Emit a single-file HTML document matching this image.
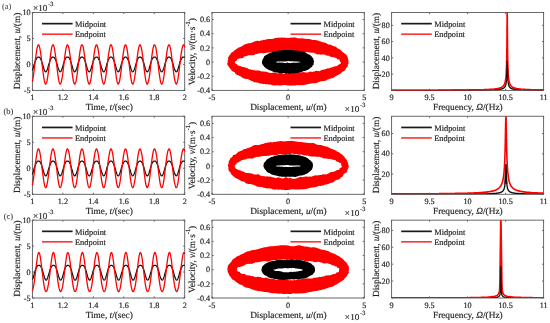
<!DOCTYPE html>
<html><head><meta charset="utf-8"><title>Figure</title>
<style>
html,body{margin:0;padding:0;background:#fff;}
body{width:550px;height:323px;overflow:hidden;}
svg{display:block;filter:blur(0.3px);}
text{font-family:"Liberation Serif", "Times New Roman", serif;fill:#262626;stroke:#262626;stroke-width:0.18px;text-rendering:geometricPrecision;}
</style></head><body>
<svg width="550" height="323" viewBox="0 0 550 323">
<rect width="550" height="323" fill="#fff"/>
<rect x="32.40" y="12.45" width="152.30" height="77.95" fill="none" stroke="#5a5a5a" stroke-width="0.9"/>
<path d="M32.4 70.4L32.7 69.7L33.0 68.8L33.3 67.9L33.6 66.8L33.9 65.8L34.2 64.7L34.5 63.6L34.8 62.6L35.1 61.7L35.4 60.8L35.8 60.0L36.1 59.3L36.4 58.7L36.7 58.2L37.0 57.8L37.3 57.5L37.6 57.3L37.9 57.1L38.2 57.0L38.5 57.0L38.8 57.0L39.1 57.1L39.4 57.3L39.7 57.6L40.0 57.9L40.3 58.3L40.6 58.9L40.9 59.5L41.2 60.2L41.5 61.0L41.8 61.9L42.1 62.8L42.5 63.8L42.8 64.9L43.1 66.0L43.4 67.0L43.7 68.1L44.0 69.0L44.3 69.9L44.6 70.6L44.9 71.2L45.2 71.6L45.5 71.8L45.8 71.8L46.1 71.7L46.4 71.4L46.7 70.8L47.0 70.2L47.3 69.4L47.6 68.5L47.9 67.5L48.2 66.4L48.5 65.3L48.8 64.3L49.2 63.2L49.5 62.3L49.8 61.3L50.1 60.5L50.4 59.8L50.7 59.1L51.0 58.5L51.3 58.1L51.6 57.7L51.9 57.4L52.2 57.2L52.5 57.1L52.8 57.0L53.1 57.0L53.4 57.1L53.7 57.2L54.0 57.4L54.3 57.7L54.6 58.1L54.9 58.5L55.2 59.1L55.5 59.7L55.9 60.5L56.2 61.3L56.5 62.2L56.8 63.2L57.1 64.2L57.4 65.3L57.7 66.4L58.0 67.4L58.3 68.4L58.6 69.3L58.9 70.1L59.2 70.8L59.5 71.3L59.8 71.7L60.1 71.8L60.4 71.8L60.7 71.6L61.0 71.2L61.3 70.6L61.6 69.9L61.9 69.0L62.3 68.1L62.6 67.1L62.9 66.0L63.2 64.9L63.5 63.9L63.8 62.9L64.1 61.9L64.4 61.0L64.7 60.2L65.0 59.5L65.3 58.9L65.6 58.4L65.9 57.9L66.2 57.6L66.5 57.3L66.8 57.1L67.1 57.0L67.4 57.0L67.7 57.0L68.0 57.1L68.3 57.3L68.6 57.5L69.0 57.8L69.3 58.2L69.6 58.7L69.9 59.3L70.2 60.0L70.5 60.8L70.8 61.6L71.1 62.6L71.4 63.6L71.7 64.6L72.0 65.7L72.3 66.8L72.6 67.8L72.9 68.8L73.2 69.7L73.5 70.4L73.8 71.0L74.1 71.5L74.4 71.8L74.7 71.8L75.0 71.7L75.3 71.4L75.7 71.0L76.0 70.3L76.3 69.6L76.6 68.7L76.9 67.7L77.2 66.7L77.5 65.6L77.8 64.5L78.1 63.5L78.4 62.5L78.7 61.6L79.0 60.7L79.3 59.9L79.6 59.2L79.9 58.7L80.2 58.2L80.5 57.8L80.8 57.5L81.1 57.2L81.4 57.1L81.7 57.0L82.0 57.0L82.4 57.0L82.7 57.2L83.0 57.3L83.3 57.6L83.6 58.0L83.9 58.4L84.2 58.9L84.5 59.6L84.8 60.3L85.1 61.1L85.4 62.0L85.7 63.0L86.0 64.0L86.3 65.1L86.6 66.1L86.9 67.2L87.2 68.2L87.5 69.1L87.8 70.0L88.1 70.7L88.4 71.2L88.8 71.6L89.1 71.8L89.4 71.8L89.7 71.7L90.0 71.3L90.3 70.8L90.6 70.1L90.9 69.2L91.2 68.3L91.5 67.3L91.8 66.3L92.1 65.2L92.4 64.1L92.7 63.1L93.0 62.1L93.3 61.2L93.6 60.4L93.9 59.7L94.2 59.0L94.5 58.5L94.8 58.0L95.1 57.7L95.5 57.4L95.8 57.2L96.1 57.0L96.4 57.0L96.7 57.0L97.0 57.1L97.3 57.2L97.6 57.4L97.9 57.7L98.2 58.1L98.5 58.6L98.8 59.2L99.1 59.8L99.4 60.6L99.7 61.4L100.0 62.4L100.3 63.4L100.6 64.4L100.9 65.5L101.2 66.5L101.5 67.6L101.8 68.6L102.2 69.5L102.5 70.3L102.8 70.9L103.1 71.4L103.4 71.7L103.7 71.8L104.0 71.8L104.3 71.5L104.6 71.1L104.9 70.5L105.2 69.8L105.5 68.9L105.8 67.9L106.1 66.9L106.4 65.9L106.7 64.8L107.0 63.7L107.3 62.7L107.6 61.8L107.9 60.9L108.2 60.1L108.5 59.4L108.9 58.8L109.2 58.3L109.5 57.9L109.8 57.5L110.1 57.3L110.4 57.1L110.7 57.0L111.0 57.0L111.3 57.0L111.6 57.1L111.9 57.3L112.2 57.5L112.5 57.9L112.8 58.3L113.1 58.8L113.4 59.4L113.7 60.1L114.0 60.9L114.3 61.8L114.6 62.7L114.9 63.7L115.3 64.8L115.6 65.9L115.9 66.9L116.2 68.0L116.5 68.9L116.8 69.8L117.1 70.5L117.4 71.1L117.7 71.5L118.0 71.8L118.3 71.8L118.6 71.7L118.9 71.4L119.2 70.9L119.5 70.2L119.8 69.5L120.1 68.6L120.4 67.6L120.7 66.5L121.0 65.5L121.3 64.4L121.6 63.3L122.0 62.4L122.3 61.4L122.6 60.6L122.9 59.8L123.2 59.2L123.5 58.6L123.8 58.1L124.1 57.7L124.4 57.4L124.7 57.2L125.0 57.1L125.3 57.0L125.6 57.0L125.9 57.1L126.2 57.2L126.5 57.4L126.8 57.7L127.1 58.0L127.4 58.5L127.7 59.0L128.0 59.7L128.3 60.4L128.7 61.2L129.0 62.1L129.3 63.1L129.6 64.1L129.9 65.2L130.2 66.3L130.5 67.3L130.8 68.3L131.1 69.3L131.4 70.1L131.7 70.8L132.0 71.3L132.3 71.7L132.6 71.8L132.9 71.8L133.2 71.6L133.5 71.2L133.8 70.7L134.1 70.0L134.4 69.1L134.7 68.2L135.1 67.2L135.4 66.1L135.7 65.0L136.0 64.0L136.3 63.0L136.6 62.0L136.9 61.1L137.2 60.3L137.5 59.6L137.8 58.9L138.1 58.4L138.4 58.0L138.7 57.6L139.0 57.3L139.3 57.2L139.6 57.0L139.9 57.0L140.2 57.0L140.5 57.1L140.8 57.2L141.1 57.5L141.4 57.8L141.8 58.2L142.1 58.7L142.4 59.3L142.7 59.9L143.0 60.7L143.3 61.6L143.6 62.5L143.9 63.5L144.2 64.5L144.5 65.6L144.8 66.7L145.1 67.7L145.4 68.7L145.7 69.6L146.0 70.4L146.3 71.0L146.6 71.5L146.9 71.7L147.2 71.8L147.5 71.8L147.8 71.5L148.1 71.0L148.5 70.4L148.8 69.7L149.1 68.8L149.4 67.8L149.7 66.8L150.0 65.7L150.3 64.6L150.6 63.6L150.9 62.6L151.2 61.6L151.5 60.8L151.8 60.0L152.1 59.3L152.4 58.7L152.7 58.2L153.0 57.8L153.3 57.5L153.6 57.3L153.9 57.1L154.2 57.0L154.5 57.0L154.8 57.0L155.2 57.1L155.5 57.3L155.8 57.6L156.1 57.9L156.4 58.4L156.7 58.9L157.0 59.5L157.3 60.2L157.6 61.0L157.9 61.9L158.2 62.9L158.5 63.9L158.8 65.0L159.1 66.0L159.4 67.1L159.7 68.1L160.0 69.0L160.3 69.9L160.6 70.6L160.9 71.2L161.2 71.6L161.6 71.8L161.9 71.8L162.2 71.7L162.5 71.3L162.8 70.8L163.1 70.1L163.4 69.3L163.7 68.4L164.0 67.4L164.3 66.4L164.6 65.3L164.9 64.2L165.2 63.2L165.5 62.2L165.8 61.3L166.1 60.5L166.4 59.7L166.7 59.1L167.0 58.5L167.3 58.1L167.6 57.7L167.9 57.4L168.3 57.2L168.6 57.1L168.9 57.0L169.2 57.0L169.5 57.1L169.8 57.2L170.1 57.4L170.4 57.7L170.7 58.1L171.0 58.5L171.3 59.1L171.6 59.8L171.9 60.5L172.2 61.3L172.5 62.3L172.8 63.3L173.1 64.3L173.4 65.4L173.7 66.4L174.0 67.5L174.3 68.5L174.6 69.4L175.0 70.2L175.3 70.8L175.6 71.4L175.9 71.7L176.2 71.8L176.5 71.8L176.8 71.6L177.1 71.2L177.4 70.6L177.7 69.8L178.0 69.0L178.3 68.0L178.6 67.0L178.9 66.0L179.2 64.9L179.5 63.8L179.8 62.8L180.1 61.9L180.4 61.0L180.7 60.2L181.0 59.5L181.3 58.9L181.7 58.3L182.0 57.9L182.3 57.6L182.6 57.3L182.9 57.1L183.2 57.0L183.5 57.0L183.8 57.0L184.1 57.1L184.4 57.3L184.7 57.5" fill="none" stroke="#111" stroke-width="1.25" stroke-linejoin="round"/>
<path d="M32.4 81.5L32.7 80.1L33.0 78.4L33.3 76.4L33.6 74.3L33.9 72.0L34.2 69.5L34.5 67.0L34.8 64.4L35.1 61.8L35.4 59.3L35.8 56.8L36.1 54.5L36.4 52.4L36.7 50.4L37.0 48.7L37.3 47.3L37.6 46.2L37.9 45.4L38.2 44.9L38.5 44.8L38.8 45.0L39.1 45.5L39.4 46.4L39.7 47.6L40.0 49.1L40.3 50.8L40.6 52.8L40.9 55.0L41.2 57.3L41.5 59.8L41.8 62.3L42.1 64.9L42.5 67.5L42.8 70.0L43.1 72.5L43.4 74.7L43.7 76.9L44.0 78.7L44.3 80.4L44.6 81.8L44.9 82.8L45.2 83.6L45.5 84.0L45.8 84.0L46.1 83.8L46.4 83.2L46.7 82.2L47.0 81.0L47.3 79.5L47.6 77.7L47.9 75.7L48.2 73.4L48.5 71.1L48.8 68.6L49.2 66.0L49.5 63.4L49.8 60.8L50.1 58.3L50.4 55.9L50.7 53.7L51.0 51.6L51.3 49.8L51.6 48.2L51.9 46.9L52.2 45.8L52.5 45.2L52.8 44.8L53.1 44.8L53.4 45.1L53.7 45.8L54.0 46.8L54.3 48.1L54.6 49.7L54.9 51.5L55.2 53.6L55.5 55.8L55.9 58.2L56.2 60.7L56.5 63.3L56.8 65.9L57.1 68.5L57.4 71.0L57.7 73.3L58.0 75.6L58.3 77.6L58.6 79.4L58.9 80.9L59.2 82.2L59.5 83.1L59.8 83.8L60.1 84.0L60.4 84.0L60.7 83.6L61.0 82.9L61.3 81.8L61.6 80.4L61.9 78.8L62.3 76.9L62.6 74.8L62.9 72.5L63.2 70.1L63.5 67.6L63.8 65.0L64.1 62.4L64.4 59.9L64.7 57.4L65.0 55.1L65.3 52.9L65.6 50.9L65.9 49.1L66.2 47.6L66.5 46.4L66.8 45.5L67.1 45.0L67.4 44.8L67.7 44.9L68.0 45.4L68.3 46.2L68.6 47.3L69.0 48.7L69.3 50.4L69.6 52.3L69.9 54.4L70.2 56.7L70.5 59.2L70.8 61.7L71.1 64.3L71.4 66.9L71.7 69.4L72.0 71.9L72.3 74.2L72.6 76.4L72.9 78.3L73.2 80.0L73.5 81.5L73.8 82.6L74.1 83.4L74.4 83.9L74.7 84.1L75.0 83.9L75.3 83.3L75.7 82.5L76.0 81.3L76.3 79.9L76.6 78.1L76.9 76.2L77.2 74.0L77.5 71.6L77.8 69.2L78.1 66.6L78.4 64.0L78.7 61.5L79.0 58.9L79.3 56.5L79.6 54.2L79.9 52.1L80.2 50.2L80.5 48.5L80.8 47.1L81.1 46.1L81.4 45.3L81.7 44.9L82.0 44.8L82.4 45.0L82.7 45.6L83.0 46.5L83.3 47.8L83.6 49.3L83.9 51.1L84.2 53.1L84.5 55.3L84.8 57.7L85.1 60.1L85.4 62.7L85.7 65.3L86.0 67.9L86.3 70.4L86.6 72.8L86.9 75.1L87.2 77.1L87.5 79.0L87.8 80.6L88.1 81.9L88.4 82.9L88.8 83.6L89.1 84.0L89.4 84.0L89.7 83.7L90.0 83.1L90.3 82.1L90.6 80.8L90.9 79.2L91.2 77.4L91.5 75.3L91.8 73.1L92.1 70.7L92.4 68.2L92.7 65.6L93.0 63.0L93.3 60.5L93.6 58.0L93.9 55.6L94.2 53.4L94.5 51.3L94.8 49.5L95.1 48.0L95.5 46.7L95.8 45.7L96.1 45.1L96.4 44.8L96.7 44.8L97.0 45.2L97.3 45.9L97.6 47.0L97.9 48.3L98.2 49.9L98.5 51.8L98.8 53.9L99.1 56.2L99.4 58.6L99.7 61.1L100.0 63.7L100.3 66.3L100.6 68.8L100.9 71.3L101.2 73.7L101.5 75.9L101.8 77.9L102.2 79.6L102.5 81.1L102.8 82.4L103.1 83.2L103.4 83.8L103.7 84.1L104.0 83.9L104.3 83.5L104.6 82.7L104.9 81.6L105.2 80.2L105.5 78.6L105.8 76.6L106.1 74.5L106.4 72.2L106.7 69.8L107.0 67.2L107.3 64.7L107.6 62.1L107.9 59.5L108.2 57.1L108.5 54.7L108.9 52.6L109.2 50.6L109.5 48.9L109.8 47.4L110.1 46.3L110.4 45.5L110.7 44.9L111.0 44.8L111.3 44.9L111.6 45.5L111.9 46.3L112.2 47.5L112.5 48.9L112.8 50.6L113.1 52.6L113.4 54.7L113.7 57.1L114.0 59.5L114.3 62.1L114.6 64.7L114.9 67.3L115.3 69.8L115.6 72.2L115.9 74.5L116.2 76.7L116.5 78.6L116.8 80.2L117.1 81.6L117.4 82.7L117.7 83.5L118.0 83.9L118.3 84.1L118.6 83.8L118.9 83.2L119.2 82.3L119.5 81.1L119.8 79.6L120.1 77.9L120.4 75.9L120.7 73.7L121.0 71.3L121.3 68.8L121.6 66.3L122.0 63.7L122.3 61.1L122.6 58.6L122.9 56.2L123.2 53.9L123.5 51.8L123.8 49.9L124.1 48.3L124.4 47.0L124.7 45.9L125.0 45.2L125.3 44.8L125.6 44.8L125.9 45.1L126.2 45.7L126.5 46.7L126.8 48.0L127.1 49.5L127.4 51.3L127.7 53.4L128.0 55.6L128.3 58.0L128.7 60.5L129.0 63.1L129.3 65.7L129.6 68.2L129.9 70.7L130.2 73.1L130.5 75.4L130.8 77.4L131.1 79.2L131.4 80.8L131.7 82.1L132.0 83.1L132.3 83.7L132.6 84.0L132.9 84.0L133.2 83.6L133.5 82.9L133.8 81.9L134.1 80.6L134.4 79.0L134.7 77.1L135.1 75.0L135.4 72.8L135.7 70.4L136.0 67.8L136.3 65.3L136.6 62.7L136.9 60.1L137.2 57.6L137.5 55.3L137.8 53.1L138.1 51.1L138.4 49.3L138.7 47.8L139.0 46.5L139.3 45.6L139.6 45.0L139.9 44.8L140.2 44.9L140.5 45.3L140.8 46.1L141.1 47.1L141.4 48.5L141.8 50.2L142.1 52.1L142.4 54.2L142.7 56.5L143.0 58.9L143.3 61.5L143.6 64.1L143.9 66.6L144.2 69.2L144.5 71.7L144.8 74.0L145.1 76.2L145.4 78.1L145.7 79.9L146.0 81.3L146.3 82.5L146.6 83.4L146.9 83.9L147.2 84.1L147.5 83.9L147.8 83.4L148.1 82.6L148.5 81.4L148.8 80.0L149.1 78.3L149.4 76.3L149.7 74.2L150.0 71.9L150.3 69.4L150.6 66.9L150.9 64.3L151.2 61.7L151.5 59.2L151.8 56.7L152.1 54.4L152.4 52.3L152.7 50.3L153.0 48.7L153.3 47.3L153.6 46.1L153.9 45.4L154.2 44.9L154.5 44.8L154.8 45.0L155.2 45.6L155.5 46.4L155.8 47.6L156.1 49.1L156.4 50.9L156.7 52.9L157.0 55.1L157.3 57.4L157.6 59.9L157.9 62.5L158.2 65.0L158.5 67.6L158.8 70.1L159.1 72.6L159.4 74.8L159.7 76.9L160.0 78.8L160.3 80.5L160.6 81.8L160.9 82.9L161.2 83.6L161.6 84.0L161.9 84.0L162.2 83.8L162.5 83.1L162.8 82.2L163.1 80.9L163.4 79.4L163.7 77.6L164.0 75.5L164.3 73.3L164.6 70.9L164.9 68.4L165.2 65.9L165.5 63.3L165.8 60.7L166.1 58.2L166.4 55.8L166.7 53.6L167.0 51.5L167.3 49.7L167.6 48.1L167.9 46.8L168.3 45.8L168.6 45.1L168.9 44.8L169.2 44.8L169.5 45.2L169.8 45.9L170.1 46.9L170.4 48.2L170.7 49.8L171.0 51.6L171.3 53.7L171.6 56.0L171.9 58.4L172.2 60.9L172.5 63.4L172.8 66.0L173.1 68.6L173.4 71.1L173.7 73.5L174.0 75.7L174.3 77.7L174.6 79.5L175.0 81.0L175.3 82.2L175.6 83.2L175.9 83.8L176.2 84.0L176.5 84.0L176.8 83.6L177.1 82.8L177.4 81.7L177.7 80.4L178.0 78.7L178.3 76.8L178.6 74.7L178.9 72.4L179.2 70.0L179.5 67.5L179.8 64.9L180.1 62.3L180.4 59.8L180.7 57.3L181.0 54.9L181.3 52.8L181.7 50.8L182.0 49.0L182.3 47.6L182.6 46.4L182.9 45.5L183.2 45.0L183.5 44.8L183.8 44.9L184.1 45.4L184.4 46.2L184.7 47.3" fill="none" stroke="#ff0000" stroke-width="1.3" stroke-linejoin="round"/>
<path d="M32.40 90.40v-1.6M32.40 12.45v1.6" stroke="#5a5a5a" stroke-width="0.9"/>
<text x="32.40" y="100.00" text-anchor="middle" font-size="8.2">1</text>
<path d="M62.86 90.40v-1.6M62.86 12.45v1.6" stroke="#5a5a5a" stroke-width="0.9"/>
<text x="62.86" y="100.00" text-anchor="middle" font-size="8.2">1.2</text>
<path d="M93.32 90.40v-1.6M93.32 12.45v1.6" stroke="#5a5a5a" stroke-width="0.9"/>
<text x="93.32" y="100.00" text-anchor="middle" font-size="8.2">1.4</text>
<path d="M123.78 90.40v-1.6M123.78 12.45v1.6" stroke="#5a5a5a" stroke-width="0.9"/>
<text x="123.78" y="100.00" text-anchor="middle" font-size="8.2">1.6</text>
<path d="M154.24 90.40v-1.6M154.24 12.45v1.6" stroke="#5a5a5a" stroke-width="0.9"/>
<text x="154.24" y="100.00" text-anchor="middle" font-size="8.2">1.8</text>
<path d="M184.70 90.40v-1.6M184.70 12.45v1.6" stroke="#5a5a5a" stroke-width="0.9"/>
<text x="184.70" y="100.00" text-anchor="middle" font-size="8.2">2</text>
<path d="M32.40 90.40h1.6M184.70 90.40h-1.6" stroke="#5a5a5a" stroke-width="0.9"/>
<text x="30.60" y="93.05" text-anchor="end" font-size="8.2">-5</text>
<path d="M32.40 64.42h1.6M184.70 64.42h-1.6" stroke="#5a5a5a" stroke-width="0.9"/>
<text x="30.60" y="67.07" text-anchor="end" font-size="8.2">0</text>
<path d="M32.40 38.43h1.6M184.70 38.43h-1.6" stroke="#5a5a5a" stroke-width="0.9"/>
<text x="30.60" y="41.08" text-anchor="end" font-size="8.2">5</text>
<path d="M32.40 12.45h1.6M184.70 12.45h-1.6" stroke="#5a5a5a" stroke-width="0.9"/>
<text x="30.60" y="15.10" text-anchor="end" font-size="8.2">10</text>
<text x="33.00" y="11.15" font-size="9.1">×10<tspan font-size="6.3" dx="0.9" dy="-4.8">-3</tspan></text>
<path d="M42.00 23.65h30.6" stroke="#1a1a1a" stroke-width="1.7"/>
<path d="M42.00 34.15h30.6" stroke="#ff0000" stroke-width="1.3"/>
<text x="75.00" y="26.85" font-size="8.4">Midpoint</text>
<text x="75.00" y="37.35" font-size="8.4">Endpoint</text>
<text x="109.25" y="110.00" text-anchor="middle" font-size="9.3">Time, <tspan font-style="italic">t</tspan>/(sec)</text>
<text transform="translate(20.2 50.93) rotate(-90)" text-anchor="middle" font-size="9.3">Displacement, <tspan font-style="italic">u</tspan>/(m)</text>
<rect x="212.00" y="12.45" width="152.30" height="77.95" fill="none" stroke="#5a5a5a" stroke-width="0.9"/>
<path d="M348.4 61.7L348.2 62.0L348.5 62.4L348.6 62.8L348.6 63.2L348.4 63.5L348.4 63.9L348.1 64.3L347.8 64.6L347.8 65.0L348.0 65.4L347.6 65.8L347.7 66.2L347.6 66.6L347.2 66.9L346.7 67.2L346.7 67.6L346.3 68.0L346.1 68.3L345.9 68.7L345.6 69.1L345.3 69.5L345.2 69.9L345.0 70.3L344.6 70.6L344.2 71.0L343.6 71.2L342.9 71.4L342.5 71.7L341.9 72.0L341.6 72.4L341.5 72.9L341.1 73.3L340.5 73.5L340.1 73.9L339.5 74.1L338.9 74.4L338.6 74.8L337.9 75.0L337.3 75.3L336.9 75.7L336.1 75.9L335.4 76.1L335.1 76.5L334.6 76.9L334.0 77.2L333.6 77.8L332.9 77.9L332.2 78.2L331.4 78.3L330.8 78.6L329.9 78.7L329.4 79.1L328.6 79.2L327.8 79.4L327.1 79.7L326.6 80.2L325.8 80.4L325.1 80.7L324.4 81.0L323.5 81.0L322.7 81.1L321.8 81.2L321.0 81.3L320.2 81.6L319.4 81.8L318.6 82.0L317.9 82.4L317.2 82.8L316.4 83.0L315.6 83.2L314.7 83.3L313.7 83.2L312.8 83.3L311.9 83.4L311.0 83.6L310.1 83.6L309.3 83.9L308.4 83.9L307.5 84.1L306.7 84.4L305.8 84.8L304.9 84.8L304.0 84.9L303.1 85.2L302.2 85.1L301.2 85.2L300.3 85.2L299.3 85.3L298.4 85.1L297.4 85.2L296.5 85.1L295.6 85.4L294.6 85.5L293.7 85.5L292.7 85.5L291.8 85.5L290.9 85.7L289.9 85.6L288.9 85.5L288.0 85.4L287.1 85.4L286.1 85.0L285.2 84.9L284.2 84.9L283.3 85.1L282.3 85.2L281.4 85.4L280.4 85.5L279.5 85.5L278.5 85.5L277.6 85.2L276.7 85.3L275.7 85.4L274.7 85.4L273.8 85.3L272.9 85.3L271.9 85.2L271.1 84.8L270.2 84.5L269.3 84.5L268.4 84.4L267.5 84.2L266.6 84.2L265.6 84.3L264.7 84.1L263.8 84.0L262.9 84.0L262.1 83.7L261.2 83.6L260.3 83.5L259.4 83.4L258.8 82.8L257.8 82.8L257.0 82.6L256.2 82.5L255.3 82.3L254.5 82.2L253.7 81.9L253.1 81.5L252.4 81.1L251.6 80.9L250.9 80.6L250.3 80.3L249.5 80.0L248.9 79.7L248.4 79.2L247.7 78.9L246.8 78.9L245.9 78.9L245.2 78.7L244.4 78.5L243.5 78.4L243.0 78.0L242.5 77.6L241.8 77.4L241.3 77.0L240.8 76.6L240.3 76.3L239.6 76.1L239.1 75.7L238.6 75.4L238.0 75.1L237.3 74.9L236.7 74.7L236.2 74.3L235.7 74.0L235.3 73.6L235.1 73.1L235.0 72.6L234.7 72.2L234.1 72.0L233.6 71.7L233.0 71.5L232.5 71.2L232.0 70.9L231.6 70.5L231.4 70.2L231.2 69.7L230.8 69.4L230.6 69.0L230.3 68.7L230.0 68.3L229.7 68.0L229.4 67.6L229.1 67.3L228.9 66.9L228.6 66.5L228.3 66.2L228.2 65.8L227.9 65.5L227.6 65.1L227.4 64.7L227.3 64.3L227.3 63.9L227.2 63.6L227.2 63.2L227.6 62.8L227.7 62.4L227.6 62.0L227.6 61.7L227.7 61.3L227.6 60.9L227.7 60.5L227.8 60.2L228.2 59.8L228.2 59.4L228.0 59.0L228.1 58.7L228.0 58.3L227.8 57.8L228.2 57.5L228.5 57.1L228.6 56.7L228.7 56.4L229.0 56.0L229.3 55.6L229.6 55.3L229.7 54.9L230.2 54.6L230.6 54.3L230.6 53.8L230.7 53.4L231.0 53.0L231.4 52.7L232.0 52.4L232.4 52.1L233.0 51.8L233.6 51.6L233.8 51.1L234.1 50.7L234.5 50.4L234.9 50.1L235.6 49.8L236.1 49.6L236.4 49.1L236.8 48.7L237.4 48.4L237.6 47.9L238.2 47.7L239.0 47.5L239.7 47.3L240.1 46.9L240.9 46.7L241.6 46.5L242.0 46.1L242.6 45.7L243.2 45.4L243.7 45.1L244.1 44.6L245.0 44.5L245.7 44.2L246.3 43.8L247.1 43.7L247.9 43.6L248.6 43.2L249.5 43.2L250.3 43.1L251.1 42.9L251.8 42.6L252.6 42.4L253.3 42.1L254.0 41.8L254.6 41.3L255.4 41.2L256.2 40.9L257.1 40.8L258.0 40.8L259.0 40.9L259.9 40.9L260.7 40.5L261.6 40.5L262.4 40.3L263.2 39.9L264.0 39.7L265.0 39.9L265.8 39.4L266.7 39.3L267.6 39.2L268.4 39.1L269.3 38.9L270.3 39.1L271.2 38.9L272.1 38.9L273.0 38.7L273.9 38.5L274.8 38.2L275.7 37.8L276.6 37.9L277.6 37.7L278.5 37.6L279.5 37.7L280.4 37.8L281.3 37.5L282.3 37.6L283.3 37.8L284.2 37.6L285.2 37.7L286.1 38.0L287.1 37.9L288.0 37.8L288.9 38.0L289.9 37.8L290.9 37.5L291.8 37.7L292.8 37.5L293.7 37.4L294.7 37.4L295.6 37.6L296.5 37.8L297.4 38.2L298.4 38.2L299.3 38.2L300.2 38.5L301.2 38.3L302.1 38.3L303.0 38.4L303.9 38.6L304.9 38.7L305.7 38.9L306.7 38.8L307.5 39.1L308.5 39.0L309.4 39.0L310.3 39.3L311.1 39.5L312.0 39.7L312.9 39.9L313.7 40.1L314.7 39.9L315.5 40.1L316.4 40.2L317.2 40.5L318.2 40.4L318.9 40.9L319.6 41.2L320.4 41.5L321.2 41.6L321.8 42.1L322.6 42.2L323.5 42.3L324.3 42.5L325.0 42.8L325.8 42.9L326.5 43.3L327.0 43.7L327.6 44.1L328.2 44.5L329.0 44.6L329.9 44.6L330.6 44.8L331.4 45.0L332.0 45.3L332.6 45.7L333.1 46.0L333.9 46.2L334.7 46.3L335.4 46.5L335.9 46.9L336.4 47.2L336.9 47.6L337.3 48.0L337.6 48.4L338.3 48.6L338.9 48.9L339.5 49.2L340.0 49.5L340.5 49.8L340.8 50.2L341.1 50.6L341.5 51.0L341.8 51.3L342.2 51.7L342.7 52.0L343.1 52.3L343.3 52.7L343.7 53.0L344.2 53.3L344.7 53.6L345.3 53.9L345.7 54.2L346.2 54.5L346.5 54.8L346.6 55.2L346.8 55.6L347.0 56.0L347.3 56.4L347.4 56.8L347.7 57.1L347.9 57.5L347.8 57.9L347.8 58.3L348.0 58.6L348.0 59.0L348.2 59.4L348.4 59.8L348.6 60.1L348.4 60.5L348.5 60.9L348.4 61.3ZM340.3 62.1L340.1 61.9L339.8 61.8L339.9 61.6L340.0 61.4L340.0 61.2L340.0 61.0L339.6 60.9L339.8 60.7L339.6 60.5L339.7 60.3L339.7 60.1L339.7 59.9L339.4 59.7L339.0 59.6L338.3 59.5L337.9 59.3L337.6 59.2L337.1 59.1L337.3 58.7L337.0 58.6L336.6 58.4L336.4 58.2L336.3 57.9L335.5 57.9L335.2 57.7L334.8 57.5L334.1 57.4L333.6 57.3L333.3 57.1L332.9 56.9L331.9 57.0L331.3 56.9L330.8 56.7L330.5 56.4L329.7 56.4L329.4 56.1L329.1 55.7L328.3 55.8L327.5 55.8L327.0 55.6L326.4 55.4L325.8 55.2L325.4 54.9L325.1 54.5L324.3 54.4L323.5 54.4L322.5 54.6L321.7 54.6L320.8 54.7L320.1 54.6L319.3 54.6L318.8 54.3L317.9 54.4L317.1 54.4L316.5 54.1L316.0 53.7L315.3 53.6L314.7 53.3L314.0 53.0L313.4 52.6L312.5 52.8L311.7 52.8L310.9 52.7L310.3 52.4L309.4 52.5L308.8 52.2L307.9 52.4L307.2 52.1L306.3 52.3L305.5 52.4L304.7 52.6L304.0 52.4L303.2 52.4L302.5 52.3L301.8 52.2L301.1 51.8L300.4 51.8L299.7 51.7L299.0 51.5L298.4 51.1L297.6 51.2L297.0 51.0L296.2 51.3L295.6 51.4L294.9 51.2L294.3 51.3L293.7 51.1L293.1 51.0L292.4 51.1L291.9 51.2L291.3 51.2L290.8 51.2L290.2 51.2L289.8 51.2L289.3 51.3L288.9 51.4L288.5 51.0L288.2 50.7L288.0 50.9L287.8 50.9L287.5 50.6L287.1 50.8L286.7 51.3L286.2 50.9L285.7 50.8L285.2 50.8L284.7 51.1L284.1 50.7L283.5 50.9L283.0 51.1L282.3 51.0L281.7 51.0L281.1 51.5L280.5 51.4L279.8 51.4L279.1 51.4L278.4 51.5L277.7 51.4L277.0 51.4L276.4 51.9L275.7 52.3L274.9 51.9L274.1 51.8L273.4 52.0L272.6 51.9L271.8 51.9L271.2 52.3L270.5 52.5L269.7 52.4L269.0 52.6L268.1 52.4L267.3 52.5L266.7 52.8L266.0 52.9L265.1 52.9L264.5 53.2L263.8 53.3L262.9 53.2L262.1 53.2L261.2 53.1L260.3 52.9L259.5 53.0L259.0 53.5L258.3 53.6L257.6 53.8L257.0 54.0L256.3 54.1L255.5 54.1L255.0 54.5L254.5 54.8L254.0 55.1L253.3 55.2L252.6 55.3L251.7 55.2L250.9 55.2L250.2 55.2L249.2 55.1L248.6 55.3L248.1 55.5L247.5 55.6L247.1 55.9L246.6 56.1L245.9 56.2L245.4 56.3L244.8 56.5L244.2 56.6L243.9 56.9L243.7 57.2L243.5 57.5L243.2 57.7L242.9 57.9L242.4 58.0L241.9 58.2L241.2 58.2L240.5 58.2L240.0 58.3L239.7 58.5L238.9 58.5L238.4 58.7L238.3 58.9L237.7 59.0L237.4 59.2L237.1 59.3L237.2 59.6L237.0 59.8L237.1 60.0L236.7 60.2L236.9 60.4L236.6 60.6L236.4 60.7L236.1 60.9L235.8 61.0L235.4 61.2L235.2 61.3L235.0 61.5L235.0 61.7L235.0 61.9L235.1 62.1L235.0 62.3L234.8 62.4L234.7 62.6L234.9 62.8L235.1 63.0L235.0 63.2L235.3 63.3L235.8 63.5L236.0 63.7L236.1 63.8L236.7 63.9L236.8 64.1L236.9 64.3L236.9 64.5L237.1 64.7L237.2 64.9L237.5 65.1L237.7 65.3L238.2 65.4L238.6 65.5L238.9 65.7L239.4 65.8L239.9 65.9L240.4 66.0L240.8 66.2L241.0 66.4L241.6 66.5L241.8 66.7L242.2 66.9L242.7 67.0L243.5 67.0L244.0 67.2L244.4 67.3L245.0 67.5L245.5 67.6L246.1 67.7L246.6 67.9L247.3 67.9L247.5 68.3L248.0 68.5L248.3 68.9L248.9 69.0L249.3 69.4L250.3 69.2L250.7 69.6L251.3 69.7L252.0 69.8L252.8 69.8L253.2 70.2L254.1 70.1L254.8 70.3L255.3 70.6L256.2 70.5L257.1 70.4L257.8 70.5L258.6 70.5L259.3 70.6L260.0 70.9L260.6 71.1L261.2 71.4L262.1 71.3L262.8 71.6L263.6 71.5L264.3 71.7L265.2 71.6L265.9 71.8L266.7 71.7L267.3 72.2L268.1 72.2L268.7 72.6L269.4 72.8L270.2 72.9L270.9 73.0L271.8 72.9L272.6 72.8L273.4 72.6L274.2 72.5L274.9 72.6L275.6 72.7L276.3 73.0L276.9 73.2L277.6 73.5L278.4 73.2L279.1 73.1L279.8 73.0L280.5 73.0L281.2 72.7L281.8 72.8L282.4 73.3L283.0 73.4L283.6 73.5L284.1 73.7L284.7 73.6L285.2 73.1L285.8 72.9L286.2 73.1L286.7 73.2L287.1 73.5L287.5 73.6L287.8 73.5L288.0 73.3L288.2 72.9L288.5 72.8L288.9 72.8L289.3 72.7L289.7 72.7L290.2 72.7L290.7 72.7L291.3 72.9L291.8 72.9L292.4 72.7L293.0 72.9L293.6 72.7L294.2 72.3L294.8 72.2L295.4 72.4L296.1 72.4L296.8 72.3L297.5 72.4L298.2 72.4L298.9 72.5L299.5 72.2L300.3 72.3L301.0 72.3L301.8 72.3L302.5 72.2L303.2 72.1L304.0 72.2L304.8 72.2L305.7 72.5L306.5 72.5L307.3 72.5L308.0 72.4L308.7 72.1L309.4 71.9L310.0 71.5L310.9 71.7L311.7 71.8L312.6 71.9L313.3 71.6L314.1 71.7L314.7 71.3L315.2 70.9L316.0 70.8L316.9 70.9L317.7 70.9L318.6 71.1L319.5 71.2L320.1 70.9L320.6 70.5L321.3 70.3L321.9 70.1L322.3 69.7L323.1 69.7L323.8 69.6L324.5 69.5L324.9 69.2L325.6 69.1L326.4 69.1L326.7 68.7L327.2 68.4L327.8 68.3L328.6 68.4L329.2 68.3L329.8 68.1L330.3 67.9L330.8 67.8L331.2 67.6L331.5 67.3L332.3 67.3L332.9 67.2L333.3 67.0L333.4 66.7L334.0 66.6L334.1 66.4L334.7 66.3L335.5 66.3L336.2 66.2L336.5 66.0L337.0 65.9L337.5 65.8L337.6 65.6L337.7 65.3L338.0 65.2L338.6 65.1L338.5 64.8L338.7 64.6L339.3 64.6L339.5 64.4L339.3 64.1L339.6 64.0L340.2 63.9L340.3 63.7L340.5 63.5L340.7 63.3L341.0 63.2L341.0 63.0L340.9 62.8L341.1 62.6L341.0 62.4L340.6 62.3Z" fill="#ff0000" fill-rule="evenodd"/>
<path d="M314.0 61.7L313.9 62.0L313.8 62.3L313.7 62.5L313.6 62.8L313.7 63.2L313.7 63.5L313.7 63.8L313.7 64.1L313.8 64.5L313.5 64.8L313.1 65.0L312.9 65.3L312.7 65.5L312.4 65.8L312.3 66.1L312.3 66.5L312.1 66.8L311.8 67.1L311.4 67.3L310.9 67.5L310.5 67.7L310.2 68.0L309.9 68.3L309.7 68.6L309.5 68.9L309.0 69.1L308.7 69.4L308.2 69.5L307.7 69.8L307.2 69.9L306.8 70.2L306.4 70.4L305.9 70.6L305.4 70.7L304.9 70.9L304.3 71.0L303.7 71.1L303.2 71.3L302.8 71.6L302.2 71.8L301.7 72.0L301.0 72.0L300.5 72.2L299.9 72.3L299.3 72.5L298.7 72.7L298.1 72.9L297.4 72.9L296.8 73.1L296.1 73.2L295.4 73.1L294.7 73.2L294.0 73.5L293.2 73.4L292.4 73.2L291.7 73.3L290.9 73.4L290.0 73.4L289.1 73.5L288.0 73.6L286.9 73.5L286.0 73.4L285.2 73.2L284.4 73.1L283.6 73.0L282.8 73.1L282.1 73.1L281.4 73.1L280.6 73.1L279.9 73.0L279.3 72.9L278.6 72.8L278.0 72.8L277.3 72.7L276.7 72.6L276.0 72.5L275.5 72.3L274.8 72.2L274.3 72.1L273.7 71.9L273.1 71.8L272.7 71.5L272.2 71.2L271.8 70.9L271.2 70.8L270.8 70.5L270.3 70.4L269.8 70.3L269.2 70.2L268.8 69.9L268.4 69.7L268.0 69.4L267.6 69.2L267.3 68.9L266.7 68.8L266.4 68.5L265.9 68.4L265.7 68.0L265.3 67.8L265.1 67.5L264.8 67.2L264.5 66.9L264.1 66.8L264.0 66.4L263.7 66.1L263.4 65.9L263.4 65.5L263.3 65.2L262.9 65.0L262.8 64.7L262.6 64.4L262.3 64.1L262.1 63.8L262.1 63.5L261.9 63.2L261.9 62.9L261.9 62.6L262.0 62.3L262.1 62.0L262.2 61.7L262.1 61.3L262.1 61.0L262.2 60.7L262.2 60.4L262.3 60.1L262.5 59.9L262.7 59.6L262.7 59.3L262.8 59.0L263.1 58.7L263.2 58.4L263.3 58.1L263.7 57.9L263.7 57.5L263.9 57.2L264.0 56.9L264.1 56.6L264.3 56.2L264.6 56.0L264.9 55.7L265.3 55.5L265.7 55.3L266.2 55.1L266.5 54.9L266.8 54.6L267.3 54.4L267.6 54.1L267.9 53.8L268.4 53.7L268.8 53.5L269.3 53.2L269.8 53.1L270.3 52.9L270.8 52.7L271.2 52.5L271.7 52.3L272.2 52.1L272.7 51.8L273.1 51.5L273.7 51.4L274.3 51.3L274.9 51.2L275.6 51.2L276.2 51.1L276.8 51.0L277.4 50.9L278.0 50.7L278.7 50.6L279.4 50.6L280.0 50.5L280.7 50.3L281.4 50.2L282.1 50.1L282.8 50.0L283.6 50.0L284.3 49.9L285.2 50.1L286.0 50.0L286.9 50.0L288.0 50.0L289.1 50.1L290.0 49.9L290.8 50.0L291.7 50.0L292.4 50.1L293.2 50.1L293.9 50.3L294.6 50.3L295.3 50.5L296.0 50.6L296.6 50.7L297.3 50.7L297.9 50.8L298.6 50.8L299.3 50.8L299.9 51.0L300.5 51.1L301.0 51.3L301.6 51.4L302.2 51.6L302.8 51.6L303.4 51.7L304.0 51.8L304.4 52.1L304.9 52.3L305.4 52.6L305.8 52.8L306.2 53.1L306.6 53.3L307.0 53.6L307.4 53.8L307.9 54.0L308.3 54.2L308.7 54.4L309.3 54.5L309.7 54.7L310.0 55.0L310.4 55.2L310.8 55.5L311.0 55.8L311.2 56.1L311.5 56.3L311.7 56.6L311.9 56.9L312.1 57.2L312.4 57.5L312.7 57.7L313.0 58.0L313.2 58.3L313.4 58.6L313.4 58.9L313.3 59.3L313.4 59.6L313.4 59.9L313.6 60.2L313.8 60.4L314.0 60.7L314.0 61.0L314.1 61.3ZM300.5 62.0L300.3 62.0L300.1 61.9L300.2 61.9L299.9 61.8L299.5 61.9L299.3 61.8L299.2 61.7L298.7 61.7L298.4 61.6L298.2 61.5L297.7 61.5L297.1 61.6L296.7 61.4L296.2 61.4L295.5 61.5L295.0 61.4L294.4 61.4L293.9 61.3L293.2 61.4L292.6 61.3L292.1 61.2L291.5 61.3L290.9 61.2L290.3 61.3L289.7 61.3L289.2 61.3L288.7 61.1L288.3 61.1L288.0 61.1L287.7 61.0L287.3 61.2L286.8 61.3L286.3 61.4L285.7 61.4L285.1 61.3L284.6 61.4L284.0 61.5L283.4 61.4L282.8 61.4L282.3 61.6L281.6 61.5L280.9 61.3L280.5 61.5L280.0 61.5L279.3 61.4L278.9 61.5L278.4 61.6L277.8 61.5L277.3 61.5L277.1 61.6L276.8 61.7L276.6 61.8L276.6 61.9L276.3 61.9L275.8 61.9L275.6 61.9L275.7 62.0L275.8 62.1L275.9 62.1L275.9 62.2L275.8 62.3L276.2 62.3L276.4 62.4L276.6 62.5L277.0 62.6L277.5 62.5L277.8 62.7L278.4 62.5L279.0 62.5L279.5 62.5L280.0 62.6L280.5 62.6L281.0 62.7L281.7 62.6L282.2 62.7L282.8 62.6L283.4 62.7L283.9 62.9L284.5 63.0L285.1 63.1L285.6 63.2L286.2 63.0L286.8 62.7L287.3 62.6L287.7 62.6L288.0 62.6L288.3 62.8L288.8 63.1L289.2 63.0L289.8 63.0L290.4 63.2L290.9 63.1L291.5 62.8L292.1 63.1L292.7 62.8L293.2 62.7L293.8 62.6L294.5 62.8L295.0 62.7L295.6 62.8L296.2 62.7L296.7 62.7L297.2 62.6L297.5 62.5L297.9 62.4L298.4 62.5L298.8 62.4L299.0 62.3L299.5 62.4L299.9 62.4L299.9 62.3L300.0 62.2L300.4 62.2L300.5 62.1L300.2 62.1L300.3 62.1Z" fill="#000" fill-rule="evenodd"/>
<path d="M212.00 90.40v-1.6M212.00 12.45v1.6" stroke="#5a5a5a" stroke-width="0.9"/>
<text x="212.00" y="100.00" text-anchor="middle" font-size="8.2">-5</text>
<path d="M288.15 90.40v-1.6M288.15 12.45v1.6" stroke="#5a5a5a" stroke-width="0.9"/>
<text x="288.15" y="100.00" text-anchor="middle" font-size="8.2">0</text>
<path d="M364.30 90.40v-1.6M364.30 12.45v1.6" stroke="#5a5a5a" stroke-width="0.9"/>
<text x="364.30" y="100.00" text-anchor="middle" font-size="8.2">5</text>
<path d="M212.00 90.40h1.6M364.30 90.40h-1.6" stroke="#5a5a5a" stroke-width="0.9"/>
<text x="210.20" y="93.05" text-anchor="end" font-size="8.2">-0.4</text>
<path d="M212.00 76.23h1.6M364.30 76.23h-1.6" stroke="#5a5a5a" stroke-width="0.9"/>
<text x="210.20" y="78.88" text-anchor="end" font-size="8.2">-0.2</text>
<path d="M212.00 62.05h1.6M364.30 62.05h-1.6" stroke="#5a5a5a" stroke-width="0.9"/>
<text x="210.20" y="64.70" text-anchor="end" font-size="8.2">0</text>
<path d="M212.00 47.88h1.6M364.30 47.88h-1.6" stroke="#5a5a5a" stroke-width="0.9"/>
<text x="210.20" y="50.53" text-anchor="end" font-size="8.2">0.2</text>
<path d="M212.00 33.71h1.6M364.30 33.71h-1.6" stroke="#5a5a5a" stroke-width="0.9"/>
<text x="210.20" y="36.36" text-anchor="end" font-size="8.2">0.4</text>
<path d="M212.00 19.54h1.6M364.30 19.54h-1.6" stroke="#5a5a5a" stroke-width="0.9"/>
<text x="210.20" y="22.19" text-anchor="end" font-size="8.2">0.6</text>
<text x="344.70" y="112.00" font-size="9.1">×<tspan dx="0.4">10</tspan><tspan font-size="6.3" dx="0.9" dy="-4.8">-3</tspan></text>
<path d="M290.50 23.65h30.6" stroke="#1a1a1a" stroke-width="1.7"/>
<path d="M290.50 34.15h30.6" stroke="#ff0000" stroke-width="1.3"/>
<text x="323.50" y="26.85" font-size="8.4">Midpoint</text>
<text x="323.50" y="37.35" font-size="8.4">Endpoint</text>
<text x="288.35" y="110.00" text-anchor="middle" font-size="9.3">Displacement, <tspan font-style="italic">u</tspan>/(m)</text>
<text transform="translate(195.2 51.73) rotate(-90)" text-anchor="middle" font-size="9.3">Velocity, <tspan font-style="italic">v</tspan>/(m·s<tspan font-size="6.4" dy="-5.3">-1</tspan><tspan dy="5.3">)</tspan></text>
<clipPath id="c0"><rect x="391.60" y="12.45" width="152.00" height="77.95"/></clipPath>
<rect x="391.60" y="12.45" width="152.00" height="77.95" fill="none" stroke="#5a5a5a" stroke-width="0.9"/>
<g clip-path="url(#c0)">
<path d="M391.6 90.3L392.4 90.3L393.1 90.3L393.9 90.3L394.6 90.3L395.4 90.3L396.2 90.3L396.9 90.3L397.7 90.3L398.4 90.3L399.2 90.3L400.0 90.3L400.7 90.3L401.5 90.3L402.2 90.3L403.0 90.3L403.8 90.3L404.5 90.3L405.3 90.3L406.0 90.3L406.8 90.3L407.6 90.3L408.3 90.3L409.1 90.3L409.8 90.3L410.6 90.3L411.4 90.3L412.1 90.3L412.9 90.3L413.6 90.3L414.4 90.3L415.2 90.3L415.9 90.3L416.7 90.3L417.4 90.3L418.2 90.3L419.0 90.3L419.7 90.3L420.5 90.3L421.2 90.3L422.0 90.3L422.8 90.3L423.5 90.3L424.3 90.3L425.0 90.3L425.8 90.3L426.6 90.3L427.3 90.3L428.1 90.3L428.8 90.3L429.6 90.3L430.4 90.3L431.1 90.3L431.9 90.3L432.6 90.3L433.4 90.3L434.2 90.3L434.9 90.3L435.7 90.3L436.4 90.3L437.2 90.3L438.0 90.3L438.7 90.3L439.5 90.3L440.2 90.3L441.0 90.3L441.8 90.3L442.5 90.3L443.3 90.3L444.0 90.3L444.8 90.3L445.6 90.3L446.3 90.3L447.1 90.3L447.8 90.3L448.6 90.3L449.4 90.3L450.1 90.3L450.9 90.3L451.6 90.3L452.4 90.2L453.2 90.2L453.9 90.2L454.7 90.2L455.4 90.2L456.2 90.2L457.0 90.2L457.7 90.2L458.5 90.2L459.2 90.2L460.0 90.2L460.8 90.2L461.5 90.2L462.3 90.2L463.0 90.2L463.8 90.2L464.6 90.2L465.3 90.2L466.1 90.2L466.8 90.2L467.6 90.2L468.4 90.2L469.1 90.2L469.9 90.2L470.6 90.2L471.4 90.2L472.2 90.2L472.9 90.2L473.7 90.2L474.4 90.1L475.2 90.1L476.0 90.1L476.7 90.1L477.5 90.1L478.2 90.1L479.0 90.1L479.8 90.1L480.5 90.1L481.3 90.1L482.0 90.1L482.8 90.1L483.6 90.1L484.3 90.0L484.4 90.0L484.5 90.0L484.6 90.0L484.7 90.0L484.8 90.0L485.0 90.0L485.1 90.0L485.2 90.0L485.3 90.0L485.4 90.0L485.5 90.0L485.6 90.0L485.7 90.0L485.8 90.0L485.9 90.0L486.0 90.0L486.1 90.0L486.2 90.0L486.3 90.0L486.4 90.0L486.5 90.0L486.6 90.0L486.7 90.0L486.8 90.0L486.9 90.0L487.0 90.0L487.2 90.0L487.3 90.0L487.4 90.0L487.5 90.0L487.6 90.0L487.7 90.0L487.8 90.0L487.9 90.0L488.0 90.0L488.1 90.0L488.2 90.0L488.3 90.0L488.4 90.0L488.5 90.0L488.6 90.0L488.7 90.0L488.8 90.0L488.9 90.0L488.9 89.9L489.0 89.9L489.1 89.9L489.2 89.9L489.3 89.9L489.4 89.9L489.5 89.9L489.6 89.9L489.7 89.9L489.8 89.9L489.9 89.9L490.0 89.9L490.1 89.9L490.2 89.9L490.3 89.9L490.4 89.9L490.5 89.9L490.6 89.9L490.7 89.9L490.8 89.9L490.9 89.9L491.0 89.9L491.1 89.9L491.2 89.9L491.3 89.9L491.4 89.9L491.5 89.9L491.6 89.9L491.7 89.9L491.8 89.9L491.9 89.9L492.0 89.9L492.1 89.9L492.2 89.8L492.3 89.8L492.4 89.8L492.5 89.8L492.6 89.8L492.7 89.8L492.8 89.8L492.9 89.8L493.0 89.8L493.1 89.8L493.2 89.8L493.3 89.8L493.4 89.8L493.5 89.8L493.6 89.8L493.7 89.8L493.8 89.8L493.9 89.8L494.0 89.8L494.1 89.8L494.2 89.8L494.3 89.8L494.4 89.8L494.5 89.8L494.5 89.7L494.6 89.7L494.7 89.7L494.8 89.7L494.9 89.7L495.0 89.7L495.1 89.7L495.2 89.7L495.3 89.7L495.4 89.7L495.5 89.7L495.6 89.7L495.7 89.7L495.8 89.7L495.9 89.7L496.0 89.7L496.1 89.7L496.2 89.7L496.3 89.6L496.4 89.6L496.5 89.6L496.6 89.6L496.7 89.6L496.8 89.6L496.9 89.6L497.0 89.6L497.1 89.6L497.2 89.6L497.3 89.6L497.4 89.6L497.5 89.6L497.6 89.5L497.7 89.5L497.8 89.5L497.9 89.5L498.0 89.5L498.1 89.5L498.2 89.5L498.3 89.5L498.4 89.5L498.5 89.5L498.6 89.4L498.7 89.4L498.8 89.4L498.9 89.4L499.0 89.4L499.1 89.4L499.2 89.4L499.3 89.4L499.4 89.3L499.5 89.3L499.6 89.3L499.7 89.3L499.8 89.3L499.9 89.3L500.0 89.3L500.0 89.2L500.1 89.2L500.2 89.2L500.3 89.2L500.4 89.2L500.5 89.2L500.6 89.2L500.7 89.1L500.8 89.1L500.9 89.1L501.0 89.1L501.1 89.1L501.1 89.0L501.2 89.0L501.3 89.0L501.4 89.0L501.5 89.0L501.6 88.9L501.7 88.9L501.8 88.9L501.9 88.9L501.9 88.8L502.0 88.8L502.1 88.8L502.2 88.8L502.2 88.7L502.3 88.7L502.4 88.7L502.5 88.7L502.5 88.6L502.6 88.6L502.7 88.6L502.8 88.5L502.9 88.5L503.0 88.5L503.0 88.4L503.1 88.4L503.2 88.4L503.2 88.3L503.3 88.3L503.4 88.3L503.4 88.2L503.5 88.2L503.5 88.1L503.6 88.1L503.7 88.1L503.7 88.0L503.8 88.0L503.9 87.9L504.0 87.8L504.1 87.8L504.1 87.7L504.2 87.7L504.2 87.6L504.3 87.6L504.3 87.5L504.4 87.5L504.4 87.4L504.5 87.4L504.5 87.3L504.6 87.3L504.6 87.2L504.7 87.2L504.7 87.1L504.8 87.1L504.8 87.0L504.8 86.9L504.9 86.9L504.9 86.8L505.0 86.7L505.0 86.6L505.1 86.6L505.1 86.5L505.1 86.4L505.2 86.4L505.2 86.3L505.2 86.2L505.3 86.1L505.3 86.0L505.4 85.9L505.4 85.8L505.5 85.7L505.5 85.6L505.5 85.5L505.6 85.4L505.6 85.3L505.6 85.2L505.7 85.1L505.7 85.0L505.7 84.9L505.7 84.8L505.8 84.7L505.8 84.6L505.8 84.5L505.9 84.4L505.9 84.3L505.9 84.1L505.9 84.0L506.0 83.9L506.0 83.7L506.0 83.6L506.0 83.5L506.1 83.3L506.1 83.2L506.1 83.0L506.1 82.8L506.2 82.7L506.2 82.5L506.2 82.3L506.2 82.2L506.3 82.0L506.3 81.8L506.3 81.6L506.3 81.4L506.4 81.1L506.4 80.9L506.4 80.7L506.4 80.5L506.4 80.2L506.5 80.0L506.5 79.7L506.5 79.5L506.5 79.2L506.5 78.9L506.6 78.6L506.6 78.3L506.6 78.0L506.6 77.7L506.6 77.4L506.6 77.0L506.7 76.7L506.7 76.3L506.7 76.0L506.7 75.6L506.7 75.2L506.7 74.8L506.8 74.4L506.8 74.0L506.8 73.6L506.8 73.1L506.8 72.7L506.8 72.3L506.9 71.8L506.9 71.3L506.9 70.9L506.9 70.4L506.9 70.0L506.9 69.5L506.9 69.0L506.9 68.6L507.0 68.1L507.0 67.6L507.0 67.2L507.0 66.8L507.0 66.3L507.0 65.9L507.0 65.5L507.0 65.1L507.0 64.8L507.1 64.4L507.1 64.1L507.1 63.7L507.1 63.5L507.1 63.2L507.1 62.9L507.1 62.7L507.1 62.5L507.1 62.3L507.1 62.1L507.1 62.0L507.1 61.8L507.1 61.7L507.1 61.6L507.1 61.5L507.2 61.4L507.2 61.3L507.2 61.2L507.2 61.1L507.2 61.2L507.2 61.3L507.2 61.4L507.2 61.5L507.2 61.6L507.3 61.7L507.3 61.8L507.3 62.0L507.3 62.1L507.3 62.3L507.3 62.5L507.3 62.7L507.3 62.9L507.3 63.2L507.3 63.5L507.3 63.7L507.3 64.1L507.3 64.4L507.4 64.8L507.4 65.1L507.4 65.5L507.4 65.9L507.4 66.3L507.4 66.8L507.4 67.2L507.4 67.6L507.4 68.1L507.4 68.6L507.5 69.0L507.5 69.5L507.5 70.0L507.5 70.4L507.5 70.9L507.5 71.3L507.5 71.8L507.6 72.3L507.6 72.7L507.6 73.1L507.6 73.6L507.6 74.0L507.6 74.4L507.6 74.8L507.7 75.2L507.7 75.6L507.7 76.0L507.7 76.3L507.7 76.7L507.7 77.0L507.8 77.4L507.8 77.7L507.8 78.0L507.8 78.3L507.8 78.6L507.9 78.9L507.9 79.2L507.9 79.3L507.9 79.5L507.9 79.7L507.9 80.0L508.0 80.2L508.0 80.5L508.0 80.7L508.0 80.9L508.0 81.1L508.1 81.4L508.1 81.6L508.1 81.8L508.1 82.0L508.2 82.2L508.2 82.3L508.2 82.5L508.2 82.7L508.2 82.8L508.3 83.0L508.3 83.2L508.3 83.3L508.4 83.5L508.4 83.6L508.4 83.7L508.4 83.9L508.5 84.0L508.5 84.1L508.5 84.3L508.5 84.4L508.6 84.5L508.6 84.6L508.6 84.7L508.6 84.8L508.7 84.9L508.7 85.0L508.7 85.1L508.8 85.2L508.8 85.3L508.8 85.4L508.9 85.5L508.9 85.6L508.9 85.7L509.0 85.8L509.0 85.9L509.0 86.0L509.1 86.1L509.1 86.2L509.2 86.3L509.2 86.4L509.3 86.5L509.3 86.6L509.4 86.6L509.4 86.7L509.5 86.8L509.5 86.9L509.6 87.0L509.6 87.1L509.7 87.1L509.7 87.2L509.8 87.2L509.8 87.3L509.9 87.3L509.9 87.4L510.0 87.5L510.1 87.5L510.1 87.6L510.2 87.6L510.2 87.7L510.3 87.7L510.3 87.8L510.4 87.8L510.4 87.9L510.5 87.9L510.6 88.0L510.7 88.0L510.7 88.1L510.8 88.1L510.9 88.2L511.0 88.2L511.0 88.3L511.1 88.3L511.2 88.3L511.2 88.4L511.3 88.4L511.4 88.4L511.4 88.5L511.5 88.5L511.6 88.5L511.7 88.6L511.8 88.6L511.9 88.6L511.9 88.7L512.0 88.7L512.1 88.7L512.2 88.7L512.2 88.8L512.3 88.8L512.4 88.8L512.5 88.9L512.6 88.9L512.7 88.9L512.8 88.9L512.9 89.0L513.0 89.0L513.1 89.0L513.2 89.0L513.3 89.1L513.4 89.1L513.5 89.1L513.6 89.1L513.7 89.1L513.8 89.2L513.9 89.2L514.0 89.2L514.1 89.2L514.2 89.2L514.3 89.2L514.4 89.3L514.5 89.3L514.6 89.3L514.7 89.3L514.8 89.3L514.9 89.3L515.0 89.3L515.1 89.4L515.2 89.4L515.3 89.4L515.4 89.4L515.5 89.4L515.6 89.4L515.7 89.4L515.8 89.4L515.9 89.5L516.0 89.5L516.1 89.5L516.2 89.5L516.3 89.5L516.4 89.5L516.5 89.5L516.6 89.5L516.7 89.5L516.8 89.5L516.9 89.6L517.0 89.6L517.1 89.6L517.2 89.6L517.3 89.6L517.4 89.6L517.5 89.6L517.6 89.6L517.7 89.6L517.8 89.6L517.9 89.6L518.0 89.6L518.1 89.6L518.2 89.7L518.3 89.7L518.4 89.7L518.5 89.7L518.6 89.7L518.7 89.7L518.8 89.7L518.9 89.7L519.0 89.7L519.1 89.7L519.2 89.7L519.3 89.7L519.4 89.7L519.5 89.7L519.6 89.7L519.7 89.7L519.8 89.7L519.9 89.7L519.9 89.8L520.0 89.8L520.1 89.8L520.2 89.8L520.3 89.8L520.4 89.8L520.5 89.8L520.6 89.8L520.7 89.8L520.8 89.8L520.9 89.8L521.0 89.8L521.1 89.8L521.2 89.8L521.3 89.8L521.4 89.8L521.5 89.8L521.6 89.8L521.7 89.8L521.8 89.8L521.9 89.8L522.0 89.8L522.1 89.8L522.2 89.8L522.2 89.9L522.3 89.9L522.4 89.9L522.5 89.9L522.6 89.9L522.7 89.9L522.8 89.9L522.9 89.9L523.0 89.9L523.1 89.9L523.2 89.9L523.3 89.9L523.4 89.9L523.5 89.9L523.6 89.9L523.7 89.9L523.8 89.9L523.9 89.9L524.0 89.9L524.1 89.9L524.2 89.9L524.3 89.9L524.4 89.9L524.5 89.9L524.6 89.9L524.7 89.9L524.8 89.9L524.9 89.9L525.0 89.9L525.1 89.9L525.2 89.9L525.3 89.9L525.4 89.9L525.5 89.9L525.6 90.0L525.7 90.0L525.8 90.0L525.9 90.0L526.0 90.0L526.1 90.0L526.2 90.0L526.3 90.0L526.4 90.0L526.5 90.0L526.6 90.0L526.7 90.0L526.8 90.0L526.9 90.0L527.0 90.0L527.1 90.0L527.2 90.0L527.3 90.0L527.4 90.0L527.6 90.0L527.7 90.0L527.8 90.0L527.9 90.0L528.0 90.0L528.1 90.0L528.2 90.0L528.3 90.0L528.4 90.0L528.5 90.0L528.6 90.0L528.8 90.0L528.9 90.0L529.0 90.0L529.1 90.0L529.2 90.0L529.3 90.0L529.4 90.0L529.5 90.0L529.7 90.0L529.8 90.0L529.9 90.0L530.0 90.0L530.7 90.0L531.4 90.1L532.2 90.1L533.0 90.1L533.7 90.1L534.5 90.1L535.2 90.1L536.0 90.1L536.8 90.1L537.5 90.1L538.3 90.1L539.0 90.1L539.8 90.1L540.6 90.2L541.3 90.2L542.1 90.2L542.8 90.2L543.6 90.2" fill="none" stroke="#111" stroke-width="1.35" stroke-linejoin="round"/>
<path d="M391.6 90.3L392.4 90.3L393.1 90.2L393.9 90.2L394.6 90.2L395.4 90.2L396.2 90.2L396.9 90.2L397.7 90.2L398.4 90.2L399.2 90.2L400.0 90.2L400.7 90.2L401.5 90.2L402.2 90.2L403.0 90.2L403.8 90.2L404.5 90.2L405.3 90.2L406.0 90.2L406.8 90.2L407.6 90.2L408.3 90.2L409.1 90.2L409.8 90.2L410.6 90.2L411.4 90.2L412.1 90.2L412.9 90.2L413.6 90.2L414.4 90.2L415.2 90.2L415.9 90.2L416.7 90.2L417.4 90.2L418.2 90.2L419.0 90.2L419.7 90.2L420.5 90.2L421.2 90.2L422.0 90.2L422.8 90.2L423.5 90.2L424.3 90.2L425.0 90.2L425.8 90.2L426.6 90.2L427.3 90.2L428.1 90.2L428.8 90.2L429.6 90.2L430.4 90.2L431.1 90.2L431.9 90.2L432.6 90.2L433.4 90.2L434.2 90.2L434.9 90.2L435.7 90.2L436.4 90.2L437.2 90.2L438.0 90.2L438.7 90.1L439.5 90.1L440.2 90.1L441.0 90.1L441.8 90.1L442.5 90.1L443.3 90.1L444.0 90.1L444.8 90.1L445.6 90.1L446.3 90.1L447.1 90.1L447.8 90.1L448.6 90.1L449.4 90.1L450.1 90.1L450.9 90.1L451.6 90.1L452.4 90.1L453.2 90.1L453.9 90.1L454.7 90.1L455.4 90.1L456.2 90.1L457.0 90.1L457.7 90.1L458.5 90.0L459.2 90.0L460.0 90.0L460.8 90.0L461.5 90.0L462.3 90.0L463.0 90.0L463.8 90.0L464.6 90.0L465.3 90.0L466.1 90.0L466.8 90.0L467.6 90.0L468.4 90.0L469.1 89.9L469.9 89.9L470.6 89.9L471.4 89.9L472.2 89.9L472.9 89.9L473.7 89.9L474.4 89.9L475.2 89.9L476.0 89.9L476.7 89.8L477.5 89.8L478.2 89.8L479.0 89.8L479.8 89.8L480.5 89.8L481.3 89.7L482.0 89.7L482.8 89.7L483.6 89.7L484.3 89.6L484.4 89.6L484.5 89.6L484.6 89.6L484.7 89.6L484.8 89.6L485.0 89.6L485.1 89.6L485.2 89.6L485.3 89.6L485.4 89.6L485.5 89.6L485.6 89.6L485.7 89.6L485.8 89.6L485.9 89.6L486.0 89.6L486.1 89.6L486.2 89.6L486.3 89.6L486.4 89.6L486.5 89.6L486.6 89.6L486.7 89.6L486.8 89.6L486.9 89.6L487.0 89.5L487.2 89.5L487.3 89.5L487.4 89.5L487.5 89.5L487.6 89.5L487.7 89.5L487.8 89.5L487.9 89.5L488.0 89.5L488.1 89.5L488.2 89.5L488.3 89.5L488.4 89.5L488.5 89.5L488.6 89.5L488.7 89.5L488.8 89.5L488.9 89.5L489.0 89.5L489.1 89.4L489.2 89.4L489.3 89.4L489.4 89.4L489.5 89.4L489.6 89.4L489.7 89.4L489.8 89.4L489.9 89.4L490.0 89.4L490.1 89.4L490.2 89.4L490.3 89.4L490.4 89.4L490.5 89.4L490.6 89.4L490.7 89.4L490.8 89.4L490.9 89.3L491.0 89.3L491.1 89.3L491.2 89.3L491.3 89.3L491.4 89.3L491.5 89.3L491.6 89.3L491.7 89.3L491.8 89.3L491.9 89.3L492.0 89.3L492.1 89.3L492.2 89.3L492.3 89.2L492.4 89.2L492.5 89.2L492.6 89.2L492.7 89.2L492.8 89.2L492.9 89.2L493.0 89.2L493.1 89.2L493.2 89.2L493.3 89.2L493.4 89.2L493.5 89.1L493.6 89.1L493.7 89.1L493.8 89.1L493.9 89.1L494.0 89.1L494.1 89.1L494.2 89.1L494.3 89.1L494.4 89.1L494.5 89.1L494.5 89.0L494.6 89.0L494.7 89.0L494.8 89.0L494.9 89.0L495.0 89.0L495.1 89.0L495.2 89.0L495.3 89.0L495.4 88.9L495.5 88.9L495.6 88.9L495.7 88.9L495.8 88.9L495.9 88.9L496.0 88.9L496.1 88.9L496.2 88.8L496.3 88.8L496.4 88.8L496.5 88.8L496.6 88.8L496.7 88.8L496.8 88.7L496.9 88.7L497.0 88.7L497.1 88.7L497.2 88.7L497.3 88.7L497.4 88.6L497.5 88.6L497.6 88.6L497.7 88.6L497.8 88.6L497.9 88.6L497.9 88.5L498.0 88.5L498.1 88.5L498.2 88.5L498.3 88.5L498.4 88.5L498.4 88.4L498.5 88.4L498.6 88.4L498.7 88.4L498.8 88.4L498.9 88.3L499.0 88.3L499.1 88.3L499.2 88.3L499.3 88.2L499.4 88.2L499.5 88.2L499.6 88.1L499.7 88.1L499.8 88.1L499.9 88.1L499.9 88.0L500.0 88.0L500.1 88.0L500.2 88.0L500.2 87.9L500.3 87.9L500.4 87.9L500.5 87.8L500.6 87.8L500.7 87.8L500.7 87.7L500.8 87.7L500.9 87.7L501.0 87.6L501.1 87.6L501.2 87.5L501.3 87.5L501.4 87.4L501.5 87.4L501.6 87.4L501.6 87.3L501.7 87.3L501.8 87.2L501.9 87.2L501.9 87.1L502.0 87.1L502.1 87.1L502.1 87.0L502.2 87.0L502.3 86.9L502.4 86.8L502.5 86.8L502.5 86.7L502.6 86.7L502.6 86.6L502.7 86.6L502.8 86.5L502.9 86.4L503.0 86.3L503.1 86.2L503.2 86.1L503.3 86.0L503.4 85.9L503.5 85.8L503.5 85.7L503.6 85.6L503.7 85.5L503.8 85.4L503.8 85.3L503.9 85.3L503.9 85.2L503.9 85.1L504.0 85.1L504.0 85.0L504.1 84.9L504.1 84.8L504.2 84.8L504.2 84.7L504.2 84.6L504.3 84.5L504.3 84.4L504.4 84.4L504.4 84.3L504.4 84.2L504.5 84.1L504.5 84.0L504.6 83.9L504.6 83.8L504.6 83.7L504.7 83.6L504.7 83.5L504.8 83.4L504.8 83.3L504.8 83.2L504.8 83.1L504.9 83.1L504.9 83.0L504.9 82.8L505.0 82.7L505.0 82.6L505.0 82.5L505.1 82.3L505.1 82.2L505.1 82.1L505.2 81.9L505.2 81.8L505.2 81.6L505.3 81.5L505.3 81.3L505.3 81.2L505.4 81.0L505.4 80.9L505.4 80.7L505.5 80.5L505.5 80.3L505.5 80.2L505.6 80.0L505.6 79.8L505.6 79.7L505.6 79.6L505.7 79.4L505.7 79.2L505.7 78.9L505.7 78.7L505.8 78.5L505.8 78.2L505.8 78.0L505.9 77.8L505.9 77.5L505.9 77.2L505.9 77.0L506.0 76.7L506.0 76.4L506.0 76.1L506.0 75.8L506.1 75.5L506.1 75.1L506.1 74.8L506.1 74.4L506.2 74.1L506.2 73.7L506.2 73.3L506.2 72.9L506.3 72.5L506.3 72.1L506.3 71.6L506.3 71.2L506.4 70.7L506.4 70.5L506.4 70.2L506.4 69.7L506.4 69.2L506.4 68.7L506.5 68.1L506.5 67.5L506.5 66.9L506.5 66.3L506.5 65.7L506.6 65.0L506.6 64.3L506.6 63.6L506.6 62.9L506.6 62.1L506.6 61.3L506.7 60.5L506.7 59.6L506.7 58.7L506.7 57.8L506.7 56.9L506.7 55.9L506.8 54.9L506.8 53.9L506.8 52.8L506.8 51.7L506.8 50.6L506.8 49.4L506.9 48.2L506.9 47.0L506.9 45.7L506.9 44.4L506.9 43.1L506.9 41.7L506.9 40.4L506.9 39.0L507.0 37.6L507.0 36.2L507.0 34.8L507.0 33.4L507.0 32.0L507.0 30.7L507.0 29.3L507.0 28.0L507.0 26.7L507.1 25.4L507.1 24.2L507.1 23.0L507.1 21.9L507.1 20.9L507.1 19.9L507.1 19.0L507.1 18.1L507.1 17.4L507.1 16.7L507.1 16.6L507.1 16.0L507.1 15.4L507.1 14.9L507.1 14.5L507.1 14.1L507.2 13.8L507.2 13.5L507.2 13.3L507.2 13.1L507.2 12.9L507.2 12.8L507.2 12.7L507.2 12.6L507.2 12.5L507.2 12.6L507.2 12.7L507.2 12.8L507.2 12.9L507.2 13.1L507.2 13.3L507.2 13.5L507.2 13.8L507.2 14.1L507.2 14.5L507.3 14.9L507.3 15.4L507.3 16.0L507.3 16.6L507.3 17.4L507.3 18.1L507.3 19.0L507.3 19.9L507.3 20.9L507.3 21.9L507.3 23.0L507.3 24.2L507.3 25.4L507.4 26.7L507.4 28.0L507.4 29.3L507.4 30.7L507.4 32.0L507.4 33.4L507.4 34.8L507.4 36.2L507.4 37.6L507.4 39.0L507.5 40.4L507.5 41.7L507.5 43.1L507.5 44.4L507.5 45.7L507.5 47.0L507.5 48.2L507.6 49.4L507.6 50.6L507.6 51.7L507.6 52.8L507.6 53.9L507.6 54.9L507.6 55.9L507.7 56.9L507.7 57.8L507.7 58.7L507.7 59.6L507.7 60.5L507.7 61.3L507.8 62.1L507.8 62.9L507.8 63.6L507.8 64.3L507.8 65.0L507.9 65.7L507.9 66.3L507.9 66.5L507.9 66.9L507.9 67.5L507.9 68.1L508.0 68.7L508.0 69.2L508.0 69.7L508.0 70.2L508.0 70.7L508.1 71.2L508.1 71.6L508.1 72.1L508.1 72.5L508.2 72.9L508.2 73.3L508.2 73.7L508.2 74.1L508.2 74.4L508.3 74.8L508.3 75.1L508.3 75.5L508.4 75.8L508.4 76.1L508.4 76.4L508.4 76.7L508.5 77.0L508.5 77.2L508.5 77.5L508.5 77.8L508.6 78.0L508.6 78.2L508.6 78.5L508.6 78.6L508.6 78.7L508.7 78.9L508.7 79.2L508.7 79.4L508.8 79.6L508.8 79.8L508.8 80.0L508.9 80.2L508.9 80.3L508.9 80.5L509.0 80.7L509.0 80.9L509.0 81.0L509.0 81.2L509.1 81.3L509.1 81.5L509.1 81.6L509.2 81.8L509.2 81.9L509.2 82.1L509.3 82.2L509.3 82.3L509.4 82.5L509.4 82.6L509.4 82.7L509.5 82.8L509.5 83.0L509.5 83.1L509.6 83.2L509.6 83.3L509.6 83.4L509.7 83.5L509.7 83.6L509.8 83.7L509.8 83.8L509.8 83.9L509.9 84.0L509.9 84.1L509.9 84.2L510.0 84.3L510.0 84.4L510.1 84.4L510.1 84.5L510.2 84.6L510.2 84.7L510.2 84.8L510.3 84.8L510.3 84.9L510.4 85.0L510.4 85.1L510.5 85.2L510.5 85.3L510.6 85.3L510.6 85.4L510.7 85.5L510.8 85.6L510.8 85.7L510.9 85.8L511.0 85.9L511.1 86.0L511.2 86.1L511.3 86.2L511.4 86.3L511.5 86.4L511.6 86.5L511.7 86.6L511.8 86.6L511.8 86.7L511.9 86.7L511.9 86.8L512.0 86.8L512.1 86.9L512.2 87.0L512.3 87.0L512.3 87.1L512.4 87.1L512.5 87.2L512.6 87.2L512.7 87.3L512.8 87.3L512.8 87.4L512.9 87.4L513.0 87.4L513.1 87.5L513.2 87.5L513.2 87.6L513.3 87.6L513.4 87.6L513.5 87.7L513.6 87.7L513.7 87.7L513.7 87.8L513.8 87.8L513.9 87.8L514.0 87.9L514.1 87.9L514.2 87.9L514.2 88.0L514.3 88.0L514.4 88.0L514.5 88.0L514.5 88.1L514.6 88.1L514.7 88.1L514.8 88.1L514.9 88.2L515.0 88.2L515.1 88.2L515.2 88.3L515.3 88.3L515.4 88.3L515.5 88.3L515.6 88.4L515.7 88.4L515.8 88.4L515.9 88.4L516.0 88.4L516.0 88.5L516.1 88.5L516.2 88.5L516.3 88.5L516.4 88.5L516.5 88.5L516.5 88.6L516.6 88.6L516.7 88.6L516.8 88.6L516.9 88.6L517.0 88.6L517.1 88.7L517.2 88.7L517.3 88.7L517.4 88.7L517.5 88.7L517.6 88.7L517.7 88.8L517.8 88.8L517.9 88.8L518.0 88.8L518.1 88.8L518.2 88.8L518.3 88.9L518.4 88.9L518.5 88.9L518.6 88.9L518.7 88.9L518.8 88.9L518.9 88.9L519.0 88.9L519.1 89.0L519.2 89.0L519.3 89.0L519.4 89.0L519.5 89.0L519.6 89.0L519.7 89.0L519.8 89.0L519.9 89.0L519.9 89.1L520.0 89.1L520.1 89.1L520.2 89.1L520.3 89.1L520.4 89.1L520.5 89.1L520.6 89.1L520.7 89.1L520.8 89.1L520.9 89.1L521.0 89.2L521.1 89.2L521.2 89.2L521.3 89.2L521.4 89.2L521.5 89.2L521.6 89.2L521.7 89.2L521.8 89.2L521.9 89.2L522.0 89.2L522.1 89.2L522.2 89.3L522.3 89.3L522.4 89.3L522.5 89.3L522.6 89.3L522.7 89.3L522.8 89.3L522.9 89.3L523.0 89.3L523.1 89.3L523.2 89.3L523.3 89.3L523.4 89.3L523.5 89.3L523.6 89.4L523.7 89.4L523.8 89.4L523.9 89.4L524.0 89.4L524.1 89.4L524.2 89.4L524.3 89.4L524.4 89.4L524.5 89.4L524.6 89.4L524.7 89.4L524.8 89.4L524.9 89.4L525.0 89.4L525.1 89.4L525.2 89.4L525.3 89.4L525.4 89.5L525.5 89.5L525.6 89.5L525.7 89.5L525.8 89.5L525.9 89.5L526.0 89.5L526.1 89.5L526.2 89.5L526.3 89.5L526.4 89.5L526.5 89.5L526.6 89.5L526.7 89.5L526.8 89.5L526.9 89.5L527.0 89.5L527.1 89.5L527.2 89.5L527.3 89.5L527.4 89.6L527.6 89.6L527.7 89.6L527.8 89.6L527.9 89.6L528.0 89.6L528.1 89.6L528.2 89.6L528.3 89.6L528.4 89.6L528.5 89.6L528.6 89.6L528.8 89.6L528.9 89.6L529.0 89.6L529.1 89.6L529.2 89.6L529.3 89.6L529.4 89.6L529.5 89.6L529.7 89.6L529.8 89.6L529.9 89.6L530.0 89.6L530.7 89.7L531.4 89.7L532.2 89.7L533.0 89.7L533.7 89.8L534.5 89.8L535.2 89.8L536.0 89.8L536.8 89.8L537.5 89.8L538.3 89.8L539.0 89.9L539.8 89.9L540.6 89.9L541.3 89.9L542.1 89.9L542.8 89.9L543.6 89.9" fill="none" stroke="#ff0000" stroke-width="1.6" stroke-linejoin="round"/>
<path d="M506.6 77.7L506.6 77.4L506.6 77.0L506.7 76.7L506.7 76.3L506.7 76.0L506.7 75.6L506.7 75.2L506.7 74.8L506.8 74.4L506.8 74.0L506.8 73.6L506.8 73.1L506.8 72.7L506.8 72.3L506.9 71.8L506.9 71.3L506.9 70.9L506.9 70.4L506.9 70.0L506.9 69.5L506.9 69.0L506.9 68.6L507.0 68.1L507.0 67.6L507.0 67.2L507.0 66.8L507.0 66.3L507.0 65.9L507.0 65.5L507.0 65.1L507.0 64.8L507.1 64.4L507.1 64.1L507.1 63.7L507.1 63.5L507.1 63.2L507.1 62.9L507.1 62.7L507.1 62.5L507.1 62.3L507.1 62.1L507.1 62.0L507.1 61.8L507.1 61.7L507.1 61.6L507.1 61.5L507.2 61.4L507.2 61.3L507.2 61.2L507.2 61.1L507.2 61.2L507.2 61.3L507.2 61.4L507.2 61.5L507.2 61.6L507.3 61.7L507.3 61.8L507.3 62.0L507.3 62.1L507.3 62.3L507.3 62.5L507.3 62.7L507.3 62.9L507.3 63.2L507.3 63.5L507.3 63.7L507.3 64.1L507.3 64.4L507.4 64.8L507.4 65.1L507.4 65.5L507.4 65.9L507.4 66.3L507.4 66.8L507.4 67.2L507.4 67.6L507.4 68.1L507.4 68.6L507.5 69.0L507.5 69.5L507.5 70.0L507.5 70.4L507.5 70.9L507.5 71.3L507.5 71.8L507.6 72.3L507.6 72.7L507.6 73.1L507.6 73.6L507.6 74.0L507.6 74.4L507.6 74.8L507.7 75.2L507.7 75.6L507.7 76.0L507.7 76.3L507.7 76.7L507.7 77.0L507.8 77.4L507.8 77.7" fill="none" stroke="#111" stroke-width="1.2" stroke-linejoin="round"/>
</g>
<path d="M391.60 90.40v-1.6M391.60 12.45v1.6" stroke="#5a5a5a" stroke-width="0.9"/>
<text x="391.60" y="100.00" text-anchor="middle" font-size="8.2">9</text>
<path d="M429.60 90.40v-1.6M429.60 12.45v1.6" stroke="#5a5a5a" stroke-width="0.9"/>
<text x="429.60" y="100.00" text-anchor="middle" font-size="8.2">9.5</text>
<path d="M467.60 90.40v-1.6M467.60 12.45v1.6" stroke="#5a5a5a" stroke-width="0.9"/>
<text x="467.60" y="100.00" text-anchor="middle" font-size="8.2">10</text>
<path d="M505.60 90.40v-1.6M505.60 12.45v1.6" stroke="#5a5a5a" stroke-width="0.9"/>
<text x="505.60" y="100.00" text-anchor="middle" font-size="8.2">10.5</text>
<path d="M543.60 90.40v-1.6M543.60 12.45v1.6" stroke="#5a5a5a" stroke-width="0.9"/>
<text x="543.60" y="100.00" text-anchor="middle" font-size="8.2">11</text>
<path d="M391.60 90.40h1.6M543.60 90.40h-1.6" stroke="#5a5a5a" stroke-width="0.9"/>
<path d="M391.60 74.13h1.6M543.60 74.13h-1.6" stroke="#5a5a5a" stroke-width="0.9"/>
<text x="389.80" y="76.78" text-anchor="end" font-size="8.2">20</text>
<path d="M391.60 57.85h1.6M543.60 57.85h-1.6" stroke="#5a5a5a" stroke-width="0.9"/>
<text x="389.80" y="60.50" text-anchor="end" font-size="8.2">40</text>
<path d="M391.60 41.58h1.6M543.60 41.58h-1.6" stroke="#5a5a5a" stroke-width="0.9"/>
<text x="389.80" y="44.23" text-anchor="end" font-size="8.2">60</text>
<path d="M391.60 25.31h1.6M543.60 25.31h-1.6" stroke="#5a5a5a" stroke-width="0.9"/>
<text x="389.80" y="27.96" text-anchor="end" font-size="8.2">80</text>
<path d="M401.20 23.65h30.6" stroke="#1a1a1a" stroke-width="1.7"/>
<path d="M401.20 34.15h30.6" stroke="#ff0000" stroke-width="1.3"/>
<text x="434.20" y="26.85" font-size="8.4">Midpoint</text>
<text x="434.20" y="37.35" font-size="8.4">Endpoint</text>
<text x="467.80" y="110.00" text-anchor="middle" font-size="9.3">Frequency, <tspan font-style="italic">Ω</tspan>/(Hz)</text>
<text transform="translate(378.8 51.13) rotate(-90)" text-anchor="middle" font-size="9.3">Displacement, <tspan font-style="italic">u</tspan>/(m)</text>
<text x="1.9" y="8.55" font-size="8.4" style="fill:#4a4a4a;stroke:#4a4a4a;stroke-width:0.1px">(a)</text>
<rect x="32.40" y="116.25" width="152.30" height="78.05" fill="none" stroke="#5a5a5a" stroke-width="0.9"/>
<path d="M32.4 174.5L32.7 173.7L33.0 172.8L33.3 171.9L33.6 170.8L33.9 169.8L34.2 168.7L34.5 167.7L34.8 166.6L35.1 165.7L35.4 164.8L35.8 164.0L36.1 163.3L36.4 162.8L36.7 162.3L37.0 161.8L37.3 161.5L37.6 161.3L37.9 161.1L38.2 161.0L38.5 161.0L38.8 161.0L39.1 161.1L39.4 161.3L39.7 161.6L40.0 161.9L40.3 162.3L40.6 162.9L40.9 163.5L41.2 164.2L41.5 165.0L41.8 165.9L42.1 166.8L42.5 167.9L42.8 168.9L43.1 170.0L43.4 171.1L43.7 172.1L44.0 173.0L44.3 173.9L44.6 174.6L44.9 175.2L45.2 175.6L45.5 175.8L45.8 175.9L46.1 175.7L46.4 175.4L46.7 174.9L47.0 174.2L47.3 173.4L47.6 172.5L47.9 171.5L48.2 170.4L48.5 169.4L48.8 168.3L49.2 167.3L49.5 166.3L49.8 165.4L50.1 164.5L50.4 163.8L50.7 163.1L51.0 162.6L51.3 162.1L51.6 161.7L51.9 161.4L52.2 161.2L52.5 161.1L52.8 161.0L53.1 161.0L53.4 161.1L53.7 161.2L54.0 161.4L54.3 161.7L54.6 162.1L54.9 162.5L55.2 163.1L55.5 163.7L55.9 164.5L56.2 165.3L56.5 166.2L56.8 167.2L57.1 168.3L57.4 169.3L57.7 170.4L58.0 171.4L58.3 172.4L58.6 173.4L58.9 174.2L59.2 174.8L59.5 175.4L59.8 175.7L60.1 175.9L60.4 175.8L60.7 175.6L61.0 175.2L61.3 174.6L61.6 173.9L61.9 173.1L62.3 172.1L62.6 171.1L62.9 170.0L63.2 169.0L63.5 167.9L63.8 166.9L64.1 165.9L64.4 165.0L64.7 164.2L65.0 163.5L65.3 162.9L65.6 162.4L65.9 161.9L66.2 161.6L66.5 161.3L66.8 161.1L67.1 161.0L67.4 161.0L67.7 161.0L68.0 161.1L68.3 161.3L68.6 161.5L69.0 161.8L69.3 162.2L69.6 162.7L69.9 163.3L70.2 164.0L70.5 164.8L70.8 165.7L71.1 166.6L71.4 167.6L71.7 168.7L72.0 169.7L72.3 170.8L72.6 171.8L72.9 172.8L73.2 173.7L73.5 174.4L73.8 175.1L74.1 175.5L74.4 175.8L74.7 175.9L75.0 175.8L75.3 175.5L75.7 175.0L76.0 174.4L76.3 173.6L76.6 172.7L76.9 171.7L77.2 170.7L77.5 169.6L77.8 168.6L78.1 167.5L78.4 166.5L78.7 165.6L79.0 164.7L79.3 163.9L79.6 163.3L79.9 162.7L80.2 162.2L80.5 161.8L80.8 161.5L81.1 161.3L81.4 161.1L81.7 161.0L82.0 161.0L82.4 161.0L82.7 161.2L83.0 161.4L83.3 161.6L83.6 162.0L83.9 162.4L84.2 162.9L84.5 163.6L84.8 164.3L85.1 165.1L85.4 166.0L85.7 167.0L86.0 168.0L86.3 169.1L86.6 170.1L86.9 171.2L87.2 172.2L87.5 173.2L87.8 174.0L88.1 174.7L88.4 175.3L88.8 175.6L89.1 175.8L89.4 175.9L89.7 175.7L90.0 175.3L90.3 174.8L90.6 174.1L90.9 173.3L91.2 172.3L91.5 171.3L91.8 170.3L92.1 169.2L92.4 168.1L92.7 167.1L93.0 166.1L93.3 165.2L93.6 164.4L93.9 163.7L94.2 163.0L94.5 162.5L94.8 162.0L95.1 161.7L95.5 161.4L95.8 161.2L96.1 161.1L96.4 161.0L96.7 161.0L97.0 161.1L97.3 161.2L97.6 161.4L97.9 161.7L98.2 162.1L98.5 162.6L98.8 163.2L99.1 163.8L99.4 164.6L99.7 165.4L100.0 166.4L100.3 167.4L100.6 168.4L100.9 169.5L101.2 170.5L101.5 171.6L101.8 172.6L102.2 173.5L102.5 174.3L102.8 174.9L103.1 175.4L103.4 175.7L103.7 175.9L104.0 175.8L104.3 175.6L104.6 175.1L104.9 174.5L105.2 173.8L105.5 172.9L105.8 172.0L106.1 170.9L106.4 169.9L106.7 168.8L107.0 167.8L107.3 166.7L107.6 165.8L107.9 164.9L108.2 164.1L108.5 163.4L108.9 162.8L109.2 162.3L109.5 161.9L109.8 161.5L110.1 161.3L110.4 161.1L110.7 161.0L111.0 161.0L111.3 161.0L111.6 161.1L111.9 161.3L112.2 161.6L112.5 161.9L112.8 162.3L113.1 162.8L113.4 163.4L113.7 164.1L114.0 164.9L114.3 165.8L114.6 166.7L114.9 167.8L115.3 168.8L115.6 169.9L115.9 171.0L116.2 172.0L116.5 172.9L116.8 173.8L117.1 174.5L117.4 175.1L117.7 175.6L118.0 175.8L118.3 175.9L118.6 175.7L118.9 175.4L119.2 174.9L119.5 174.3L119.8 173.5L120.1 172.6L120.4 171.6L120.7 170.5L121.0 169.5L121.3 168.4L121.6 167.4L122.0 166.4L122.3 165.4L122.6 164.6L122.9 163.8L123.2 163.2L123.5 162.6L123.8 162.1L124.1 161.7L124.4 161.4L124.7 161.2L125.0 161.1L125.3 161.0L125.6 161.0L125.9 161.1L126.2 161.2L126.5 161.4L126.8 161.7L127.1 162.0L127.4 162.5L127.7 163.0L128.0 163.7L128.3 164.4L128.7 165.2L129.0 166.1L129.3 167.1L129.6 168.2L129.9 169.2L130.2 170.3L130.5 171.3L130.8 172.4L131.1 173.3L131.4 174.1L131.7 174.8L132.0 175.3L132.3 175.7L132.6 175.9L132.9 175.8L133.2 175.6L133.5 175.2L133.8 174.7L134.1 174.0L134.4 173.1L134.7 172.2L135.1 171.2L135.4 170.1L135.7 169.1L136.0 168.0L136.3 167.0L136.6 166.0L136.9 165.1L137.2 164.3L137.5 163.6L137.8 162.9L138.1 162.4L138.4 162.0L138.7 161.6L139.0 161.4L139.3 161.2L139.6 161.0L139.9 161.0L140.2 161.0L140.5 161.1L140.8 161.3L141.1 161.5L141.4 161.8L141.8 162.2L142.1 162.7L142.4 163.3L142.7 163.9L143.0 164.7L143.3 165.6L143.6 166.5L143.9 167.5L144.2 168.6L144.5 169.6L144.8 170.7L145.1 171.7L145.4 172.7L145.7 173.6L146.0 174.4L146.3 175.0L146.6 175.5L146.9 175.8L147.2 175.9L147.5 175.8L147.8 175.5L148.1 175.1L148.5 174.4L148.8 173.7L149.1 172.8L149.4 171.8L149.7 170.8L150.0 169.7L150.3 168.7L150.6 167.6L150.9 166.6L151.2 165.7L151.5 164.8L151.8 164.0L152.1 163.3L152.4 162.7L152.7 162.2L153.0 161.8L153.3 161.5L153.6 161.3L153.9 161.1L154.2 161.0L154.5 161.0L154.8 161.0L155.2 161.1L155.5 161.3L155.8 161.6L156.1 161.9L156.4 162.4L156.7 162.9L157.0 163.5L157.3 164.2L157.6 165.0L157.9 165.9L158.2 166.9L158.5 167.9L158.8 169.0L159.1 170.0L159.4 171.1L159.7 172.1L160.0 173.1L160.3 173.9L160.6 174.6L160.9 175.2L161.2 175.6L161.6 175.8L161.9 175.9L162.2 175.7L162.5 175.4L162.8 174.8L163.1 174.2L163.4 173.4L163.7 172.4L164.0 171.4L164.3 170.4L164.6 169.3L164.9 168.2L165.2 167.2L165.5 166.2L165.8 165.3L166.1 164.5L166.4 163.7L166.7 163.1L167.0 162.5L167.3 162.1L167.6 161.7L167.9 161.4L168.3 161.2L168.6 161.1L168.9 161.0L169.2 161.0L169.5 161.1L169.8 161.2L170.1 161.4L170.4 161.7L170.7 162.1L171.0 162.6L171.3 163.1L171.6 163.8L171.9 164.5L172.2 165.4L172.5 166.3L172.8 167.3L173.1 168.3L173.4 169.4L173.7 170.4L174.0 171.5L174.3 172.5L174.6 173.4L175.0 174.2L175.3 174.9L175.6 175.4L175.9 175.7L176.2 175.9L176.5 175.8L176.8 175.6L177.1 175.2L177.4 174.6L177.7 173.9L178.0 173.0L178.3 172.1L178.6 171.0L178.9 170.0L179.2 168.9L179.5 167.8L179.8 166.8L180.1 165.9L180.4 165.0L180.7 164.2L181.0 163.5L181.3 162.9L181.7 162.3L182.0 161.9L182.3 161.6L182.6 161.3L182.9 161.1L183.2 161.0L183.5 161.0L183.8 161.0L184.1 161.1L184.4 161.3L184.7 161.5" fill="none" stroke="#111" stroke-width="1.25" stroke-linejoin="round"/>
<path d="M32.4 185.1L32.7 183.7L33.0 182.0L33.3 180.1L33.6 178.0L33.9 175.7L34.2 173.3L34.5 170.8L34.8 168.3L35.1 165.7L35.4 163.2L35.8 160.8L36.1 158.5L36.4 156.4L36.7 154.5L37.0 152.8L37.3 151.4L37.6 150.3L37.9 149.5L38.2 149.1L38.5 148.9L38.8 149.1L39.1 149.7L39.4 150.5L39.7 151.7L40.0 153.1L40.3 154.9L40.6 156.8L40.9 159.0L41.2 161.3L41.5 163.7L41.8 166.2L42.1 168.8L42.5 171.3L42.8 173.8L43.1 176.2L43.4 178.5L43.7 180.5L44.0 182.4L44.3 184.0L44.6 185.4L44.9 186.4L45.2 187.1L45.5 187.6L45.8 187.6L46.1 187.4L46.4 186.8L46.7 185.8L47.0 184.6L47.3 183.1L47.6 181.3L47.9 179.4L48.2 177.2L48.5 174.8L48.8 172.4L49.2 169.9L49.5 167.3L49.8 164.8L50.1 162.3L50.4 159.9L50.7 157.7L51.0 155.7L51.3 153.8L51.6 152.3L51.9 151.0L52.2 150.0L52.5 149.3L52.8 149.0L53.1 149.0L53.4 149.3L53.7 150.0L54.0 150.9L54.3 152.2L54.6 153.8L54.9 155.6L55.2 157.6L55.5 159.8L55.9 162.2L56.2 164.7L56.5 167.2L56.8 169.8L57.1 172.3L57.4 174.7L57.7 177.1L58.0 179.3L58.3 181.3L58.6 183.0L58.9 184.6L59.2 185.8L59.5 186.7L59.8 187.3L60.1 187.6L60.4 187.6L60.7 187.2L61.0 186.4L61.3 185.4L61.6 184.1L61.9 182.5L62.3 180.6L62.6 178.5L62.9 176.3L63.2 173.9L63.5 171.4L63.8 168.9L64.1 166.3L64.4 163.8L64.7 161.4L65.0 159.1L65.3 156.9L65.6 154.9L65.9 153.2L66.2 151.7L66.5 150.6L66.8 149.7L67.1 149.1L67.4 148.9L67.7 149.1L68.0 149.5L68.3 150.3L68.6 151.4L69.0 152.8L69.3 154.4L69.6 156.3L69.9 158.4L70.2 160.7L70.5 163.1L70.8 165.6L71.1 168.2L71.4 170.7L71.7 173.2L72.0 175.6L72.3 177.9L72.6 180.1L72.9 182.0L73.2 183.7L73.5 185.1L73.8 186.2L74.1 187.0L74.4 187.5L74.7 187.6L75.0 187.5L75.3 186.9L75.7 186.1L76.0 184.9L76.3 183.5L76.6 181.8L76.9 179.8L77.2 177.7L77.5 175.4L77.8 173.0L78.1 170.5L78.4 167.9L78.7 165.4L79.0 162.9L79.3 160.5L79.6 158.2L79.9 156.1L80.2 154.2L80.5 152.6L80.8 151.3L81.1 150.2L81.4 149.4L81.7 149.0L82.0 148.9L82.4 149.2L82.7 149.8L83.0 150.7L83.3 151.9L83.6 153.4L83.9 155.1L84.2 157.1L84.5 159.3L84.8 161.6L85.1 164.1L85.4 166.6L85.7 169.1L86.0 171.7L86.3 174.2L86.6 176.5L86.9 178.8L87.2 180.8L87.5 182.6L87.8 184.2L88.1 185.5L88.4 186.5L88.8 187.2L89.1 187.6L89.4 187.6L89.7 187.3L90.0 186.7L90.3 185.7L90.6 184.4L90.9 182.9L91.2 181.1L91.5 179.1L91.8 176.8L92.1 174.5L92.4 172.0L92.7 169.5L93.0 166.9L93.3 164.4L93.6 161.9L93.9 159.6L94.2 157.4L94.5 155.4L94.8 153.6L95.1 152.1L95.5 150.8L95.8 149.9L96.1 149.2L96.4 149.0L96.7 149.0L97.0 149.4L97.3 150.1L97.6 151.1L97.9 152.4L98.2 154.0L98.5 155.9L98.8 157.9L99.1 160.2L99.4 162.5L99.7 165.0L100.0 167.6L100.3 170.1L100.6 172.6L100.9 175.1L101.2 177.4L101.5 179.6L101.8 181.5L102.2 183.3L102.5 184.8L102.8 186.0L103.1 186.8L103.4 187.4L103.7 187.6L104.0 187.5L104.3 187.1L104.6 186.3L104.9 185.2L105.2 183.9L105.5 182.2L105.8 180.3L106.1 178.2L106.4 176.0L106.7 173.6L107.0 171.1L107.3 168.5L107.6 166.0L107.9 163.5L108.2 161.0L108.5 158.7L108.9 156.6L109.2 154.7L109.5 153.0L109.8 151.6L110.1 150.4L110.4 149.6L110.7 149.1L111.0 148.9L111.3 149.1L111.6 149.6L111.9 150.4L112.2 151.6L112.5 153.0L112.8 154.7L113.1 156.6L113.4 158.8L113.7 161.1L114.0 163.5L114.3 166.0L114.6 168.5L114.9 171.1L115.3 173.6L115.6 176.0L115.9 178.3L116.2 180.3L116.5 182.2L116.8 183.9L117.1 185.3L117.4 186.3L117.7 187.1L118.0 187.5L118.3 187.6L118.6 187.4L118.9 186.8L119.2 185.9L119.5 184.7L119.8 183.3L120.1 181.5L120.4 179.6L120.7 177.4L121.0 175.1L121.3 172.6L121.6 170.1L122.0 167.5L122.3 165.0L122.6 162.5L122.9 160.1L123.2 157.9L123.5 155.8L123.8 154.0L124.1 152.4L124.4 151.1L124.7 150.1L125.0 149.4L125.3 149.0L125.6 149.0L125.9 149.2L126.2 149.9L126.5 150.8L126.8 152.1L127.1 153.6L127.4 155.4L127.7 157.4L128.0 159.6L128.3 162.0L128.7 164.4L129.0 167.0L129.3 169.5L129.6 172.0L129.9 174.5L130.2 176.9L130.5 179.1L130.8 181.1L131.1 182.9L131.4 184.4L131.7 185.7L132.0 186.7L132.3 187.3L132.6 187.6L132.9 187.6L133.2 187.2L133.5 186.5L133.8 185.5L134.1 184.2L134.4 182.6L134.7 180.8L135.1 178.7L135.4 176.5L135.7 174.1L136.0 171.7L136.3 169.1L136.6 166.6L136.9 164.0L137.2 161.6L137.5 159.3L137.8 157.1L138.1 155.1L138.4 153.4L138.7 151.9L139.0 150.7L139.3 149.8L139.6 149.2L139.9 148.9L140.2 149.0L140.5 149.5L140.8 150.2L141.1 151.3L141.4 152.6L141.8 154.3L142.1 156.1L142.4 158.2L142.7 160.5L143.0 162.9L143.3 165.4L143.6 167.9L143.9 170.5L144.2 173.0L144.5 175.4L144.8 177.7L145.1 179.9L145.4 181.8L145.7 183.5L146.0 185.0L146.3 186.1L146.6 186.9L146.9 187.5L147.2 187.6L147.5 187.5L147.8 187.0L148.1 186.2L148.5 185.1L148.8 183.6L149.1 182.0L149.4 180.0L149.7 177.9L150.0 175.6L150.3 173.2L150.6 170.7L150.9 168.1L151.2 165.6L151.5 163.1L151.8 160.7L152.1 158.4L152.4 156.3L152.7 154.4L153.0 152.8L153.3 151.4L153.6 150.3L153.9 149.5L154.2 149.0L154.5 148.9L154.8 149.1L155.2 149.7L155.5 150.6L155.8 151.8L156.1 153.2L156.4 155.0L156.7 156.9L157.0 159.1L157.3 161.4L157.6 163.8L157.9 166.4L158.2 168.9L158.5 171.4L158.8 173.9L159.1 176.3L159.4 178.6L159.7 180.6L160.0 182.5L160.3 184.1L160.6 185.4L160.9 186.5L161.2 187.2L161.6 187.6L161.9 187.6L162.2 187.3L162.5 186.7L162.8 185.8L163.1 184.6L163.4 183.0L163.7 181.3L164.0 179.3L164.3 177.1L164.6 174.7L164.9 172.3L165.2 169.7L165.5 167.2L165.8 164.6L166.1 162.2L166.4 159.8L166.7 157.6L167.0 155.6L167.3 153.8L167.6 152.2L167.9 150.9L168.3 149.9L168.6 149.3L168.9 149.0L169.2 149.0L169.5 149.3L169.8 150.0L170.1 151.0L170.4 152.3L170.7 153.9L171.0 155.7L171.3 157.7L171.6 159.9L171.9 162.3L172.2 164.8L172.5 167.3L172.8 169.9L173.1 172.4L173.4 174.9L173.7 177.2L174.0 179.4L174.3 181.4L174.6 183.1L175.0 184.6L175.3 185.9L175.6 186.8L175.9 187.4L176.2 187.6L176.5 187.6L176.8 187.1L177.1 186.4L177.4 185.4L177.7 184.0L178.0 182.4L178.3 180.5L178.6 178.4L178.9 176.2L179.2 173.8L179.5 171.3L179.8 168.8L180.1 166.2L180.4 163.7L180.7 161.3L181.0 158.9L181.3 156.8L181.7 154.8L182.0 153.1L182.3 151.7L182.6 150.5L182.9 149.7L183.2 149.1L183.5 148.9L183.8 149.1L184.1 149.5L184.4 150.3L184.7 151.4" fill="none" stroke="#ff0000" stroke-width="1.3" stroke-linejoin="round"/>
<path d="M32.40 194.30v-1.6M32.40 116.25v1.6" stroke="#5a5a5a" stroke-width="0.9"/>
<text x="32.40" y="203.90" text-anchor="middle" font-size="8.2">1</text>
<path d="M62.86 194.30v-1.6M62.86 116.25v1.6" stroke="#5a5a5a" stroke-width="0.9"/>
<text x="62.86" y="203.90" text-anchor="middle" font-size="8.2">1.2</text>
<path d="M93.32 194.30v-1.6M93.32 116.25v1.6" stroke="#5a5a5a" stroke-width="0.9"/>
<text x="93.32" y="203.90" text-anchor="middle" font-size="8.2">1.4</text>
<path d="M123.78 194.30v-1.6M123.78 116.25v1.6" stroke="#5a5a5a" stroke-width="0.9"/>
<text x="123.78" y="203.90" text-anchor="middle" font-size="8.2">1.6</text>
<path d="M154.24 194.30v-1.6M154.24 116.25v1.6" stroke="#5a5a5a" stroke-width="0.9"/>
<text x="154.24" y="203.90" text-anchor="middle" font-size="8.2">1.8</text>
<path d="M184.70 194.30v-1.6M184.70 116.25v1.6" stroke="#5a5a5a" stroke-width="0.9"/>
<text x="184.70" y="203.90" text-anchor="middle" font-size="8.2">2</text>
<path d="M32.40 194.30h1.6M184.70 194.30h-1.6" stroke="#5a5a5a" stroke-width="0.9"/>
<text x="30.60" y="196.95" text-anchor="end" font-size="8.2">-5</text>
<path d="M32.40 168.28h1.6M184.70 168.28h-1.6" stroke="#5a5a5a" stroke-width="0.9"/>
<text x="30.60" y="170.93" text-anchor="end" font-size="8.2">0</text>
<path d="M32.40 142.27h1.6M184.70 142.27h-1.6" stroke="#5a5a5a" stroke-width="0.9"/>
<text x="30.60" y="144.92" text-anchor="end" font-size="8.2">5</text>
<path d="M32.40 116.25h1.6M184.70 116.25h-1.6" stroke="#5a5a5a" stroke-width="0.9"/>
<text x="30.60" y="118.90" text-anchor="end" font-size="8.2">10</text>
<text x="33.00" y="114.95" font-size="9.1">×10<tspan font-size="6.3" dx="0.9" dy="-4.8">-3</tspan></text>
<path d="M42.00 127.45h30.6" stroke="#1a1a1a" stroke-width="1.7"/>
<path d="M42.00 137.95h30.6" stroke="#ff0000" stroke-width="1.3"/>
<text x="75.00" y="130.65" font-size="8.4">Midpoint</text>
<text x="75.00" y="141.15" font-size="8.4">Endpoint</text>
<text x="109.25" y="213.90" text-anchor="middle" font-size="9.3">Time, <tspan font-style="italic">t</tspan>/(sec)</text>
<text transform="translate(20.2 154.78) rotate(-90)" text-anchor="middle" font-size="9.3">Displacement, <tspan font-style="italic">u</tspan>/(m)</text>
<rect x="212.00" y="116.25" width="152.30" height="78.05" fill="none" stroke="#5a5a5a" stroke-width="0.9"/>
<path d="M348.7 165.7L348.8 166.0L348.8 166.4L348.8 166.8L348.6 167.2L348.3 167.5L348.3 167.9L348.3 168.3L348.0 168.7L347.9 169.0L347.6 169.4L347.5 169.8L347.3 170.1L347.1 170.5L347.2 170.9L347.4 171.4L347.1 171.8L346.8 172.1L346.6 172.5L345.9 172.8L345.4 173.1L344.9 173.3L344.4 173.6L344.1 174.0L343.8 174.3L343.4 174.7L343.2 175.1L343.1 175.5L342.8 175.9L342.6 176.4L342.2 176.7L341.9 177.1L341.3 177.4L340.7 177.6L340.4 178.1L340.1 178.5L339.6 178.9L339.2 179.3L338.7 179.6L337.8 179.7L337.0 179.8L336.2 179.9L335.7 180.3L335.1 180.6L334.7 181.0L334.1 181.4L333.8 181.9L333.2 182.2L332.4 182.4L331.6 182.5L331.1 182.9L330.2 183.0L329.6 183.3L329.0 183.7L328.3 183.9L327.5 184.1L326.8 184.4L325.9 184.4L325.1 184.5L324.4 184.9L323.7 185.2L323.0 185.4L322.1 185.6L321.4 185.8L320.5 186.0L319.5 185.8L318.7 186.0L317.9 186.2L317.2 186.5L316.4 186.9L315.6 187.1L314.8 187.2L313.9 187.4L313.0 187.6L312.1 187.6L311.3 187.8L310.3 187.7L309.5 187.9L308.6 188.2L307.9 188.6L306.9 188.7L306.1 189.1L305.2 189.2L304.2 189.0L303.3 189.2L302.4 189.4L301.4 189.1L300.6 189.6L299.6 189.6L298.6 189.4L297.7 189.5L296.8 189.6L295.8 189.4L294.9 189.4L293.9 189.3L293.0 189.3L292.1 189.3L291.1 189.4L290.2 189.6L289.2 189.7L288.3 189.9L287.4 190.0L286.4 190.0L285.4 190.2L284.5 190.1L283.6 189.7L282.6 189.8L281.7 189.9L280.8 189.6L279.8 189.5L278.8 189.7L277.9 189.7L277.0 189.3L276.0 189.6L275.0 189.8L274.1 189.6L273.2 189.3L272.3 189.2L271.5 188.7L270.6 188.6L269.8 188.4L268.8 188.4L267.9 188.3L266.9 188.5L266.1 188.2L265.2 188.1L264.4 187.7L263.5 187.8L262.7 187.3L262.0 187.0L261.1 186.9L260.1 187.0L259.3 186.8L258.4 186.7L257.4 186.8L256.7 186.4L256.1 185.9L255.4 185.6L254.6 185.4L254.0 184.9L253.3 184.7L252.4 184.6L251.6 184.5L250.9 184.1L250.1 184.0L249.2 184.0L248.3 183.9L247.6 183.7L246.7 183.6L245.9 183.4L245.5 182.9L245.1 182.4L244.7 181.9L244.0 181.7L243.3 181.4L242.4 181.4L241.8 181.1L241.0 181.0L240.5 180.6L240.0 180.3L239.6 179.8L238.7 179.7L238.4 179.3L237.8 179.0L237.3 178.7L236.6 178.5L236.2 178.1L235.5 177.9L234.9 177.6L234.4 177.3L234.2 176.8L233.8 176.5L233.3 176.2L232.8 175.8L232.7 175.4L232.1 175.1L231.7 174.8L231.5 174.4L231.2 174.0L230.9 173.6L230.7 173.2L230.6 172.8L230.5 172.4L230.2 172.0L229.7 171.7L229.4 171.4L229.1 171.0L228.8 170.7L228.5 170.3L228.5 169.9L228.6 169.5L228.4 169.1L228.4 168.7L228.3 168.3L228.4 167.9L228.3 167.5L228.4 167.2L228.2 166.8L228.2 166.4L228.0 166.0L228.0 165.7L227.8 165.3L227.8 164.9L228.2 164.5L228.3 164.1L228.3 163.8L228.7 163.4L228.9 163.0L228.6 162.6L228.6 162.2L228.8 161.9L228.6 161.4L228.8 161.1L229.0 160.7L229.4 160.4L229.7 160.0L229.9 159.6L229.9 159.2L230.1 158.8L230.3 158.4L230.5 158.0L231.0 157.7L231.6 157.5L232.1 157.2L232.3 156.8L232.5 156.4L232.7 155.9L232.8 155.4L233.3 155.1L234.0 154.9L234.5 154.7L235.2 154.4L235.9 154.2L236.3 153.9L236.6 153.4L237.1 153.1L237.6 152.8L237.8 152.3L238.1 151.9L238.8 151.6L239.5 151.4L240.1 151.2L240.7 150.8L241.6 150.8L242.1 150.4L242.5 150.0L243.1 149.6L243.7 149.4L244.4 149.1L245.2 149.0L245.9 148.8L246.7 148.6L247.3 148.3L248.0 148.0L248.7 147.8L249.5 147.7L250.0 147.2L250.9 147.1L251.5 146.7L252.1 146.3L252.7 145.8L253.4 145.5L254.1 145.2L255.0 145.1L255.8 145.0L256.8 145.0L257.8 145.2L258.7 145.1L259.4 144.7L260.3 144.6L261.1 144.4L261.9 144.1L262.7 143.9L263.6 143.8L264.4 143.5L265.2 143.1L266.0 143.0L266.9 142.8L267.7 142.5L268.7 142.6L269.6 142.4L270.4 142.1L271.4 142.3L272.4 142.4L273.3 142.1L274.2 142.0L275.1 142.0L276.0 141.8L276.9 141.5L277.9 141.4L278.8 141.3L279.7 141.2L280.7 141.1L281.7 141.3L282.6 141.3L283.6 141.4L284.5 141.3L285.4 141.2L286.4 141.2L287.3 141.1L288.3 141.0L289.3 140.9L290.2 141.0L291.2 140.7L292.1 141.0L293.1 141.1L294.0 141.2L295.0 141.3L295.9 141.6L296.8 141.6L297.7 141.8L298.6 141.9L299.6 142.0L300.5 142.1L301.5 142.0L302.3 142.3L303.3 142.3L304.1 142.6L305.1 142.5L306.0 142.7L306.9 142.7L307.7 143.1L308.6 143.1L309.6 143.1L310.5 143.2L311.4 143.1L312.5 142.9L313.3 143.1L314.2 143.2L315.0 143.7L315.7 144.0L316.5 144.4L317.3 144.6L318.0 144.9L319.0 144.9L319.9 144.9L320.7 145.0L321.6 145.1L322.3 145.5L323.0 145.8L323.9 145.9L324.6 146.1L325.3 146.5L326.2 146.5L327.1 146.6L327.7 146.9L328.4 147.3L329.1 147.5L329.7 147.9L330.2 148.3L330.9 148.6L331.4 149.0L332.3 149.0L332.9 149.3L333.5 149.6L334.2 149.9L335.0 150.0L335.5 150.4L336.1 150.7L336.6 151.1L337.0 151.5L337.5 151.8L338.2 152.0L338.8 152.3L339.4 152.5L339.9 152.9L340.3 153.3L340.6 153.7L341.0 154.1L341.7 154.3L342.1 154.6L342.6 154.9L342.9 155.3L343.3 155.7L343.7 156.0L343.9 156.4L344.4 156.7L344.7 157.1L344.8 157.5L344.9 158.0L345.4 158.3L345.5 158.7L345.9 159.0L346.3 159.3L346.5 159.7L346.8 160.0L346.9 160.4L347.2 160.8L347.2 161.2L347.4 161.5L347.5 161.9L347.7 162.3L347.8 162.7L348.0 163.0L348.2 163.4L348.2 163.8L348.1 164.2L348.3 164.5L348.3 164.9L348.4 165.3ZM341.2 165.9L341.2 165.7L341.4 165.5L341.5 165.3L341.6 165.1L341.3 164.9L340.9 164.8L341.0 164.6L341.2 164.4L341.2 164.1L341.4 163.9L341.5 163.6L340.9 163.5L340.8 163.3L340.4 163.1L340.3 162.9L339.5 162.8L339.5 162.6L339.1 162.4L338.8 162.2L338.3 162.1L338.0 161.9L337.2 161.8L336.9 161.7L336.6 161.4L336.4 161.1L336.0 161.0L336.1 160.5L335.7 160.3L334.9 160.2L334.4 160.1L334.1 159.8L333.2 159.8L332.5 159.7L332.1 159.5L331.5 159.3L331.0 159.1L330.4 159.0L329.7 158.9L329.0 158.8L328.0 158.9L327.3 158.8L326.8 158.5L326.1 158.4L325.2 158.6L324.5 158.4L323.9 158.2L323.0 158.3L322.4 158.1L322.0 157.6L321.5 157.3L320.6 157.3L320.1 157.0L319.5 156.7L318.5 156.8L317.6 157.0L316.9 156.7L316.2 156.6L315.3 156.7L314.5 156.6L313.8 156.5L312.9 156.6L312.0 156.8L311.3 156.6L310.6 156.3L309.9 156.2L309.1 156.2L308.5 155.7L307.7 155.6L306.9 155.7L306.2 155.4L305.5 155.2L304.6 155.5L303.9 155.3L303.1 155.1L302.4 154.9L301.7 154.6L301.1 154.3L300.2 154.7L299.5 154.8L298.8 154.6L298.1 154.5L297.4 154.4L296.7 154.3L296.1 154.0L295.3 154.4L294.7 154.3L294.0 154.3L293.5 153.8L292.9 153.6L292.3 153.4L291.7 153.6L291.1 153.9L290.6 154.3L290.1 154.8L289.6 154.6L289.2 154.4L288.8 154.1L288.5 154.2L288.3 154.0L288.1 153.7L287.8 154.0L287.4 154.3L287.0 154.3L286.5 154.2L286.0 154.8L285.5 155.0L285.0 154.7L284.4 154.4L283.8 154.8L283.2 154.5L282.6 154.7L282.0 154.7L281.3 154.5L280.6 154.1L279.9 154.4L279.1 153.9L278.5 154.3L277.8 154.7L277.2 155.0L276.5 155.0L275.8 155.5L275.0 155.3L274.3 155.3L273.5 155.3L272.6 154.9L271.8 154.9L271.1 155.2L270.3 155.2L269.6 155.4L268.9 155.7L268.2 155.9L267.3 155.6L266.6 155.9L265.8 156.0L265.0 155.9L264.2 155.9L263.4 156.1L262.6 156.0L261.8 156.1L261.3 156.6L260.4 156.5L259.5 156.5L259.0 156.9L258.2 157.0L257.2 156.8L256.4 156.8L255.9 157.3L255.2 157.4L254.5 157.5L254.0 157.9L253.6 158.3L252.9 158.4L252.1 158.4L251.7 158.8L250.7 158.6L249.7 158.5L248.9 158.5L248.1 158.5L247.3 158.5L246.7 158.7L246.4 159.1L245.9 159.3L245.3 159.5L244.5 159.5L244.1 159.7L243.3 159.7L242.8 159.9L242.2 160.1L241.7 160.2L241.2 160.4L240.8 160.7L240.4 160.9L240.4 161.2L239.9 161.4L239.6 161.6L239.2 161.8L238.9 162.0L238.4 162.1L238.4 162.4L238.0 162.6L237.4 162.7L237.0 162.8L236.7 163.0L236.4 163.2L236.6 163.5L236.7 163.7L236.7 163.9L236.4 164.1L236.2 164.3L235.7 164.4L235.3 164.6L235.4 164.8L235.2 164.9L235.1 165.1L234.8 165.3L234.7 165.5L234.6 165.7L234.9 165.9L235.1 166.1L235.0 166.2L235.3 166.4L235.2 166.6L234.7 166.8L234.3 167.0L235.0 167.2L235.0 167.4L235.0 167.6L235.3 167.8L235.8 167.9L235.4 168.2L235.5 168.4L235.7 168.6L236.0 168.8L236.4 168.9L236.7 169.1L237.1 169.3L237.4 169.4L237.9 169.6L237.8 169.9L238.5 169.9L238.9 170.1L239.6 170.2L240.0 170.3L240.5 170.5L241.0 170.6L241.2 170.9L241.6 171.1L241.8 171.4L242.6 171.3L243.0 171.6L243.9 171.5L244.1 171.9L244.6 172.0L244.8 172.5L245.2 172.7L245.7 172.9L246.5 173.0L247.1 173.1L247.9 173.1L248.8 173.0L249.4 173.2L250.2 173.2L250.9 173.3L251.6 173.4L252.1 173.7L252.8 173.8L253.3 174.1L253.8 174.4L254.6 174.5L255.3 174.5L256.1 174.6L257.0 174.5L258.0 174.2L258.8 174.3L259.3 174.7L259.8 175.3L260.4 175.5L261.1 175.7L261.7 176.1L262.5 176.2L263.4 176.1L264.1 176.3L264.9 176.3L265.6 176.6L266.4 176.6L267.3 176.3L268.1 176.5L268.8 176.8L269.6 176.6L270.5 176.5L271.1 177.0L271.9 177.0L272.6 177.2L273.4 177.3L274.0 177.7L274.8 177.7L275.5 178.0L276.3 177.9L277.1 177.6L277.8 177.6L278.5 177.5L279.2 177.6L279.9 177.7L280.6 178.0L281.2 178.0L281.8 178.4L282.5 178.4L283.1 178.5L283.8 178.2L284.4 177.9L285.0 177.6L285.5 177.2L286.0 177.2L286.5 177.2L287.0 177.6L287.4 177.7L287.8 178.0L288.1 178.3L288.3 178.4L288.5 177.9L288.8 178.2L289.2 177.8L289.6 177.5L290.1 177.8L290.6 178.2L291.1 178.0L291.7 178.5L292.3 178.8L292.9 178.7L293.5 178.8L294.2 178.9L294.8 178.7L295.4 178.5L296.1 178.4L296.8 178.2L297.5 178.1L298.1 177.7L298.7 177.3L299.4 177.2L300.1 177.0L300.8 176.7L301.7 177.1L302.4 177.2L303.2 177.1L303.8 176.8L304.7 176.8L305.3 176.5L306.2 176.6L306.9 176.6L307.8 176.8L308.6 176.7L309.3 176.5L310.1 176.4L311.1 176.7L311.8 176.6L312.5 176.2L313.1 175.9L313.8 175.7L314.6 175.6L315.3 175.3L316.1 175.4L317.0 175.5L317.7 175.3L318.4 175.2L319.4 175.3L320.0 175.1L320.9 175.1L321.7 175.0L322.1 174.6L322.7 174.3L323.6 174.4L324.2 174.2L325.0 174.2L326.0 174.4L326.8 174.3L327.3 174.0L328.0 173.8L328.4 173.5L329.0 173.3L329.1 172.8L329.7 172.7L330.2 172.4L330.8 172.3L331.2 172.0L331.9 172.0L332.9 172.1L333.2 171.8L334.0 171.8L334.2 171.5L334.7 171.3L335.2 171.1L335.6 171.0L335.9 170.7L336.4 170.6L336.6 170.3L336.8 170.1L337.6 170.1L338.1 170.0L338.9 169.9L339.2 169.7L339.3 169.5L339.2 169.2L339.5 169.0L339.2 168.7L339.8 168.6L340.1 168.4L340.2 168.2L340.1 168.0L340.5 167.8L340.6 167.7L341.1 167.5L341.7 167.4L341.8 167.2L341.9 167.0L342.0 166.8L342.0 166.6L341.7 166.4L341.6 166.2L341.4 166.1Z" fill="#ff0000" fill-rule="evenodd"/>
<path d="M313.0 165.7L313.0 165.9L312.8 166.2L312.8 166.5L312.8 166.8L312.8 167.1L312.6 167.4L312.6 167.7L312.6 168.0L312.5 168.3L312.3 168.5L312.2 168.8L312.0 169.1L311.9 169.4L311.7 169.7L311.4 169.9L311.2 170.2L311.0 170.5L310.6 170.7L310.4 170.9L310.1 171.2L309.8 171.5L309.5 171.7L309.2 171.9L308.9 172.2L308.6 172.5L308.2 172.7L307.9 173.0L307.6 173.2L307.1 173.4L306.7 173.7L306.3 173.9L305.8 174.0L305.4 174.2L305.0 174.5L304.5 174.7L303.9 174.7L303.5 175.0L303.0 175.2L302.4 175.2L301.9 175.4L301.3 175.5L300.7 175.5L300.1 175.6L299.6 175.7L299.0 175.8L298.4 176.0L297.9 176.2L297.3 176.4L296.7 176.6L296.1 176.8L295.4 176.9L294.7 176.9L294.0 176.8L293.3 176.8L292.5 176.7L291.8 176.8L291.0 176.7L290.2 176.8L289.3 176.8L288.3 176.8L287.3 176.8L286.4 176.8L285.6 176.9L284.8 176.8L284.1 176.8L283.3 176.8L282.6 176.8L281.9 176.7L281.3 176.7L280.6 176.5L280.0 176.4L279.3 176.4L278.7 176.2L278.2 176.0L277.5 176.0L277.0 175.8L276.5 175.6L275.9 175.5L275.3 175.5L274.8 175.3L274.2 175.2L273.6 175.1L273.1 175.0L272.6 174.8L272.2 174.5L271.7 174.4L271.2 174.2L270.9 173.9L270.5 173.7L270.1 173.4L269.7 173.2L269.3 173.0L268.7 172.9L268.3 172.8L267.9 172.6L267.5 172.3L267.1 172.1L266.9 171.8L266.7 171.5L266.4 171.2L266.2 170.9L266.1 170.6L265.9 170.3L265.6 170.1L265.3 169.9L265.2 169.6L264.9 169.3L264.7 169.1L264.5 168.8L264.4 168.5L264.2 168.2L264.1 167.9L264.0 167.7L263.8 167.4L263.8 167.1L263.6 166.8L263.5 166.5L263.4 166.2L263.4 165.9L263.4 165.7L263.4 165.4L263.5 165.1L263.6 164.8L263.7 164.5L263.7 164.2L263.8 163.9L263.8 163.6L263.8 163.3L263.9 163.0L264.1 162.7L264.3 162.4L264.6 162.2L264.8 161.9L265.1 161.7L265.3 161.4L265.6 161.2L265.8 160.9L266.0 160.6L266.2 160.3L266.5 160.1L266.7 159.8L266.9 159.5L267.2 159.2L267.7 159.1L267.9 158.8L268.3 158.5L268.7 158.4L269.2 158.2L269.5 157.9L269.9 157.7L270.4 157.6L270.8 157.3L271.2 157.1L271.8 157.0L272.3 156.8L272.7 156.7L273.3 156.5L273.8 156.4L274.2 156.1L274.8 156.0L275.3 155.9L275.9 155.7L276.4 155.6L277.0 155.5L277.5 155.3L278.1 155.1L278.8 155.1L279.4 155.1L280.0 155.0L280.7 155.1L281.4 155.0L282.0 154.9L282.7 154.9L283.4 154.8L284.1 154.7L284.8 154.7L285.6 154.5L286.4 154.4L287.3 154.4L288.3 154.4L289.3 154.4L290.2 154.4L291.0 154.4L291.8 154.4L292.5 154.5L293.2 154.6L293.9 154.7L294.6 154.8L295.2 154.9L295.9 155.0L296.6 154.9L297.2 155.0L297.9 155.0L298.5 155.0L299.1 155.2L299.7 155.4L300.2 155.5L300.8 155.6L301.3 155.9L301.8 156.0L302.4 156.1L302.9 156.3L303.4 156.4L303.9 156.6L304.4 156.7L304.9 156.9L305.4 157.1L305.9 157.3L306.4 157.4L306.7 157.7L307.0 158.0L307.5 158.1L307.9 158.4L308.1 158.7L308.5 158.9L308.8 159.1L309.1 159.4L309.3 159.7L309.7 159.9L310.1 160.1L310.3 160.4L310.6 160.6L310.9 160.9L311.1 161.1L311.3 161.4L311.6 161.7L311.9 161.9L312.1 162.2L312.4 162.4L312.6 162.7L312.7 163.0L312.7 163.3L312.7 163.6L312.8 163.9L312.7 164.2L312.8 164.5L313.0 164.8L313.1 165.1L312.9 165.4ZM300.6 166.0L300.7 166.0L300.7 165.9L300.7 165.8L300.3 165.8L300.2 165.7L300.0 165.7L299.6 165.6L299.3 165.6L299.0 165.5L298.6 165.4L298.1 165.4L297.6 165.4L297.0 165.4L296.5 165.3L295.9 165.4L295.3 165.4L294.6 165.6L294.1 165.5L293.5 165.5L292.9 165.5L292.3 165.5L291.7 165.4L291.1 165.6L290.5 165.6L290.0 165.5L289.5 165.5L289.0 165.4L288.6 165.1L288.3 165.1L288.0 164.9L287.5 165.0L287.0 165.0L286.5 165.1L286.0 165.1L285.4 165.3L284.8 165.3L284.2 165.3L283.6 165.3L283.1 165.4L282.4 165.3L281.8 165.2L281.3 165.3L280.7 165.4L280.1 165.4L279.5 165.4L279.1 165.5L278.6 165.5L278.0 165.4L277.7 165.5L277.3 165.6L277.0 165.7L276.7 165.7L276.6 165.8L276.3 165.8L276.1 165.9L275.8 165.9L275.9 166.0L275.8 166.0L275.9 166.1L276.1 166.1L276.2 166.1L276.1 166.2L276.2 166.3L276.4 166.4L276.6 166.4L277.0 166.4L277.5 166.4L278.0 166.4L278.4 166.4L278.9 166.4L279.3 166.5L279.8 166.5L280.2 166.7L280.8 166.7L281.3 166.6L281.9 166.7L282.4 166.8L283.1 166.8L283.6 166.9L284.2 167.0L284.8 166.9L285.5 166.7L286.0 166.9L286.5 166.9L287.1 167.0L287.6 167.0L288.0 167.1L288.3 166.9L288.6 166.9L289.0 166.9L289.5 166.9L290.1 166.9L290.6 167.1L291.2 166.9L291.8 166.9L292.4 166.8L292.9 166.8L293.5 166.7L294.1 166.7L294.7 166.7L295.3 166.7L295.8 166.6L296.3 166.5L296.9 166.6L297.4 166.5L298.0 166.6L298.5 166.6L299.0 166.6L299.3 166.5L299.6 166.4L299.9 166.4L300.1 166.3L300.4 166.3L300.6 166.2L300.7 166.1L300.6 166.1Z" fill="#000" fill-rule="evenodd"/>
<path d="M212.00 194.30v-1.6M212.00 116.25v1.6" stroke="#5a5a5a" stroke-width="0.9"/>
<text x="212.00" y="203.90" text-anchor="middle" font-size="8.2">-5</text>
<path d="M288.15 194.30v-1.6M288.15 116.25v1.6" stroke="#5a5a5a" stroke-width="0.9"/>
<text x="288.15" y="203.90" text-anchor="middle" font-size="8.2">0</text>
<path d="M364.30 194.30v-1.6M364.30 116.25v1.6" stroke="#5a5a5a" stroke-width="0.9"/>
<text x="364.30" y="203.90" text-anchor="middle" font-size="8.2">5</text>
<path d="M212.00 194.30h1.6M364.30 194.30h-1.6" stroke="#5a5a5a" stroke-width="0.9"/>
<text x="210.20" y="196.95" text-anchor="end" font-size="8.2">-0.4</text>
<path d="M212.00 180.11h1.6M364.30 180.11h-1.6" stroke="#5a5a5a" stroke-width="0.9"/>
<text x="210.20" y="182.76" text-anchor="end" font-size="8.2">-0.2</text>
<path d="M212.00 165.92h1.6M364.30 165.92h-1.6" stroke="#5a5a5a" stroke-width="0.9"/>
<text x="210.20" y="168.57" text-anchor="end" font-size="8.2">0</text>
<path d="M212.00 151.73h1.6M364.30 151.73h-1.6" stroke="#5a5a5a" stroke-width="0.9"/>
<text x="210.20" y="154.38" text-anchor="end" font-size="8.2">0.2</text>
<path d="M212.00 137.54h1.6M364.30 137.54h-1.6" stroke="#5a5a5a" stroke-width="0.9"/>
<text x="210.20" y="140.19" text-anchor="end" font-size="8.2">0.4</text>
<path d="M212.00 123.35h1.6M364.30 123.35h-1.6" stroke="#5a5a5a" stroke-width="0.9"/>
<text x="210.20" y="126.00" text-anchor="end" font-size="8.2">0.6</text>
<text x="344.70" y="215.90" font-size="9.1">×<tspan dx="0.4">10</tspan><tspan font-size="6.3" dx="0.9" dy="-4.8">-3</tspan></text>
<path d="M290.50 127.45h30.6" stroke="#1a1a1a" stroke-width="1.7"/>
<path d="M290.50 137.95h30.6" stroke="#ff0000" stroke-width="1.3"/>
<text x="323.50" y="130.65" font-size="8.4">Midpoint</text>
<text x="323.50" y="141.15" font-size="8.4">Endpoint</text>
<text x="288.35" y="213.90" text-anchor="middle" font-size="9.3">Displacement, <tspan font-style="italic">u</tspan>/(m)</text>
<text transform="translate(195.2 155.58) rotate(-90)" text-anchor="middle" font-size="9.3">Velocity, <tspan font-style="italic">v</tspan>/(m·s<tspan font-size="6.4" dy="-5.3">-1</tspan><tspan dy="5.3">)</tspan></text>
<clipPath id="c1"><rect x="391.60" y="116.25" width="152.00" height="78.05"/></clipPath>
<rect x="391.60" y="116.25" width="152.00" height="78.05" fill="none" stroke="#5a5a5a" stroke-width="0.9"/>
<g clip-path="url(#c1)">
<path d="M391.6 194.2L392.4 194.2L393.1 194.2L393.9 194.2L394.6 194.2L395.4 194.2L396.2 194.2L396.9 194.2L397.7 194.2L398.4 194.2L399.2 194.2L400.0 194.2L400.7 194.2L401.5 194.2L402.2 194.2L403.0 194.2L403.8 194.2L404.5 194.2L405.3 194.2L406.0 194.2L406.8 194.2L407.6 194.2L408.3 194.2L409.1 194.2L409.8 194.2L410.6 194.2L411.4 194.2L412.1 194.2L412.9 194.2L413.6 194.2L414.4 194.2L415.2 194.2L415.9 194.2L416.7 194.2L417.4 194.2L418.2 194.2L419.0 194.2L419.7 194.2L420.5 194.2L421.2 194.2L422.0 194.2L422.8 194.2L423.5 194.2L424.3 194.2L425.0 194.2L425.8 194.2L426.6 194.2L427.3 194.2L428.1 194.2L428.8 194.2L429.6 194.2L430.4 194.2L431.1 194.2L431.9 194.2L432.6 194.2L433.4 194.2L434.2 194.2L434.9 194.2L435.7 194.2L436.4 194.2L437.2 194.2L438.0 194.2L438.7 194.1L439.5 194.1L440.2 194.1L441.0 194.1L441.8 194.1L442.5 194.1L443.3 194.1L444.0 194.1L444.8 194.1L445.6 194.1L446.3 194.1L447.1 194.1L447.8 194.1L448.6 194.1L449.4 194.1L450.1 194.1L450.9 194.1L451.6 194.1L452.4 194.1L453.2 194.1L453.9 194.1L454.7 194.1L455.4 194.1L456.2 194.1L457.0 194.1L457.7 194.1L458.5 194.1L459.2 194.1L460.0 194.1L460.8 194.1L461.5 194.1L462.3 194.1L463.0 194.1L463.8 194.1L464.6 194.1L465.3 194.1L466.1 194.0L466.8 194.0L467.6 194.0L468.4 194.0L469.1 194.0L469.9 194.0L470.6 194.0L471.4 194.0L472.2 194.0L472.9 194.0L473.7 194.0L474.4 194.0L475.2 194.0L476.0 194.0L476.7 194.0L477.5 193.9L478.2 193.9L479.0 193.9L479.8 193.9L480.5 193.9L481.3 193.9L482.0 193.9L482.8 193.9L483.1 193.9L483.2 193.9L483.3 193.9L483.4 193.8L483.6 193.8L483.7 193.8L483.8 193.8L483.9 193.8L484.0 193.8L484.1 193.8L484.2 193.8L484.3 193.8L484.5 193.8L484.6 193.8L484.7 193.8L484.8 193.8L484.9 193.8L485.0 193.8L485.1 193.8L485.2 193.8L485.3 193.8L485.4 193.8L485.5 193.8L485.7 193.8L485.8 193.8L485.9 193.8L486.0 193.8L486.1 193.8L486.2 193.8L486.3 193.8L486.4 193.8L486.5 193.8L486.6 193.8L486.7 193.8L486.8 193.8L486.9 193.8L487.0 193.8L487.1 193.8L487.2 193.8L487.3 193.8L487.4 193.8L487.5 193.7L487.6 193.7L487.7 193.7L487.8 193.7L487.9 193.7L488.0 193.7L488.1 193.7L488.2 193.7L488.3 193.7L488.4 193.7L488.5 193.7L488.6 193.7L488.7 193.7L488.8 193.7L488.9 193.7L489.0 193.7L489.1 193.7L489.2 193.7L489.3 193.7L489.4 193.7L489.5 193.7L489.6 193.7L489.7 193.7L489.8 193.7L489.9 193.7L490.0 193.7L490.1 193.7L490.2 193.7L490.3 193.7L490.4 193.6L490.5 193.6L490.6 193.6L490.7 193.6L490.8 193.6L490.9 193.6L491.0 193.6L491.1 193.6L491.2 193.6L491.3 193.6L491.4 193.6L491.5 193.6L491.6 193.6L491.7 193.6L491.8 193.6L491.9 193.6L492.0 193.6L492.1 193.6L492.2 193.6L492.3 193.6L492.4 193.6L492.5 193.5L492.6 193.5L492.7 193.5L492.8 193.5L492.9 193.5L493.0 193.5L493.1 193.5L493.2 193.5L493.3 193.5L493.4 193.5L493.5 193.5L493.6 193.5L493.7 193.5L493.8 193.5L493.9 193.5L494.0 193.5L494.1 193.4L494.2 193.4L494.3 193.4L494.4 193.4L494.5 193.4L494.6 193.4L494.7 193.4L494.8 193.4L494.9 193.4L495.0 193.4L495.1 193.4L495.2 193.4L495.3 193.3L495.4 193.3L495.5 193.3L495.6 193.3L495.7 193.3L495.8 193.3L495.9 193.3L496.0 193.3L496.1 193.3L496.2 193.3L496.3 193.3L496.3 193.2L496.4 193.2L496.5 193.2L496.6 193.2L496.7 193.2L496.8 193.2L496.9 193.2L497.0 193.2L497.1 193.2L497.1 193.1L497.2 193.1L497.3 193.1L497.4 193.1L497.5 193.1L497.6 193.1L497.7 193.1L497.8 193.1L497.8 193.0L497.9 193.0L498.0 193.0L498.1 193.0L498.2 193.0L498.3 193.0L498.4 193.0L498.4 192.9L498.5 192.9L498.6 192.9L498.7 192.9L498.8 192.9L498.9 192.9L498.9 192.8L499.0 192.8L499.1 192.8L499.2 192.8L499.3 192.8L499.4 192.8L499.4 192.7L499.5 192.7L499.6 192.7L499.7 192.7L499.8 192.6L499.9 192.6L500.0 192.6L500.1 192.6L500.1 192.5L500.2 192.5L500.3 192.5L500.4 192.5L500.5 192.4L500.6 192.4L500.7 192.4L500.8 192.3L500.9 192.3L501.0 192.3L501.0 192.2L501.1 192.2L501.2 192.2L501.2 192.1L501.3 192.1L501.4 192.1L501.4 192.0L501.5 192.0L501.6 192.0L501.6 191.9L501.7 191.9L501.8 191.9L501.8 191.8L501.9 191.8L502.0 191.7L502.1 191.7L502.1 191.6L502.2 191.6L502.3 191.5L502.4 191.4L502.5 191.4L502.5 191.3L502.6 191.3L502.6 191.2L502.7 191.2L502.7 191.1L502.8 191.1L502.8 191.0L502.9 191.0L502.9 190.9L503.0 190.9L503.0 190.8L503.1 190.8L503.1 190.7L503.2 190.7L503.2 190.6L503.3 190.5L503.3 190.4L503.4 190.3L503.5 190.2L503.5 190.1L503.6 190.0L503.6 189.9L503.7 189.8L503.7 189.7L503.8 189.6L503.8 189.5L503.9 189.4L503.9 189.3L504.0 189.2L504.0 189.1L504.0 189.0L504.1 188.9L504.1 188.8L504.1 188.7L504.1 188.6L504.2 188.5L504.2 188.4L504.2 188.3L504.3 188.2L504.3 188.1L504.3 188.0L504.4 187.9L504.4 187.8L504.4 187.7L504.5 187.5L504.5 187.4L504.5 187.3L504.5 187.1L504.6 187.0L504.6 186.9L504.6 186.7L504.6 186.6L504.7 186.4L504.7 186.2L504.7 186.1L504.7 185.9L504.8 185.7L504.8 185.5L504.8 185.4L504.8 185.3L504.9 185.2L504.9 185.0L504.9 184.8L504.9 184.6L504.9 184.4L505.0 184.1L505.0 183.9L505.0 183.7L505.0 183.5L505.1 183.2L505.1 183.0L505.1 182.7L505.1 182.4L505.1 182.2L505.2 181.9L505.2 181.6L505.2 181.3L505.2 181.0L505.2 180.7L505.3 180.4L505.3 180.0L505.3 179.7L505.3 179.4L505.3 179.0L505.4 178.6L505.4 178.3L505.4 177.9L505.4 177.5L505.4 177.1L505.4 176.7L505.5 176.3L505.5 175.9L505.5 175.5L505.5 175.1L505.5 174.7L505.5 174.3L505.5 173.8L505.6 173.4L505.6 173.0L505.6 172.6L505.6 172.2L505.6 172.1L505.6 171.7L505.6 171.3L505.6 170.9L505.7 170.5L505.7 170.1L505.7 169.7L505.7 169.3L505.7 169.0L505.7 168.6L505.7 168.3L505.7 168.0L505.7 167.7L505.7 167.4L505.8 167.1L505.8 166.9L505.8 166.6L505.8 166.4L505.8 166.2L505.8 166.0L505.8 165.8L505.8 165.7L505.8 165.6L505.8 165.4L505.8 165.3L505.8 165.2L505.8 165.1L505.9 165.1L505.9 165.0L505.9 164.9L505.9 164.8L505.9 164.7L505.9 164.8L505.9 164.9L505.9 165.0L506.0 165.0L506.0 165.1L506.0 165.2L506.0 165.3L506.0 165.4L506.0 165.6L506.0 165.7L506.0 165.8L506.0 166.0L506.0 166.2L506.0 166.4L506.0 166.6L506.0 166.9L506.0 167.1L506.1 167.4L506.1 167.7L506.1 168.0L506.1 168.3L506.1 168.6L506.1 169.0L506.1 169.3L506.1 169.7L506.1 170.1L506.2 170.5L506.2 170.9L506.2 171.3L506.2 171.7L506.2 172.1L506.2 172.6L506.2 173.0L506.2 173.4L506.3 173.8L506.3 174.3L506.3 174.7L506.3 175.1L506.3 175.5L506.3 175.9L506.4 176.3L506.4 176.6L506.4 176.7L506.4 177.1L506.4 177.5L506.4 177.9L506.4 178.3L506.5 178.6L506.5 179.0L506.5 179.4L506.5 179.7L506.5 180.0L506.5 180.4L506.6 180.7L506.6 181.0L506.6 181.3L506.6 181.6L506.6 181.9L506.7 182.2L506.7 182.4L506.7 182.7L506.7 183.0L506.7 183.2L506.8 183.5L506.8 183.7L506.8 183.9L506.8 184.1L506.9 184.4L506.9 184.6L506.9 184.8L506.9 185.0L507.0 185.2L507.0 185.4L507.0 185.5L507.0 185.7L507.1 185.9L507.1 186.1L507.1 186.2L507.1 186.3L507.1 186.4L507.2 186.6L507.2 186.7L507.2 186.9L507.2 187.0L507.3 187.1L507.3 187.3L507.3 187.4L507.4 187.5L507.4 187.7L507.4 187.8L507.4 187.9L507.5 188.0L507.5 188.1L507.5 188.2L507.6 188.3L507.6 188.4L507.6 188.5L507.7 188.6L507.7 188.7L507.7 188.8L507.8 188.9L507.8 189.0L507.8 189.1L507.9 189.2L507.9 189.3L507.9 189.4L508.0 189.4L508.0 189.5L508.0 189.6L508.1 189.7L508.1 189.8L508.2 189.9L508.2 190.0L508.3 190.1L508.3 190.2L508.4 190.3L508.5 190.4L508.5 190.5L508.6 190.6L508.7 190.7L508.7 190.8L508.8 190.8L508.8 190.9L508.9 190.9L508.9 191.0L509.0 191.0L509.0 191.1L509.1 191.1L509.1 191.2L509.2 191.2L509.2 191.3L509.3 191.3L509.3 191.4L509.4 191.4L509.5 191.5L509.6 191.5L509.6 191.6L509.7 191.6L509.7 191.7L509.8 191.7L509.9 191.8L510.0 191.8L510.0 191.9L510.1 191.9L510.2 191.9L510.2 192.0L510.3 192.0L510.4 192.0L510.4 192.1L510.5 192.1L510.6 192.1L510.6 192.2L510.7 192.2L510.8 192.2L510.8 192.3L510.9 192.3L511.0 192.3L511.1 192.4L511.2 192.4L511.3 192.4L511.4 192.5L511.5 192.5L511.6 192.5L511.7 192.5L511.7 192.6L511.8 192.6L511.9 192.6L512.0 192.6L512.1 192.7L512.2 192.7L512.3 192.7L512.4 192.7L512.4 192.8L512.5 192.8L512.6 192.8L512.7 192.8L512.8 192.8L512.9 192.8L512.9 192.9L513.0 192.9L513.1 192.9L513.2 192.9L513.3 192.9L513.4 192.9L513.4 193.0L513.5 193.0L513.6 193.0L513.7 193.0L513.8 193.0L513.9 193.0L514.0 193.0L514.0 193.1L514.1 193.1L514.2 193.1L514.3 193.1L514.4 193.1L514.5 193.1L514.6 193.1L514.7 193.1L514.7 193.2L514.8 193.2L514.9 193.2L515.0 193.2L515.1 193.2L515.2 193.2L515.3 193.2L515.4 193.2L515.5 193.2L515.5 193.3L515.6 193.3L515.7 193.3L515.8 193.3L515.9 193.3L516.0 193.3L516.1 193.3L516.2 193.3L516.3 193.3L516.4 193.3L516.5 193.3L516.6 193.4L516.7 193.4L516.8 193.4L516.9 193.4L517.0 193.4L517.1 193.4L517.2 193.4L517.3 193.4L517.4 193.4L517.5 193.4L517.6 193.4L517.7 193.4L517.8 193.4L517.8 193.5L517.9 193.5L518.0 193.5L518.1 193.5L518.2 193.5L518.3 193.5L518.4 193.5L518.5 193.5L518.6 193.5L518.7 193.5L518.8 193.5L518.9 193.5L519.0 193.5L519.1 193.5L519.2 193.5L519.3 193.5L519.4 193.6L519.5 193.6L519.6 193.6L519.7 193.6L519.8 193.6L519.9 193.6L520.0 193.6L520.1 193.6L520.2 193.6L520.3 193.6L520.4 193.6L520.5 193.6L520.6 193.6L520.7 193.6L520.8 193.6L520.9 193.6L521.0 193.6L521.1 193.6L521.2 193.6L521.3 193.6L521.4 193.6L521.5 193.7L521.6 193.7L521.7 193.7L521.8 193.7L521.9 193.7L522.0 193.7L522.1 193.7L522.2 193.7L522.3 193.7L522.4 193.7L522.5 193.7L522.6 193.7L522.7 193.7L522.8 193.7L522.9 193.7L523.0 193.7L523.1 193.7L523.2 193.7L523.3 193.7L523.4 193.7L523.5 193.7L523.6 193.7L523.7 193.7L523.8 193.7L523.9 193.7L524.0 193.7L524.1 193.7L524.2 193.7L524.3 193.7L524.4 193.8L524.5 193.8L524.6 193.8L524.7 193.8L524.8 193.8L524.9 193.8L525.0 193.8L525.1 193.8L525.2 193.8L525.3 193.8L525.4 193.8L525.5 193.8L525.6 193.8L525.7 193.8L525.8 193.8L525.9 193.8L526.1 193.8L526.2 193.8L526.3 193.8L526.4 193.8L526.5 193.8L526.6 193.8L526.7 193.8L526.8 193.8L526.9 193.8L527.0 193.8L527.1 193.8L527.2 193.8L527.4 193.8L527.5 193.8L527.6 193.8L527.7 193.8L527.8 193.8L527.9 193.8L528.0 193.8L528.1 193.8L528.3 193.8L528.4 193.8L528.4 193.9L528.5 193.9L528.6 193.9L528.7 193.9L529.2 193.9L529.9 193.9L530.7 193.9L531.4 193.9L532.2 193.9L533.0 193.9L533.7 193.9L534.5 193.9L535.2 194.0L536.0 194.0L536.8 194.0L537.5 194.0L538.3 194.0L539.0 194.0L539.8 194.0L540.6 194.0L541.3 194.0L542.1 194.0L542.8 194.0L543.6 194.0" fill="none" stroke="#111" stroke-width="1.35" stroke-linejoin="round"/>
<path d="M391.6 193.9L392.4 193.9L393.1 193.9L393.9 193.9L394.6 193.9L395.4 193.9L396.2 193.9L396.9 193.9L397.7 193.9L398.4 193.9L399.2 193.9L400.0 193.9L400.7 193.9L401.5 193.9L402.2 193.9L403.0 193.9L403.8 193.9L404.5 193.9L405.3 193.9L406.0 193.9L406.8 193.9L407.6 193.9L408.3 193.9L409.1 193.9L409.8 193.8L410.6 193.8L411.4 193.8L412.1 193.8L412.9 193.8L413.6 193.8L414.4 193.8L415.2 193.8L415.9 193.8L416.7 193.8L417.4 193.8L418.2 193.8L419.0 193.8L419.7 193.8L420.5 193.8L421.2 193.8L422.0 193.8L422.8 193.8L423.5 193.8L424.3 193.8L425.0 193.8L425.8 193.8L426.6 193.8L427.3 193.7L428.1 193.7L428.8 193.7L429.6 193.7L430.4 193.7L431.1 193.7L431.9 193.7L432.6 193.7L433.4 193.7L434.2 193.7L434.9 193.7L435.7 193.7L436.4 193.7L437.2 193.7L438.0 193.7L438.7 193.7L439.5 193.6L440.2 193.6L441.0 193.6L441.8 193.6L442.5 193.6L443.3 193.6L444.0 193.6L444.8 193.6L445.6 193.6L446.3 193.6L447.1 193.6L447.8 193.6L448.6 193.5L449.4 193.5L450.1 193.5L450.9 193.5L451.6 193.5L452.4 193.5L453.2 193.5L453.9 193.5L454.7 193.5L455.4 193.4L456.2 193.4L457.0 193.4L457.7 193.4L458.5 193.4L459.2 193.4L460.0 193.4L460.8 193.3L461.5 193.3L462.3 193.3L463.0 193.3L463.8 193.3L464.6 193.3L465.3 193.2L466.1 193.2L466.8 193.2L467.6 193.2L468.4 193.1L469.1 193.1L469.9 193.1L470.6 193.1L471.4 193.0L472.2 193.0L472.9 193.0L473.7 193.0L474.4 192.9L475.2 192.9L476.0 192.9L476.7 192.8L477.5 192.8L478.2 192.7L479.0 192.7L479.8 192.6L480.5 192.6L481.3 192.5L482.0 192.5L482.8 192.4L483.1 192.4L483.2 192.4L483.3 192.4L483.4 192.4L483.6 192.4L483.7 192.4L483.8 192.3L483.9 192.3L484.0 192.3L484.1 192.3L484.2 192.3L484.3 192.3L484.5 192.3L484.6 192.3L484.7 192.3L484.8 192.3L484.9 192.2L485.0 192.2L485.1 192.2L485.2 192.2L485.3 192.2L485.4 192.2L485.5 192.2L485.7 192.2L485.8 192.2L485.8 192.1L485.9 192.1L486.0 192.1L486.1 192.1L486.2 192.1L486.3 192.1L486.4 192.1L486.5 192.1L486.6 192.1L486.7 192.0L486.8 192.0L486.9 192.0L487.0 192.0L487.1 192.0L487.2 192.0L487.3 192.0L487.4 192.0L487.5 191.9L487.6 191.9L487.7 191.9L487.8 191.9L487.9 191.9L488.0 191.9L488.1 191.9L488.2 191.8L488.3 191.8L488.4 191.8L488.5 191.8L488.6 191.8L488.7 191.8L488.8 191.8L488.9 191.8L488.9 191.7L489.0 191.7L489.1 191.7L489.2 191.7L489.3 191.7L489.4 191.7L489.5 191.7L489.6 191.6L489.7 191.6L489.8 191.6L489.9 191.6L490.0 191.6L490.1 191.6L490.2 191.5L490.3 191.5L490.4 191.5L490.5 191.5L490.6 191.5L490.7 191.5L490.8 191.4L490.9 191.4L491.0 191.4L491.1 191.4L491.2 191.4L491.3 191.3L491.4 191.3L491.5 191.3L491.6 191.3L491.7 191.3L491.8 191.2L491.9 191.2L492.0 191.2L492.1 191.2L492.2 191.1L492.3 191.1L492.4 191.1L492.5 191.1L492.6 191.1L492.6 191.0L492.7 191.0L492.8 191.0L492.9 191.0L493.0 190.9L493.1 190.9L493.2 190.9L493.3 190.9L493.4 190.8L493.5 190.8L493.6 190.8L493.7 190.8L493.8 190.7L493.9 190.7L494.0 190.7L494.1 190.6L494.2 190.6L494.3 190.6L494.4 190.5L494.5 190.5L494.6 190.5L494.7 190.5L494.7 190.4L494.8 190.4L494.9 190.4L495.0 190.3L495.1 190.3L495.2 190.3L495.3 190.2L495.4 190.2L495.5 190.1L495.6 190.1L495.7 190.1L495.7 190.0L495.8 190.0L495.9 190.0L496.0 189.9L496.1 189.9L496.2 189.8L496.3 189.8L496.4 189.7L496.5 189.7L496.6 189.7L496.6 189.6L496.7 189.6L496.8 189.6L496.9 189.5L497.0 189.4L497.1 189.4L497.2 189.3L497.3 189.3L497.4 189.2L497.5 189.2L497.6 189.1L497.7 189.0L497.8 189.0L497.8 188.9L497.9 188.9L498.0 188.9L498.0 188.8L498.1 188.8L498.2 188.7L498.3 188.6L498.4 188.6L498.4 188.5L498.5 188.5L498.6 188.4L498.7 188.3L498.8 188.3L498.8 188.2L498.9 188.2L498.9 188.1L499.0 188.0L499.1 188.0L499.1 187.9L499.2 187.9L499.3 187.8L499.3 187.7L499.4 187.7L499.4 187.6L499.5 187.6L499.5 187.5L499.6 187.5L499.6 187.4L499.7 187.4L499.7 187.3L499.8 187.2L499.9 187.2L499.9 187.1L500.0 187.0L500.1 186.9L500.1 186.8L500.2 186.7L500.3 186.7L500.3 186.6L500.4 186.5L500.4 186.4L500.5 186.4L500.5 186.3L500.6 186.2L500.7 186.1L500.7 186.0L500.8 185.9L500.8 185.8L500.9 185.8L500.9 185.7L501.0 185.6L501.0 185.5L501.1 185.4L501.1 185.3L501.2 185.2L501.2 185.1L501.3 185.0L501.3 184.9L501.4 184.8L501.4 184.7L501.5 184.6L501.5 184.5L501.6 184.3L501.6 184.2L501.7 184.1L501.7 184.0L501.8 183.9L501.8 183.8L501.9 183.6L501.9 183.5L502.0 183.4L502.0 183.3L502.1 183.1L502.1 183.0L502.2 182.8L502.2 182.7L502.3 182.6L502.3 182.4L502.3 182.3L502.4 182.1L502.4 182.0L502.5 181.8L502.5 181.7L502.6 181.5L502.6 181.3L502.7 181.2L502.7 181.0L502.7 180.8L502.8 180.6L502.8 180.5L502.9 180.3L502.9 180.1L502.9 179.9L503.0 179.7L503.0 179.5L503.1 179.3L503.1 179.1L503.2 178.9L503.2 178.7L503.2 178.4L503.3 178.2L503.3 178.0L503.3 177.9L503.3 177.8L503.4 177.5L503.4 177.3L503.5 177.0L503.5 176.8L503.5 176.5L503.6 176.3L503.6 176.0L503.6 175.7L503.7 175.4L503.7 175.1L503.7 174.8L503.8 174.5L503.8 174.2L503.9 173.9L503.9 173.6L503.9 173.3L504.0 172.9L504.0 172.6L504.0 172.3L504.1 171.9L504.1 171.6L504.1 171.5L504.1 171.2L504.1 170.8L504.2 170.4L504.2 170.0L504.2 169.6L504.3 169.2L504.3 168.7L504.3 168.3L504.4 167.9L504.4 167.4L504.4 166.9L504.5 166.5L504.5 166.0L504.5 165.5L504.5 165.0L504.6 164.5L504.6 163.9L504.6 163.4L504.6 162.8L504.7 162.3L504.7 161.7L504.7 161.1L504.7 160.5L504.8 159.9L504.8 159.2L504.8 158.6L504.8 158.2L504.9 157.9L504.9 157.3L504.9 156.6L504.9 155.9L504.9 155.2L505.0 154.5L505.0 153.7L505.0 153.0L505.0 152.2L505.1 151.5L505.1 150.7L505.1 149.9L505.1 149.1L505.1 148.3L505.2 147.4L505.2 146.6L505.2 145.7L505.2 144.9L505.2 144.0L505.3 143.2L505.3 142.3L505.3 141.4L505.3 140.5L505.3 139.6L505.4 138.8L505.4 137.9L505.4 137.0L505.4 136.1L505.4 135.2L505.4 134.4L505.5 133.5L505.5 132.7L505.5 131.8L505.5 131.0L505.5 130.2L505.5 129.4L505.5 128.6L505.6 127.9L505.6 127.1L505.6 126.4L505.6 125.9L505.6 125.7L505.6 125.1L505.6 124.4L505.6 123.8L505.7 123.2L505.7 122.6L505.7 122.1L505.7 121.6L505.7 121.1L505.7 120.7L505.7 120.2L505.7 119.8L505.7 119.5L505.7 119.1L505.8 118.8L505.8 118.5L505.8 118.3L505.8 118.0L505.8 117.8L505.8 117.6L505.8 117.4L505.8 117.2L505.8 117.1L505.8 117.0L505.8 116.8L505.8 116.7L505.9 116.6L505.9 116.5L505.9 116.4L505.9 116.3L505.9 116.2L505.9 116.3L505.9 116.4L505.9 116.5L506.0 116.5L506.0 116.6L506.0 116.7L506.0 116.8L506.0 117.0L506.0 117.1L506.0 117.2L506.0 117.4L506.0 117.6L506.0 117.8L506.0 118.0L506.0 118.3L506.0 118.5L506.0 118.8L506.1 119.1L506.1 119.5L506.1 119.8L506.1 120.2L506.1 120.7L506.1 121.1L506.1 121.6L506.1 122.1L506.1 122.6L506.2 123.2L506.2 123.8L506.2 124.4L506.2 125.1L506.2 125.7L506.2 126.4L506.2 127.1L506.2 127.9L506.3 128.6L506.3 129.4L506.3 130.2L506.3 131.0L506.3 131.8L506.3 132.7L506.4 133.5L506.4 134.0L506.4 134.4L506.4 135.2L506.4 136.1L506.4 137.0L506.4 137.9L506.5 138.8L506.5 139.6L506.5 140.5L506.5 141.4L506.5 142.3L506.5 143.2L506.6 144.0L506.6 144.9L506.6 145.7L506.6 146.6L506.6 147.4L506.7 148.3L506.7 149.1L506.7 149.9L506.7 150.7L506.7 151.5L506.8 152.2L506.8 153.0L506.8 153.7L506.8 154.5L506.9 155.2L506.9 155.9L506.9 156.6L506.9 157.3L507.0 157.9L507.0 158.6L507.0 159.2L507.0 159.9L507.1 160.5L507.1 161.1L507.1 161.7L507.1 161.9L507.1 162.3L507.2 162.8L507.2 163.4L507.2 163.9L507.2 164.5L507.3 165.0L507.3 165.5L507.3 166.0L507.4 166.5L507.4 166.9L507.4 167.4L507.4 167.9L507.5 168.3L507.5 168.7L507.5 169.2L507.6 169.6L507.6 170.0L507.6 170.4L507.7 170.8L507.7 171.2L507.7 171.5L507.8 171.9L507.8 172.3L507.8 172.6L507.9 172.9L507.9 173.2L507.9 173.3L507.9 173.6L508.0 173.9L508.0 174.2L508.0 174.5L508.1 174.8L508.1 175.1L508.1 175.4L508.2 175.7L508.2 176.0L508.2 176.3L508.3 176.5L508.3 176.8L508.3 177.0L508.4 177.3L508.4 177.5L508.5 177.8L508.5 178.0L508.5 178.2L508.6 178.4L508.6 178.7L508.6 178.8L508.7 178.9L508.7 179.1L508.7 179.3L508.8 179.5L508.8 179.7L508.9 179.9L508.9 180.1L508.9 180.3L509.0 180.5L509.0 180.6L509.1 180.8L509.1 181.0L509.2 181.2L509.2 181.3L509.2 181.5L509.3 181.7L509.3 181.8L509.4 182.0L509.4 182.1L509.5 182.3L509.5 182.4L509.6 182.6L509.6 182.7L509.6 182.8L509.7 183.0L509.7 183.1L509.8 183.3L509.8 183.4L509.9 183.5L509.9 183.6L510.0 183.8L510.0 183.9L510.1 184.0L510.1 184.1L510.2 184.2L510.2 184.3L510.3 184.5L510.3 184.6L510.4 184.7L510.4 184.8L510.5 184.9L510.5 185.0L510.6 185.1L510.6 185.2L510.7 185.3L510.7 185.4L510.8 185.5L510.8 185.6L510.9 185.7L510.9 185.8L511.0 185.8L511.0 185.9L511.1 186.0L511.2 186.1L511.2 186.2L511.3 186.3L511.3 186.4L511.4 186.4L511.4 186.5L511.5 186.6L511.5 186.7L511.6 186.7L511.7 186.8L511.7 186.9L511.8 187.0L511.9 187.1L512.0 187.2L512.1 187.3L512.1 187.4L512.2 187.4L512.2 187.5L512.3 187.6L512.4 187.6L512.4 187.7L512.5 187.7L512.6 187.8L512.6 187.9L512.7 187.9L512.7 188.0L512.8 188.0L512.9 188.1L512.9 188.2L513.0 188.2L513.1 188.3L513.2 188.4L513.3 188.5L513.4 188.5L513.4 188.6L513.5 188.6L513.6 188.7L513.7 188.8L513.8 188.8L513.8 188.9L513.9 188.9L514.0 188.9L514.0 189.0L514.1 189.0L514.2 189.1L514.3 189.2L514.4 189.2L514.5 189.2L514.5 189.3L514.6 189.3L514.7 189.4L514.8 189.4L514.9 189.5L515.0 189.5L515.0 189.6L515.1 189.6L515.2 189.6L515.2 189.7L515.3 189.7L515.4 189.7L515.5 189.8L515.6 189.8L515.7 189.9L515.8 189.9L515.9 190.0L516.0 190.0L516.1 190.0L516.1 190.1L516.2 190.1L516.3 190.1L516.4 190.2L516.5 190.2L516.6 190.3L516.7 190.3L516.8 190.3L516.9 190.4L517.0 190.4L517.1 190.4L517.2 190.5L517.3 190.5L517.4 190.5L517.5 190.6L517.6 190.6L517.7 190.6L517.8 190.7L517.9 190.7L518.0 190.7L518.1 190.7L518.1 190.8L518.2 190.8L518.3 190.8L518.4 190.8L518.5 190.9L518.6 190.9L518.7 190.9L518.8 190.9L518.9 191.0L519.0 191.0L519.1 191.0L519.2 191.0L519.2 191.1L519.3 191.1L519.4 191.1L519.5 191.1L519.6 191.1L519.7 191.2L519.8 191.2L519.9 191.2L520.0 191.2L520.1 191.3L520.2 191.3L520.3 191.3L520.4 191.3L520.5 191.3L520.6 191.4L520.7 191.4L520.8 191.4L520.9 191.4L521.0 191.4L521.1 191.5L521.2 191.5L521.3 191.5L521.4 191.5L521.5 191.5L521.6 191.5L521.7 191.6L521.8 191.6L521.9 191.6L522.0 191.6L522.1 191.6L522.2 191.6L522.3 191.7L522.4 191.7L522.5 191.7L522.6 191.7L522.7 191.7L522.8 191.7L522.9 191.7L523.0 191.8L523.1 191.8L523.2 191.8L523.3 191.8L523.4 191.8L523.5 191.8L523.6 191.8L523.7 191.9L523.8 191.9L523.9 191.9L524.0 191.9L524.1 191.9L524.2 191.9L524.3 191.9L524.4 192.0L524.5 192.0L524.6 192.0L524.7 192.0L524.8 192.0L524.9 192.0L525.0 192.0L525.1 192.0L525.2 192.1L525.3 192.1L525.4 192.1L525.5 192.1L525.6 192.1L525.7 192.1L525.8 192.1L525.9 192.1L526.1 192.2L526.2 192.2L526.3 192.2L526.4 192.2L526.5 192.2L526.6 192.2L526.7 192.2L526.8 192.2L526.9 192.2L527.0 192.3L527.1 192.3L527.2 192.3L527.4 192.3L527.5 192.3L527.6 192.3L527.7 192.3L527.8 192.3L527.9 192.3L528.0 192.3L528.1 192.4L528.3 192.4L528.4 192.4L528.5 192.4L528.6 192.4L528.7 192.4L529.2 192.4L529.9 192.5L530.7 192.6L531.4 192.6L532.2 192.7L533.0 192.7L533.7 192.7L534.5 192.8L535.2 192.8L536.0 192.9L536.8 192.9L537.5 192.9L538.3 193.0L539.0 193.0L539.8 193.0L540.6 193.1L541.3 193.1L542.1 193.1L542.8 193.1L543.6 193.2" fill="none" stroke="#ff0000" stroke-width="1.6" stroke-linejoin="round"/>
<path d="M505.0 183.7L505.0 183.5L505.1 183.2L505.1 183.0L505.1 182.7L505.1 182.4L505.1 182.2L505.2 181.9L505.2 181.6L505.2 181.3L505.2 181.0L505.2 180.7L505.3 180.4L505.3 180.0L505.3 179.7L505.3 179.4L505.3 179.0L505.4 178.6L505.4 178.3L505.4 177.9L505.4 177.5L505.4 177.1L505.4 176.7L505.5 176.3L505.5 175.9L505.5 175.5L505.5 175.1L505.5 174.7L505.5 174.3L505.5 173.8L505.6 173.4L505.6 173.0L505.6 172.6L505.6 172.2L505.6 172.1L505.6 171.7L505.6 171.3L505.6 170.9L505.7 170.5L505.7 170.1L505.7 169.7L505.7 169.3L505.7 169.0L505.7 168.6L505.7 168.3L505.7 168.0L505.7 167.7L505.7 167.4L505.8 167.1L505.8 166.9L505.8 166.6L505.8 166.4L505.8 166.2L505.8 166.0L505.8 165.8L505.8 165.7L505.8 165.6L505.8 165.4L505.8 165.3L505.8 165.2L505.8 165.1L505.9 165.1L505.9 165.0L505.9 164.9L505.9 164.8L505.9 164.7L505.9 164.8L505.9 164.9L505.9 165.0L506.0 165.0L506.0 165.1L506.0 165.2L506.0 165.3L506.0 165.4L506.0 165.6L506.0 165.7L506.0 165.8L506.0 166.0L506.0 166.2L506.0 166.4L506.0 166.6L506.0 166.9L506.0 167.1L506.1 167.4L506.1 167.7L506.1 168.0L506.1 168.3L506.1 168.6L506.1 169.0L506.1 169.3L506.1 169.7L506.1 170.1L506.2 170.5L506.2 170.9L506.2 171.3L506.2 171.7L506.2 172.1L506.2 172.6L506.2 173.0L506.2 173.4L506.3 173.8L506.3 174.3L506.3 174.7L506.3 175.1L506.3 175.5L506.3 175.9L506.4 176.3L506.4 176.6L506.4 176.7L506.4 177.1L506.4 177.5L506.4 177.9L506.4 178.3L506.5 178.6L506.5 179.0L506.5 179.4L506.5 179.7L506.5 180.0L506.5 180.4L506.6 180.7L506.6 181.0L506.6 181.3L506.6 181.6L506.6 181.9L506.7 182.2L506.7 182.4L506.7 182.7L506.7 183.0L506.7 183.2L506.8 183.5L506.8 183.7" fill="none" stroke="#111" stroke-width="1.2" stroke-linejoin="round"/>
</g>
<path d="M391.60 194.30v-1.6M391.60 116.25v1.6" stroke="#5a5a5a" stroke-width="0.9"/>
<text x="391.60" y="203.90" text-anchor="middle" font-size="8.2">9</text>
<path d="M429.60 194.30v-1.6M429.60 116.25v1.6" stroke="#5a5a5a" stroke-width="0.9"/>
<text x="429.60" y="203.90" text-anchor="middle" font-size="8.2">9.5</text>
<path d="M467.60 194.30v-1.6M467.60 116.25v1.6" stroke="#5a5a5a" stroke-width="0.9"/>
<text x="467.60" y="203.90" text-anchor="middle" font-size="8.2">10</text>
<path d="M505.60 194.30v-1.6M505.60 116.25v1.6" stroke="#5a5a5a" stroke-width="0.9"/>
<text x="505.60" y="203.90" text-anchor="middle" font-size="8.2">10.5</text>
<path d="M543.60 194.30v-1.6M543.60 116.25v1.6" stroke="#5a5a5a" stroke-width="0.9"/>
<text x="543.60" y="203.90" text-anchor="middle" font-size="8.2">11</text>
<path d="M391.60 194.30h1.6M543.60 194.30h-1.6" stroke="#5a5a5a" stroke-width="0.9"/>
<path d="M391.60 174.05h1.6M543.60 174.05h-1.6" stroke="#5a5a5a" stroke-width="0.9"/>
<text x="389.80" y="176.70" text-anchor="end" font-size="8.2">20</text>
<path d="M391.60 153.81h1.6M543.60 153.81h-1.6" stroke="#5a5a5a" stroke-width="0.9"/>
<text x="389.80" y="156.46" text-anchor="end" font-size="8.2">40</text>
<path d="M391.60 133.56h1.6M543.60 133.56h-1.6" stroke="#5a5a5a" stroke-width="0.9"/>
<text x="389.80" y="136.21" text-anchor="end" font-size="8.2">60</text>
<path d="M401.20 127.45h30.6" stroke="#1a1a1a" stroke-width="1.7"/>
<path d="M401.20 137.95h30.6" stroke="#ff0000" stroke-width="1.3"/>
<text x="434.20" y="130.65" font-size="8.4">Midpoint</text>
<text x="434.20" y="141.15" font-size="8.4">Endpoint</text>
<text x="467.80" y="213.90" text-anchor="middle" font-size="9.3">Frequency, <tspan font-style="italic">Ω</tspan>/(Hz)</text>
<text transform="translate(378.8 154.97) rotate(-90)" text-anchor="middle" font-size="9.3">Displacement, <tspan font-style="italic">u</tspan>/(m)</text>
<text x="3.5" y="113.5" font-size="8.4" style="fill:#333;stroke:#333;stroke-width:0.1px">(b)</text>
<rect x="32.40" y="220.15" width="152.30" height="77.85" fill="none" stroke="#5a5a5a" stroke-width="0.9"/>
<path d="M32.4 279.5L32.7 278.9L33.0 278.2L33.3 277.3L33.6 276.3L33.9 275.3L34.2 274.2L34.5 273.1L34.8 272.0L35.1 271.0L35.4 270.0L35.8 269.1L36.1 268.3L36.4 267.6L36.7 267.1L37.0 266.6L37.3 266.2L37.6 265.8L37.9 265.6L38.2 265.4L38.5 265.3L38.8 265.3L39.1 265.3L39.4 265.4L39.7 265.5L40.0 265.7L40.3 266.0L40.6 266.3L40.9 266.8L41.2 267.3L41.5 268.0L41.8 268.7L42.1 269.6L42.5 270.5L42.8 271.5L43.1 272.5L43.4 273.6L43.7 274.7L44.0 275.8L44.3 276.8L44.6 277.7L44.9 278.6L45.2 279.2L45.5 279.7L45.8 280.0L46.1 280.1L46.4 280.1L46.7 279.8L47.0 279.3L47.3 278.6L47.6 277.9L47.9 276.9L48.2 275.9L48.5 274.9L48.8 273.8L49.2 272.7L49.5 271.6L49.8 270.6L50.1 269.7L50.4 268.8L50.7 268.1L51.0 267.4L51.3 266.9L51.6 266.4L51.9 266.0L52.2 265.7L52.5 265.5L52.8 265.4L53.1 265.3L53.4 265.3L53.7 265.3L54.0 265.4L54.3 265.6L54.6 265.8L54.9 266.1L55.2 266.5L55.5 267.0L55.9 267.6L56.2 268.2L56.5 269.0L56.8 269.9L57.1 270.9L57.4 271.9L57.7 273.0L58.0 274.1L58.3 275.1L58.6 276.2L58.9 277.2L59.2 278.1L59.5 278.8L59.8 279.4L60.1 279.9L60.4 280.1L60.7 280.1L61.0 280.0L61.3 279.6L61.6 279.1L61.9 278.4L62.3 277.5L62.6 276.6L62.9 275.5L63.2 274.5L63.5 273.4L63.8 272.3L64.1 271.2L64.4 270.2L64.7 269.3L65.0 268.5L65.3 267.8L65.6 267.2L65.9 266.7L66.2 266.2L66.5 265.9L66.8 265.7L67.1 265.5L67.4 265.4L67.7 265.3L68.0 265.3L68.3 265.4L68.6 265.5L69.0 265.7L69.3 265.9L69.6 266.3L69.9 266.7L70.2 267.2L70.5 267.8L70.8 268.5L71.1 269.4L71.4 270.3L71.7 271.2L72.0 272.3L72.3 273.4L72.6 274.5L72.9 275.6L73.2 276.6L73.5 277.5L73.8 278.4L74.1 279.1L74.4 279.6L74.7 280.0L75.0 280.1L75.3 280.1L75.7 279.9L76.0 279.4L76.3 278.8L76.6 278.1L76.9 277.2L77.2 276.2L77.5 275.1L77.8 274.0L78.1 272.9L78.4 271.9L78.7 270.8L79.0 269.9L79.3 269.0L79.6 268.2L79.9 267.6L80.2 267.0L80.5 266.5L80.8 266.1L81.1 265.8L81.4 265.6L81.7 265.4L82.0 265.3L82.4 265.3L82.7 265.3L83.0 265.4L83.3 265.5L83.6 265.8L83.9 266.0L84.2 266.4L84.5 266.9L84.8 267.4L85.1 268.1L85.4 268.8L85.7 269.7L86.0 270.6L86.3 271.6L86.6 272.7L86.9 273.8L87.2 274.9L87.5 276.0L87.8 277.0L88.1 277.9L88.4 278.7L88.8 279.3L89.1 279.8L89.4 280.1L89.7 280.1L90.0 280.0L90.3 279.7L90.6 279.2L90.9 278.5L91.2 277.7L91.5 276.8L91.8 275.8L92.1 274.7L92.4 273.6L92.7 272.5L93.0 271.5L93.3 270.5L93.6 269.5L93.9 268.7L94.2 268.0L94.5 267.3L94.8 266.8L95.1 266.3L95.5 266.0L95.8 265.7L96.1 265.5L96.4 265.4L96.7 265.3L97.0 265.3L97.3 265.3L97.6 265.4L97.9 265.6L98.2 265.9L98.5 266.2L98.8 266.6L99.1 267.1L99.4 267.7L99.7 268.4L100.0 269.1L100.3 270.0L100.6 271.0L100.9 272.0L101.2 273.1L101.5 274.2L101.8 275.3L102.2 276.3L102.5 277.3L102.8 278.2L103.1 278.9L103.4 279.5L103.7 279.9L104.0 280.1L104.3 280.1L104.6 279.9L104.9 279.5L105.2 279.0L105.5 278.2L105.8 277.4L106.1 276.4L106.4 275.4L106.7 274.3L107.0 273.2L107.3 272.1L107.6 271.1L107.9 270.1L108.2 269.2L108.5 268.4L108.9 267.7L109.2 267.1L109.5 266.6L109.8 266.2L110.1 265.9L110.4 265.6L110.7 265.5L111.0 265.3L111.3 265.3L111.6 265.3L111.9 265.4L112.2 265.5L112.5 265.7L112.8 266.0L113.1 266.3L113.4 266.7L113.7 267.3L114.0 267.9L114.3 268.6L114.6 269.5L114.9 270.4L115.3 271.4L115.6 272.4L115.9 273.5L116.2 274.6L116.5 275.7L116.8 276.7L117.1 277.7L117.4 278.5L117.7 279.2L118.0 279.7L118.3 280.0L118.6 280.1L118.9 280.1L119.2 279.8L119.5 279.3L119.8 278.7L120.1 277.9L120.4 277.0L120.7 276.0L121.0 275.0L121.3 273.9L121.6 272.8L122.0 271.7L122.3 270.7L122.6 269.8L122.9 268.9L123.2 268.1L123.5 267.5L123.8 266.9L124.1 266.4L124.4 266.1L124.7 265.8L125.0 265.6L125.3 265.4L125.6 265.3L125.9 265.3L126.2 265.3L126.5 265.4L126.8 265.6L127.1 265.8L127.4 266.1L127.7 266.5L128.0 266.9L128.3 267.5L128.7 268.2L129.0 269.0L129.3 269.8L129.6 270.8L129.9 271.8L130.2 272.9L130.5 274.0L130.8 275.0L131.1 276.1L131.4 277.1L131.7 278.0L132.0 278.8L132.3 279.4L132.6 279.8L132.9 280.1L133.2 280.1L133.5 280.0L133.8 279.6L134.1 279.1L134.4 278.4L134.7 277.6L135.1 276.7L135.4 275.6L135.7 274.6L136.0 273.5L136.3 272.4L136.6 271.3L136.9 270.3L137.2 269.4L137.5 268.6L137.8 267.9L138.1 267.2L138.4 266.7L138.7 266.3L139.0 265.9L139.3 265.7L139.6 265.5L139.9 265.4L140.2 265.3L140.5 265.3L140.8 265.4L141.1 265.5L141.4 265.6L141.8 265.9L142.1 266.2L142.4 266.6L142.7 267.1L143.0 267.8L143.3 268.5L143.6 269.3L143.9 270.2L144.2 271.2L144.5 272.2L144.8 273.3L145.1 274.4L145.4 275.5L145.7 276.5L146.0 277.5L146.3 278.3L146.6 279.0L146.9 279.6L147.2 279.9L147.5 280.1L147.8 280.1L148.1 279.9L148.5 279.5L148.8 278.9L149.1 278.1L149.4 277.3L149.7 276.3L150.0 275.2L150.3 274.1L150.6 273.0L150.9 272.0L151.2 270.9L151.5 270.0L151.8 269.1L152.1 268.3L152.4 267.6L152.7 267.0L153.0 266.5L153.3 266.1L153.6 265.8L153.9 265.6L154.2 265.4L154.5 265.3L154.8 265.3L155.2 265.3L155.5 265.4L155.8 265.5L156.1 265.7L156.4 266.0L156.7 266.4L157.0 266.8L157.3 267.4L157.6 268.0L157.9 268.8L158.2 269.6L158.5 270.5L158.8 271.5L159.1 272.6L159.4 273.7L159.7 274.8L160.0 275.9L160.3 276.9L160.6 277.8L160.9 278.6L161.2 279.2L161.6 279.7L161.9 280.0L162.2 280.1L162.5 280.0L162.8 279.7L163.1 279.3L163.4 278.6L163.7 277.8L164.0 276.9L164.3 275.9L164.6 274.8L164.9 273.7L165.2 272.6L165.5 271.6L165.8 270.6L166.1 269.6L166.4 268.8L166.7 268.0L167.0 267.4L167.3 266.8L167.6 266.4L167.9 266.0L168.3 265.7L168.6 265.5L168.9 265.4L169.2 265.3L169.5 265.3L169.8 265.3L170.1 265.4L170.4 265.6L170.7 265.8L171.0 266.1L171.3 266.5L171.6 267.0L171.9 267.6L172.2 268.3L172.5 269.1L172.8 269.9L173.1 270.9L173.4 271.9L173.7 273.0L174.0 274.1L174.3 275.2L174.6 276.3L175.0 277.2L175.3 278.1L175.6 278.9L175.9 279.5L176.2 279.9L176.5 280.1L176.8 280.1L177.1 280.0L177.4 279.6L177.7 279.0L178.0 278.3L178.3 277.5L178.6 276.5L178.9 275.5L179.2 274.4L179.5 273.3L179.8 272.2L180.1 271.2L180.4 270.2L180.7 269.3L181.0 268.5L181.3 267.8L181.7 267.2L182.0 266.6L182.3 266.2L182.6 265.9L182.9 265.6L183.2 265.5L183.5 265.4L183.8 265.3L184.1 265.3L184.4 265.4L184.7 265.5" fill="none" stroke="#111" stroke-width="1.25" stroke-linejoin="round"/>
<path d="M32.4 290.7L32.7 289.9L33.0 288.9L33.3 287.6L33.6 286.1L33.9 284.3L34.2 282.3L34.5 280.1L34.8 277.8L35.1 275.3L35.4 272.7L35.8 270.1L36.1 267.4L36.4 264.8L36.7 262.4L37.0 260.1L37.3 258.0L37.6 256.2L37.9 254.7L38.2 253.6L38.5 252.9L38.8 252.5L39.1 252.7L39.4 253.2L39.7 254.1L40.0 255.4L40.3 257.1L40.6 259.0L40.9 261.2L41.2 263.6L41.5 266.1L41.8 268.7L42.1 271.4L42.5 274.0L42.8 276.5L43.1 279.0L43.4 281.2L43.7 283.3L44.0 285.2L44.3 286.9L44.6 288.3L44.9 289.4L45.2 290.4L45.5 291.0L45.8 291.4L46.1 291.6L46.4 291.5L46.7 291.1L47.0 290.4L47.3 289.6L47.6 288.4L47.9 287.0L48.2 285.4L48.5 283.6L48.8 281.5L49.2 279.2L49.5 276.8L49.8 274.3L50.1 271.7L50.4 269.0L50.7 266.4L51.0 263.9L51.3 261.5L51.6 259.2L51.9 257.3L52.2 255.6L52.5 254.2L52.8 253.3L53.1 252.7L53.4 252.5L53.7 252.8L54.0 253.5L54.3 254.6L54.6 256.0L54.9 257.8L55.2 259.8L55.5 262.1L55.9 264.5L56.2 267.1L56.5 269.7L56.8 272.4L57.1 275.0L57.4 277.5L57.7 279.8L58.0 282.1L58.3 284.1L58.6 285.9L58.9 287.4L59.2 288.7L59.5 289.8L59.8 290.6L60.1 291.2L60.4 291.5L60.7 291.6L61.0 291.3L61.3 290.9L61.6 290.1L61.9 289.2L62.3 287.9L62.6 286.4L62.9 284.7L63.2 282.8L63.5 280.7L63.8 278.3L64.1 275.9L64.4 273.3L64.7 270.7L65.0 268.0L65.3 265.4L65.6 262.9L65.9 260.6L66.2 258.5L66.5 256.6L66.8 255.0L67.1 253.8L67.4 253.0L67.7 252.6L68.0 252.6L68.3 253.0L68.6 253.8L69.0 255.1L69.3 256.6L69.6 258.5L69.9 260.6L70.2 263.0L70.5 265.5L70.8 268.1L71.1 270.7L71.4 273.4L71.7 275.9L72.0 278.4L72.3 280.7L72.6 282.8L72.9 284.8L73.2 286.5L73.5 288.0L73.8 289.2L74.1 290.2L74.4 290.9L74.7 291.3L75.0 291.6L75.3 291.5L75.7 291.2L76.0 290.6L76.3 289.8L76.6 288.7L76.9 287.4L77.2 285.8L77.5 284.0L77.8 282.0L78.1 279.8L78.4 277.4L78.7 274.9L79.0 272.3L79.3 269.7L79.6 267.0L79.9 264.5L80.2 262.0L80.5 259.8L80.8 257.7L81.1 256.0L81.4 254.5L81.7 253.5L82.0 252.8L82.4 252.5L82.7 252.7L83.0 253.3L83.3 254.3L83.6 255.6L83.9 257.3L84.2 259.3L84.5 261.5L84.8 263.9L85.1 266.5L85.4 269.1L85.7 271.8L86.0 274.4L86.3 276.9L86.6 279.3L86.9 281.5L87.2 283.6L87.5 285.5L87.8 287.1L88.1 288.5L88.4 289.6L88.8 290.5L89.1 291.1L89.4 291.5L89.7 291.6L90.0 291.4L90.3 291.0L90.6 290.3L90.9 289.4L91.2 288.2L91.5 286.8L91.8 285.2L92.1 283.3L92.4 281.2L92.7 278.9L93.0 276.5L93.3 273.9L93.6 271.3L93.9 268.7L94.2 266.1L94.5 263.5L94.8 261.1L95.1 258.9L95.5 257.0L95.8 255.4L96.1 254.1L96.4 253.2L96.7 252.6L97.0 252.6L97.3 252.9L97.6 253.6L97.9 254.7L98.2 256.2L98.5 258.0L98.8 260.1L99.1 262.4L99.4 264.9L99.7 267.5L100.0 270.1L100.3 272.8L100.6 275.3L100.9 277.8L101.2 280.2L101.5 282.4L101.8 284.3L102.2 286.1L102.5 287.6L102.8 288.9L103.1 290.0L103.4 290.7L103.7 291.3L104.0 291.5L104.3 291.5L104.6 291.3L104.9 290.8L105.2 290.0L105.5 289.0L105.8 287.7L106.1 286.2L106.4 284.5L106.7 282.5L107.0 280.3L107.3 278.0L107.6 275.5L107.9 272.9L108.2 270.3L108.5 267.7L108.9 265.1L109.2 262.6L109.5 260.3L109.8 258.2L110.1 256.3L110.4 254.8L110.7 253.7L111.0 252.9L111.3 252.6L111.6 252.6L111.9 253.1L112.2 254.0L112.5 255.3L112.8 256.9L113.1 258.8L113.4 261.0L113.7 263.4L114.0 265.9L114.3 268.5L114.6 271.1L114.9 273.7L115.3 276.3L115.6 278.7L115.9 281.0L116.2 283.1L116.5 285.0L116.8 286.7L117.1 288.1L117.4 289.3L117.7 290.3L118.0 291.0L118.3 291.4L118.6 291.6L118.9 291.5L119.2 291.1L119.5 290.5L119.8 289.7L120.1 288.5L120.4 287.2L120.7 285.6L121.0 283.7L121.3 281.7L121.6 279.5L122.0 277.1L122.3 274.5L122.6 271.9L122.9 269.3L123.2 266.7L123.5 264.1L123.8 261.7L124.1 259.4L124.4 257.4L124.7 255.7L125.0 254.3L125.3 253.3L125.6 252.7L125.9 252.5L126.2 252.8L126.5 253.4L126.8 254.4L127.1 255.8L127.4 257.6L127.7 259.6L128.0 261.9L128.3 264.3L128.7 266.9L129.0 269.5L129.3 272.1L129.6 274.7L129.9 277.2L130.2 279.6L130.5 281.8L130.8 283.9L131.1 285.7L131.4 287.3L131.7 288.6L132.0 289.7L132.3 290.6L132.6 291.2L132.9 291.5L133.2 291.6L133.5 291.4L133.8 290.9L134.1 290.2L134.4 289.3L134.7 288.1L135.1 286.6L135.4 284.9L135.7 283.0L136.0 280.9L136.3 278.6L136.6 276.1L136.9 273.6L137.2 270.9L137.5 268.3L137.8 265.7L138.1 263.2L138.4 260.8L138.7 258.7L139.0 256.8L139.3 255.2L139.6 253.9L139.9 253.1L140.2 252.6L140.5 252.6L140.8 253.0L141.1 253.7L141.4 254.9L141.8 256.5L142.1 258.3L142.4 260.4L142.7 262.8L143.0 265.3L143.3 267.9L143.6 270.5L143.9 273.1L144.2 275.7L144.5 278.2L144.8 280.5L145.1 282.6L145.4 284.6L145.7 286.3L146.0 287.8L146.3 289.1L146.6 290.1L146.9 290.8L147.2 291.3L147.5 291.5L147.8 291.5L148.1 291.2L148.5 290.7L148.8 289.9L149.1 288.8L149.4 287.5L149.7 286.0L150.0 284.2L150.3 282.2L150.6 280.0L150.9 277.6L151.2 275.2L151.5 272.6L151.8 269.9L152.1 267.3L152.4 264.7L152.7 262.3L153.0 260.0L153.3 257.9L153.6 256.1L153.9 254.6L154.2 253.5L154.5 252.8L154.8 252.5L155.2 252.7L155.5 253.2L155.8 254.2L156.1 255.5L156.4 257.1L156.7 259.1L157.0 261.3L157.3 263.7L157.6 266.2L157.9 268.9L158.2 271.5L158.5 274.1L158.8 276.7L159.1 279.1L159.4 281.3L159.7 283.4L160.0 285.3L160.3 286.9L160.6 288.3L160.9 289.5L161.2 290.4L161.6 291.0L161.9 291.4L162.2 291.6L162.5 291.4L162.8 291.1L163.1 290.4L163.4 289.5L163.7 288.4L164.0 287.0L164.3 285.3L164.6 283.5L164.9 281.4L165.2 279.1L165.5 276.7L165.8 274.2L166.1 271.6L166.4 268.9L166.7 266.3L167.0 263.8L167.3 261.4L167.6 259.1L167.9 257.2L168.3 255.5L168.6 254.2L168.9 253.2L169.2 252.7L169.5 252.5L169.8 252.8L170.1 253.5L170.4 254.6L170.7 256.1L171.0 257.9L171.3 259.9L171.6 262.2L171.9 264.7L172.2 267.2L172.5 269.9L172.8 272.5L173.1 275.1L173.4 277.6L173.7 280.0L174.0 282.2L174.3 284.2L174.6 285.9L175.0 287.5L175.3 288.8L175.6 289.9L175.9 290.7L176.2 291.2L176.5 291.5L176.8 291.5L177.1 291.3L177.4 290.8L177.7 290.1L178.0 289.1L178.3 287.9L178.6 286.4L178.9 284.6L179.2 282.7L179.5 280.5L179.8 278.2L180.1 275.8L180.4 273.2L180.7 270.6L181.0 267.9L181.3 265.3L181.7 262.8L182.0 260.5L182.3 258.4L182.6 256.5L182.9 255.0L183.2 253.8L183.5 253.0L183.8 252.6L184.1 252.6L184.4 253.0L184.7 253.9" fill="none" stroke="#ff0000" stroke-width="1.3" stroke-linejoin="round"/>
<path d="M32.40 298.00v-1.6M32.40 220.15v1.6" stroke="#5a5a5a" stroke-width="0.9"/>
<text x="32.40" y="307.60" text-anchor="middle" font-size="8.2">1</text>
<path d="M62.86 298.00v-1.6M62.86 220.15v1.6" stroke="#5a5a5a" stroke-width="0.9"/>
<text x="62.86" y="307.60" text-anchor="middle" font-size="8.2">1.2</text>
<path d="M93.32 298.00v-1.6M93.32 220.15v1.6" stroke="#5a5a5a" stroke-width="0.9"/>
<text x="93.32" y="307.60" text-anchor="middle" font-size="8.2">1.4</text>
<path d="M123.78 298.00v-1.6M123.78 220.15v1.6" stroke="#5a5a5a" stroke-width="0.9"/>
<text x="123.78" y="307.60" text-anchor="middle" font-size="8.2">1.6</text>
<path d="M154.24 298.00v-1.6M154.24 220.15v1.6" stroke="#5a5a5a" stroke-width="0.9"/>
<text x="154.24" y="307.60" text-anchor="middle" font-size="8.2">1.8</text>
<path d="M184.70 298.00v-1.6M184.70 220.15v1.6" stroke="#5a5a5a" stroke-width="0.9"/>
<text x="184.70" y="307.60" text-anchor="middle" font-size="8.2">2</text>
<path d="M32.40 298.00h1.6M184.70 298.00h-1.6" stroke="#5a5a5a" stroke-width="0.9"/>
<text x="30.60" y="300.65" text-anchor="end" font-size="8.2">-5</text>
<path d="M32.40 272.05h1.6M184.70 272.05h-1.6" stroke="#5a5a5a" stroke-width="0.9"/>
<text x="30.60" y="274.70" text-anchor="end" font-size="8.2">0</text>
<path d="M32.40 246.10h1.6M184.70 246.10h-1.6" stroke="#5a5a5a" stroke-width="0.9"/>
<text x="30.60" y="248.75" text-anchor="end" font-size="8.2">5</text>
<path d="M32.40 220.15h1.6M184.70 220.15h-1.6" stroke="#5a5a5a" stroke-width="0.9"/>
<text x="30.60" y="222.80" text-anchor="end" font-size="8.2">10</text>
<text x="33.00" y="218.85" font-size="9.1">×10<tspan font-size="6.3" dx="0.9" dy="-4.8">-3</tspan></text>
<path d="M42.00 231.35h30.6" stroke="#1a1a1a" stroke-width="1.7"/>
<path d="M42.00 241.85h30.6" stroke="#ff0000" stroke-width="1.3"/>
<text x="75.00" y="234.55" font-size="8.4">Midpoint</text>
<text x="75.00" y="245.05" font-size="8.4">Endpoint</text>
<text x="109.25" y="317.60" text-anchor="middle" font-size="9.3">Time, <tspan font-style="italic">t</tspan>/(sec)</text>
<text transform="translate(20.2 258.57) rotate(-90)" text-anchor="middle" font-size="9.3">Displacement, <tspan font-style="italic">u</tspan>/(m)</text>
<rect x="212.00" y="220.15" width="152.30" height="77.85" fill="none" stroke="#5a5a5a" stroke-width="0.9"/>
<path d="M349.0 269.6L349.0 270.0L348.9 270.4L348.8 270.8L348.6 271.1L348.6 271.5L348.7 271.9L348.8 272.3L348.8 272.7L348.8 273.1L348.4 273.4L348.2 273.8L347.8 274.2L347.8 274.5L347.4 274.9L347.4 275.3L347.0 275.6L347.0 276.0L346.5 276.4L346.4 276.7L346.1 277.1L345.8 277.5L345.2 277.7L345.1 278.2L344.8 278.5L344.2 278.8L344.1 279.3L344.0 279.7L343.4 280.0L342.9 280.3L342.5 280.7L341.9 280.9L341.3 281.2L340.9 281.5L340.5 281.9L339.9 282.2L339.4 282.5L338.9 282.8L338.5 283.2L337.9 283.4L337.5 283.9L337.0 284.2L336.3 284.4L335.6 284.7L335.1 285.0L334.6 285.4L334.1 285.8L333.5 286.1L332.9 286.5L332.2 286.7L331.4 286.9L330.7 287.1L329.8 287.2L329.1 287.4L328.4 287.7L327.7 287.9L327.0 288.2L326.3 288.5L325.5 288.7L324.8 289.0L324.1 289.3L323.2 289.4L322.4 289.5L321.7 289.9L320.8 289.9L320.0 290.2L319.1 290.3L318.4 290.6L317.5 290.7L316.7 291.0L315.8 290.9L314.9 291.1L314.0 291.2L313.2 291.5L312.3 291.5L311.5 291.8L310.6 291.9L309.7 292.0L308.8 292.1L308.0 292.5L307.1 292.6L306.2 293.0L305.3 293.1L304.4 293.3L303.5 293.2L302.5 293.2L301.6 293.2L300.7 293.6L299.7 293.3L298.7 293.4L297.8 293.6L296.9 293.5L295.9 293.4L294.9 293.4L294.0 293.4L293.0 293.3L292.1 293.6L291.2 293.9L290.2 294.1L289.3 294.1L288.3 294.0L287.3 293.9L286.4 293.8L285.4 293.9L284.5 293.9L283.5 294.0L282.6 293.8L281.6 293.7L280.7 293.5L279.7 293.7L278.8 293.8L277.8 293.6L276.9 293.4L275.9 293.6L275.0 293.3L274.1 293.2L273.1 293.2L272.2 293.3L271.3 293.1L270.4 293.0L269.5 292.6L268.6 292.4L267.7 292.3L266.9 292.2L266.0 292.0L265.0 292.1L264.1 292.0L263.3 291.7L262.5 291.4L261.5 291.5L260.7 291.3L259.8 291.1L258.8 291.2L257.9 291.1L257.1 290.9L256.3 290.6L255.5 290.4L254.7 290.2L253.9 289.9L253.2 289.7L252.4 289.4L251.7 289.1L251.0 288.9L250.3 288.6L249.6 288.2L248.8 288.0L248.0 287.9L247.3 287.7L246.5 287.5L245.6 287.5L244.9 287.1L244.3 286.8L243.7 286.5L243.3 286.0L242.8 285.6L242.2 285.2L241.6 285.0L240.9 284.8L240.2 284.6L239.5 284.3L239.0 284.0L238.6 283.6L238.0 283.3L237.5 282.9L237.1 282.5L236.5 282.3L236.1 281.9L235.6 281.6L235.2 281.2L234.8 280.8L234.4 280.5L233.9 280.2L233.4 279.9L232.9 279.6L232.2 279.4L231.8 279.0L231.7 278.6L231.4 278.2L231.2 277.8L231.1 277.4L230.7 277.1L230.3 276.7L230.1 276.3L229.9 276.0L229.4 275.7L229.4 275.2L229.2 274.9L229.0 274.5L228.8 274.1L228.8 273.7L228.6 273.4L228.3 273.0L228.1 272.7L227.8 272.3L227.8 271.9L227.6 271.6L227.6 271.2L227.5 270.8L227.6 270.4L227.5 270.0L227.3 269.6L227.3 269.3L227.5 268.9L227.4 268.5L227.4 268.1L227.6 267.7L227.7 267.4L227.7 267.0L227.6 266.6L227.8 266.2L227.9 265.8L228.2 265.4L228.3 265.1L228.7 264.7L228.9 264.4L229.3 264.0L229.5 263.7L229.9 263.3L230.2 263.0L230.5 262.6L230.8 262.3L231.2 262.0L231.3 261.5L231.6 261.2L231.8 260.8L232.1 260.4L232.3 260.0L232.7 259.6L232.9 259.2L233.5 258.9L234.1 258.6L234.5 258.3L234.9 257.9L235.5 257.7L235.8 257.2L236.2 256.9L236.7 256.5L237.4 256.3L238.0 256.1L238.7 255.8L239.2 255.5L239.9 255.3L240.3 254.8L240.9 254.6L241.6 254.3L242.2 254.1L242.7 253.7L243.4 253.5L244.1 253.2L244.6 252.8L245.1 252.4L245.8 252.1L246.6 251.9L247.1 251.5L248.0 251.3L248.8 251.3L249.6 251.0L250.2 250.7L251.1 250.6L251.7 250.2L252.5 250.0L253.4 249.9L254.3 249.9L255.1 249.7L256.1 249.7L256.7 249.3L257.5 249.2L258.3 248.9L259.2 248.7L260.0 248.5L260.8 248.3L261.6 248.0L262.5 247.9L263.3 247.6L264.1 247.3L265.0 247.3L265.9 247.2L266.8 246.9L267.7 246.7L268.6 246.6L269.4 246.4L270.4 246.3L271.3 246.2L272.2 246.3L273.2 246.2L274.1 246.1L275.0 246.0L276.0 246.0L276.9 245.8L277.8 245.7L278.7 245.5L279.7 245.4L280.6 245.2L281.6 245.2L282.5 245.2L283.5 245.3L284.5 245.3L285.4 245.3L286.4 245.3L287.3 245.4L288.3 245.5L289.3 245.7L290.2 245.9L291.1 246.2L292.1 246.2L293.0 246.2L294.0 246.2L294.9 246.1L295.9 245.9L296.9 245.6L297.9 245.5L298.8 245.3L299.8 245.3L300.7 245.6L301.6 245.9L302.5 246.0L303.4 246.2L304.3 246.5L305.3 246.4L306.2 246.4L307.1 246.7L308.0 246.8L308.9 247.0L309.7 247.3L310.6 247.4L311.5 247.4L312.5 247.3L313.4 247.3L314.4 247.2L315.3 247.5L316.0 247.8L316.9 248.0L317.7 248.3L318.5 248.5L319.3 248.8L320.1 249.0L320.8 249.4L321.6 249.5L322.4 249.7L323.4 249.7L324.2 249.9L324.9 250.2L325.7 250.3L326.5 250.5L327.2 250.9L327.9 251.1L328.7 251.3L329.3 251.7L329.9 252.1L330.5 252.4L331.2 252.6L331.9 252.9L332.4 253.3L333.1 253.5L333.9 253.6L334.7 253.8L335.2 254.2L335.9 254.4L336.3 254.8L336.9 255.2L337.4 255.5L337.9 255.8L338.5 256.1L339.2 256.3L339.6 256.7L340.1 257.0L340.6 257.3L341.0 257.7L341.6 258.0L342.0 258.3L342.5 258.7L342.9 259.0L343.3 259.4L343.5 259.8L343.9 260.1L344.2 260.5L344.5 260.9L344.9 261.2L345.4 261.5L345.7 261.8L346.1 262.2L346.4 262.5L346.7 262.9L346.8 263.3L347.2 263.6L347.4 264.0L347.6 264.4L347.7 264.8L347.8 265.2L348.0 265.5L348.5 265.8L348.6 266.2L348.8 266.6L348.9 267.0L348.8 267.4L348.9 267.8L348.8 268.1L348.9 268.5L348.9 268.9L349.1 269.3ZM339.2 269.5L339.1 269.3L338.7 269.2L339.0 269.0L339.2 268.9L339.0 268.7L339.2 268.5L339.3 268.3L339.2 268.2L338.8 268.0L338.5 267.9L338.0 267.8L337.4 267.7L337.0 267.6L337.1 267.4L337.0 267.2L337.1 266.9L336.8 266.8L336.6 266.6L336.0 266.6L335.5 266.5L335.2 266.3L335.1 266.0L334.6 266.0L334.2 265.8L334.2 265.5L333.7 265.4L333.0 265.4L332.6 265.2L332.1 265.1L331.7 264.9L331.4 264.7L330.9 264.5L330.5 264.3L330.1 264.1L329.5 263.9L328.8 264.0L328.5 263.6L328.1 263.3L327.3 263.3L326.5 263.3L325.9 263.3L324.9 263.5L324.0 263.5L323.7 263.2L322.9 263.2L322.4 262.9L321.9 262.6L321.2 262.5L320.5 262.5L320.1 262.1L319.3 262.1L318.8 261.8L318.0 261.8L317.1 261.9L316.1 262.2L315.5 262.0L314.6 262.2L313.9 262.0L313.3 261.7L312.8 261.3L311.9 261.4L311.3 261.2L310.6 261.1L309.8 261.0L308.9 261.3L308.1 261.3L307.4 261.2L306.7 261.1L305.9 261.2L305.2 261.1L304.5 260.9L303.9 260.6L303.1 260.6L302.5 260.2L301.9 260.0L301.1 260.2L300.3 260.5L299.6 260.2L298.9 260.4L298.2 260.5L297.5 260.3L296.9 260.0L296.3 260.0L295.6 260.1L295.0 259.7L294.4 259.6L293.8 259.6L293.2 260.0L292.6 259.6L292.0 260.0L291.5 259.9L291.0 260.1L290.5 259.7L290.0 259.6L289.6 259.4L289.2 259.2L288.8 259.1L288.5 259.1L288.3 259.6L288.1 259.4L287.8 259.6L287.4 259.4L287.0 259.4L286.6 259.4L286.1 259.3L285.6 259.2L285.1 259.4L284.5 259.3L283.9 259.1L283.4 259.1L282.8 259.4L282.2 259.4L281.6 259.6L280.9 259.8L280.4 260.1L279.6 259.9L278.9 259.6L278.3 259.8L277.6 259.9L276.9 259.9L276.2 259.9L275.6 260.3L274.8 260.2L274.0 260.1L273.3 260.2L272.7 260.6L271.9 260.3L271.2 260.5L270.5 260.8L269.9 261.1L269.2 261.2L268.6 261.6L267.9 261.7L267.0 261.5L266.1 261.2L265.2 261.0L264.5 261.2L263.7 261.1L263.1 261.3L262.4 261.5L261.6 261.5L260.8 261.5L260.2 261.7L259.6 262.0L258.9 262.1L258.2 262.3L257.5 262.3L256.9 262.6L256.0 262.3L255.1 262.3L254.7 262.7L254.2 262.9L253.5 263.0L253.1 263.3L252.8 263.8L252.1 263.8L251.4 263.8L250.5 263.7L250.0 263.9L249.3 263.9L248.4 263.8L247.7 263.8L247.3 264.1L246.6 264.1L245.9 264.2L245.7 264.5L245.4 264.8L244.9 264.9L244.5 265.1L244.3 265.4L243.8 265.5L243.6 265.7L243.2 265.9L242.9 266.0L242.5 266.2L241.9 266.2L241.6 266.4L241.3 266.5L240.8 266.6L240.5 266.8L240.3 267.0L239.6 267.0L239.0 267.0L238.5 267.1L237.9 267.2L237.4 267.4L237.5 267.6L237.4 267.8L237.3 268.0L237.4 268.2L237.3 268.3L236.8 268.5L236.9 268.6L237.0 268.8L237.2 269.0L237.6 269.2L237.6 269.3L237.4 269.5L237.1 269.6L236.6 269.8L236.7 270.0L236.7 270.2L237.0 270.3L237.1 270.5L237.2 270.6L237.0 270.8L237.5 270.9L237.4 271.1L237.6 271.3L238.2 271.4L238.4 271.5L238.7 271.7L239.4 271.7L239.8 271.8L239.8 272.0L240.1 272.2L240.0 272.4L239.9 272.7L240.1 272.9L240.7 273.0L240.7 273.2L241.0 273.4L241.5 273.5L241.9 273.7L241.9 274.0L242.8 274.0L243.5 274.0L244.2 274.0L244.7 274.1L245.1 274.3L245.5 274.5L245.9 274.7L246.1 275.0L246.4 275.3L247.3 275.2L247.7 275.4L248.4 275.5L249.3 275.3L249.9 275.5L250.2 275.8L250.9 275.9L251.7 275.9L252.0 276.2L252.9 276.1L253.6 276.2L254.0 276.6L254.4 276.9L255.3 276.8L255.8 277.2L256.8 276.9L257.6 276.8L258.5 276.7L259.0 277.0L259.8 277.0L260.5 277.1L261.1 277.3L261.6 277.8L262.4 277.7L263.1 277.9L263.8 278.0L264.7 277.9L265.6 277.6L266.3 277.7L267.1 277.7L267.6 278.1L268.2 278.5L268.9 278.6L269.6 278.8L270.4 278.8L271.3 278.5L272.0 278.6L272.7 278.6L273.5 278.5L274.1 278.9L274.7 279.4L275.4 279.4L276.2 279.5L276.8 279.6L277.6 279.5L278.4 279.0L279.1 278.8L279.8 278.8L280.3 279.2L281.0 279.1L281.6 279.2L282.3 279.1L282.9 279.3L283.4 279.4L284.0 279.2L284.6 279.3L285.1 279.5L285.6 279.7L286.1 279.3L286.6 279.5L287.0 279.7L287.4 279.7L287.8 279.3L288.1 279.8L288.3 280.0L288.5 280.1L288.8 280.2L289.2 280.4L289.6 280.3L290.0 280.3L290.5 280.1L291.0 280.1L291.6 280.4L292.1 280.4L292.7 280.2L293.2 280.2L293.9 280.2L294.4 279.9L295.1 280.0L295.8 280.2L296.4 280.1L297.0 279.6L297.7 279.7L298.3 279.2L298.9 279.1L299.7 279.2L300.4 279.5L301.1 279.0L301.8 279.0L302.4 278.8L303.1 278.4L303.7 278.3L304.6 278.5L305.3 278.4L306.1 278.6L306.8 278.4L307.5 278.4L308.3 278.3L309.2 278.6L309.9 278.5L310.8 278.6L311.5 278.5L312.2 278.4L313.0 278.3L313.4 277.8L314.2 277.8L315.0 277.8L315.7 277.7L316.3 277.4L317.2 277.5L317.8 277.3L318.5 277.2L319.2 277.0L319.7 276.8L320.5 276.9L321.4 276.9L322.0 276.7L322.7 276.6L323.4 276.6L324.1 276.5L324.4 276.1L325.1 276.0L325.5 275.7L326.0 275.5L326.4 275.3L327.4 275.4L327.8 275.2L328.6 275.2L329.5 275.4L330.1 275.2L330.4 274.9L331.3 275.0L331.6 274.8L331.9 274.5L332.4 274.4L333.0 274.3L333.4 274.1L334.1 274.1L334.7 274.0L335.1 273.9L335.6 273.8L335.6 273.4L335.7 273.2L335.9 273.0L336.4 272.9L336.2 272.6L336.8 272.5L337.5 272.4L337.8 272.3L338.1 272.1L338.6 272.1L338.6 271.8L338.9 271.7L338.8 271.5L339.0 271.3L339.0 271.1L339.3 271.0L338.9 270.8L339.0 270.6L339.2 270.4L339.1 270.3L338.8 270.1L339.3 270.0L339.4 269.8L338.9 269.6Z" fill="#ff0000" fill-rule="evenodd"/>
<path d="M314.9 269.6L314.9 269.9L315.0 270.2L315.1 270.4L315.0 270.7L315.0 271.0L314.9 271.2L314.8 271.5L314.7 271.7L314.8 272.0L314.6 272.3L314.3 272.5L314.2 272.8L313.9 273.0L313.5 273.2L313.4 273.4L313.4 273.7L313.1 274.0L313.1 274.3L312.8 274.5L312.5 274.7L312.1 274.8L311.8 275.1L311.4 275.2L311.0 275.4L310.7 275.6L310.3 275.8L309.9 275.9L309.5 276.1L309.1 276.3L308.8 276.5L308.5 276.8L308.1 277.0L307.8 277.2L307.4 277.5L306.9 277.7L306.4 277.8L306.0 278.0L305.5 278.2L304.9 278.2L304.3 278.3L303.8 278.4L303.2 278.4L302.6 278.6L302.1 278.8L301.4 278.8L300.8 279.0L300.2 279.1L299.5 279.1L298.8 279.2L298.1 279.3L297.4 279.3L296.6 279.3L295.8 279.3L295.0 279.3L294.2 279.4L293.3 279.4L292.3 279.3L291.3 279.3L290.1 279.5L288.3 279.5L286.5 279.7L285.3 279.7L284.2 279.9L283.2 279.9L282.3 279.8L281.5 279.7L280.7 279.7L279.9 279.5L279.2 279.3L278.5 279.3L277.8 279.2L277.1 279.1L276.4 279.1L275.7 279.1L275.1 279.0L274.4 278.9L273.9 278.7L273.4 278.6L272.9 278.3L272.4 278.1L271.9 278.0L271.3 277.9L270.7 277.9L270.1 277.9L269.6 277.7L269.1 277.6L268.6 277.5L268.3 277.2L267.9 276.9L267.5 276.8L267.3 276.5L267.0 276.2L266.6 276.0L266.2 275.8L265.8 275.7L265.4 275.5L265.0 275.3L264.6 275.2L264.4 274.9L264.1 274.7L263.8 274.5L263.6 274.2L263.4 274.0L263.1 273.8L263.0 273.5L262.9 273.2L262.7 273.0L262.4 272.8L262.3 272.5L262.1 272.3L261.9 272.0L261.9 271.7L261.9 271.5L261.7 271.2L261.6 271.0L261.6 270.7L261.5 270.4L261.4 270.2L261.4 269.9L261.6 269.6L261.5 269.4L261.5 269.1L261.6 268.9L261.7 268.6L261.8 268.4L261.9 268.1L261.9 267.8L261.9 267.6L261.9 267.3L261.9 267.0L262.2 266.8L262.3 266.5L262.5 266.3L262.8 266.0L263.1 265.8L263.3 265.6L263.4 265.3L263.7 265.1L264.0 264.9L264.2 264.6L264.4 264.4L264.7 264.2L265.2 264.0L265.4 263.7L265.6 263.5L266.0 263.3L266.5 263.2L266.8 263.0L267.2 262.8L267.7 262.7L268.1 262.5L268.4 262.3L268.8 262.0L269.3 261.9L269.7 261.7L270.1 261.5L270.7 261.3L271.3 261.3L271.8 261.2L272.3 261.1L272.9 261.1L273.5 261.0L274.1 260.9L274.7 260.8L275.2 260.5L275.8 260.4L276.4 260.2L277.0 260.0L277.7 259.9L278.5 260.0L279.2 259.9L279.9 259.9L280.7 259.9L281.5 259.9L282.4 259.8L283.3 259.7L284.2 259.7L285.3 259.7L286.5 259.6L288.3 259.6L290.1 259.6L291.3 259.5L292.4 259.6L293.3 259.7L294.2 259.8L295.1 259.9L295.9 259.9L296.6 260.0L297.4 259.9L298.2 259.9L298.9 260.0L299.6 260.0L300.2 260.1L300.9 260.2L301.5 260.4L302.1 260.5L302.6 260.6L303.3 260.7L303.7 261.0L304.3 261.0L304.9 261.1L305.4 261.3L305.9 261.4L306.5 261.4L307.0 261.6L307.5 261.7L307.9 261.9L308.3 262.2L308.6 262.4L309.0 262.6L309.4 262.8L309.8 262.9L310.3 263.1L310.7 263.3L311.0 263.5L311.3 263.7L311.5 264.0L311.8 264.2L312.0 264.5L312.2 264.7L312.5 265.0L312.9 265.1L313.1 265.4L313.4 265.6L313.7 265.8L313.9 266.0L314.1 266.3L314.3 266.5L314.4 266.8L314.5 267.0L314.6 267.3L314.6 267.6L314.7 267.8L314.8 268.1L314.9 268.4L315.1 268.6L315.0 268.9L315.0 269.1L315.0 269.4ZM302.6 270.0L302.7 269.8L302.6 269.7L302.7 269.6L302.3 269.5L302.0 269.4L301.7 269.3L301.3 269.2L300.9 269.1L300.6 269.0L300.1 268.9L299.5 268.8L298.9 268.8L298.2 268.8L297.6 268.7L297.0 268.6L296.5 268.4L295.7 268.5L295.1 268.3L294.5 268.1L293.8 268.1L293.1 268.0L292.4 267.8L291.7 268.0L291.0 268.2L290.3 268.0L289.7 268.1L289.2 268.2L288.7 268.2L288.3 268.3L287.9 268.4L287.5 268.3L286.9 268.3L286.3 268.2L285.6 268.0L284.9 268.0L284.3 268.2L283.6 268.2L282.9 268.3L282.3 268.5L281.6 268.6L280.8 268.4L280.2 268.5L279.5 268.5L278.9 268.6L278.2 268.6L277.6 268.7L277.1 268.8L276.6 268.9L276.2 269.0L275.9 269.2L275.7 269.4L275.2 269.4L274.8 269.5L274.4 269.5L274.0 269.6L273.7 269.7L273.5 269.8L273.6 269.9L273.7 270.0L273.7 270.2L273.9 270.3L274.2 270.3L274.2 270.5L274.2 270.6L274.6 270.7L274.9 270.8L275.4 270.9L275.8 270.9L276.4 270.9L276.8 271.0L277.4 271.1L277.9 271.1L278.5 271.1L279.2 271.1L279.8 271.2L280.5 271.2L281.0 271.4L281.6 271.6L282.2 271.8L282.9 271.9L283.5 272.2L284.2 272.2L284.9 272.2L285.6 272.2L286.2 272.2L286.9 272.2L287.4 272.3L287.9 272.4L288.3 272.4L288.7 272.2L289.2 272.0L289.7 271.9L290.3 272.0L290.9 271.7L291.6 271.8L292.3 271.9L293.1 272.0L293.6 271.7L294.4 271.8L295.1 271.8L295.8 271.7L296.4 271.5L297.1 271.6L297.6 271.4L298.1 271.2L298.8 271.2L299.2 271.1L299.6 270.9L300.1 270.9L300.5 270.8L301.0 270.8L301.5 270.7L302.0 270.7L302.2 270.6L302.5 270.5L302.4 270.3L302.5 270.2L302.4 270.1L302.6 270.0Z" fill="#000" fill-rule="evenodd"/>
<path d="M212.00 298.00v-1.6M212.00 220.15v1.6" stroke="#5a5a5a" stroke-width="0.9"/>
<text x="212.00" y="307.60" text-anchor="middle" font-size="8.2">-5</text>
<path d="M288.15 298.00v-1.6M288.15 220.15v1.6" stroke="#5a5a5a" stroke-width="0.9"/>
<text x="288.15" y="307.60" text-anchor="middle" font-size="8.2">0</text>
<path d="M364.30 298.00v-1.6M364.30 220.15v1.6" stroke="#5a5a5a" stroke-width="0.9"/>
<text x="364.30" y="307.60" text-anchor="middle" font-size="8.2">5</text>
<path d="M212.00 298.00h1.6M364.30 298.00h-1.6" stroke="#5a5a5a" stroke-width="0.9"/>
<text x="210.20" y="300.65" text-anchor="end" font-size="8.2">-0.4</text>
<path d="M212.00 283.85h1.6M364.30 283.85h-1.6" stroke="#5a5a5a" stroke-width="0.9"/>
<text x="210.20" y="286.50" text-anchor="end" font-size="8.2">-0.2</text>
<path d="M212.00 269.69h1.6M364.30 269.69h-1.6" stroke="#5a5a5a" stroke-width="0.9"/>
<text x="210.20" y="272.34" text-anchor="end" font-size="8.2">0</text>
<path d="M212.00 255.54h1.6M364.30 255.54h-1.6" stroke="#5a5a5a" stroke-width="0.9"/>
<text x="210.20" y="258.19" text-anchor="end" font-size="8.2">0.2</text>
<path d="M212.00 241.38h1.6M364.30 241.38h-1.6" stroke="#5a5a5a" stroke-width="0.9"/>
<text x="210.20" y="244.03" text-anchor="end" font-size="8.2">0.4</text>
<path d="M212.00 227.23h1.6M364.30 227.23h-1.6" stroke="#5a5a5a" stroke-width="0.9"/>
<text x="210.20" y="229.88" text-anchor="end" font-size="8.2">0.6</text>
<text x="344.70" y="319.60" font-size="9.1">×<tspan dx="0.4">10</tspan><tspan font-size="6.3" dx="0.9" dy="-4.8">-3</tspan></text>
<path d="M290.50 231.35h30.6" stroke="#1a1a1a" stroke-width="1.7"/>
<path d="M290.50 241.85h30.6" stroke="#ff0000" stroke-width="1.3"/>
<text x="323.50" y="234.55" font-size="8.4">Midpoint</text>
<text x="323.50" y="245.05" font-size="8.4">Endpoint</text>
<text x="288.35" y="317.60" text-anchor="middle" font-size="9.3">Displacement, <tspan font-style="italic">u</tspan>/(m)</text>
<text transform="translate(195.2 259.38) rotate(-90)" text-anchor="middle" font-size="9.3">Velocity, <tspan font-style="italic">v</tspan>/(m·s<tspan font-size="6.4" dy="-5.3">-1</tspan><tspan dy="5.3">)</tspan></text>
<clipPath id="c2"><rect x="391.60" y="220.15" width="152.00" height="77.85"/></clipPath>
<rect x="391.60" y="220.15" width="152.00" height="77.85" fill="none" stroke="#5a5a5a" stroke-width="0.9"/>
<g clip-path="url(#c2)">
<path d="M391.6 298.0L392.4 298.0L393.1 298.0L393.9 298.0L394.6 298.0L395.4 298.0L396.2 298.0L396.9 298.0L397.7 298.0L398.4 298.0L399.2 298.0L400.0 298.0L400.7 298.0L401.5 298.0L402.2 298.0L403.0 298.0L403.8 298.0L404.5 298.0L405.3 298.0L406.0 298.0L406.8 298.0L407.6 298.0L408.3 298.0L409.1 298.0L409.8 298.0L410.6 298.0L411.4 298.0L412.1 298.0L412.9 298.0L413.6 298.0L414.4 298.0L415.2 298.0L415.9 298.0L416.7 298.0L417.4 298.0L418.2 298.0L419.0 298.0L419.7 298.0L420.5 298.0L421.2 298.0L422.0 298.0L422.8 298.0L423.5 298.0L424.3 298.0L425.0 298.0L425.8 298.0L426.6 298.0L427.3 298.0L428.1 298.0L428.8 298.0L429.6 298.0L430.4 298.0L431.1 298.0L431.9 298.0L432.6 298.0L433.4 298.0L434.2 298.0L434.9 298.0L435.7 298.0L436.4 298.0L437.2 298.0L438.0 298.0L438.7 298.0L439.5 298.0L440.2 297.9L441.0 297.9L441.8 297.9L442.5 297.9L443.3 297.9L444.0 297.9L444.8 297.9L445.6 297.9L446.3 297.9L447.1 297.9L447.8 297.9L448.6 297.9L449.4 297.9L450.1 297.9L450.9 297.9L451.6 297.9L452.4 297.9L453.2 297.9L453.9 297.9L454.7 297.9L455.4 297.9L456.2 297.9L457.0 297.9L457.7 297.9L458.5 297.9L459.2 297.9L460.0 297.9L460.8 297.9L461.5 297.9L462.3 297.9L463.0 297.9L463.8 297.9L464.6 297.9L465.3 297.9L466.1 297.9L466.8 297.9L467.6 297.9L468.4 297.9L469.1 297.9L469.9 297.9L470.6 297.9L471.4 297.9L472.2 297.9L472.9 297.9L473.7 297.9L474.4 297.9L475.2 297.9L476.0 297.9L476.7 297.9L477.5 297.9L478.1 297.9L478.2 297.9L478.3 297.9L478.4 297.9L478.5 297.9L478.7 297.9L478.8 297.9L478.9 297.9L479.0 297.9L479.1 297.9L479.2 297.9L479.3 297.9L479.4 297.9L479.5 297.9L479.7 297.9L479.8 297.9L479.9 297.9L480.0 297.9L480.1 297.9L480.2 297.9L480.3 297.9L480.4 297.9L480.5 297.9L480.6 297.8L480.7 297.8L480.8 297.8L481.0 297.8L481.1 297.8L481.2 297.8L481.3 297.8L481.4 297.8L481.5 297.8L481.6 297.8L481.7 297.8L481.8 297.8L481.9 297.8L482.0 297.8L482.1 297.8L482.2 297.8L482.3 297.8L482.4 297.8L482.5 297.8L482.6 297.8L482.7 297.8L482.8 297.8L482.9 297.8L483.0 297.8L483.1 297.8L483.2 297.8L483.3 297.8L483.4 297.8L483.5 297.8L483.6 297.8L483.7 297.8L483.8 297.8L483.9 297.8L484.0 297.8L484.1 297.8L484.2 297.8L484.3 297.8L484.4 297.8L484.5 297.8L484.6 297.8L484.7 297.8L484.8 297.8L484.9 297.8L485.0 297.8L485.1 297.8L485.2 297.8L485.3 297.8L485.4 297.8L485.5 297.8L485.6 297.8L485.7 297.8L485.8 297.8L485.9 297.8L486.0 297.8L486.1 297.8L486.2 297.8L486.3 297.8L486.4 297.8L486.5 297.8L486.6 297.8L486.7 297.8L486.8 297.8L486.9 297.8L487.0 297.8L487.1 297.8L487.2 297.8L487.3 297.8L487.4 297.8L487.5 297.8L487.6 297.8L487.7 297.8L487.8 297.8L487.9 297.8L488.0 297.8L488.1 297.8L488.2 297.8L488.3 297.8L488.4 297.8L488.5 297.8L488.6 297.8L488.7 297.8L488.7 297.7L488.8 297.7L488.9 297.7L489.0 297.7L489.1 297.7L489.2 297.7L489.3 297.7L489.4 297.7L489.5 297.7L489.6 297.7L489.7 297.7L489.8 297.7L489.9 297.7L490.0 297.7L490.1 297.7L490.2 297.7L490.3 297.7L490.4 297.7L490.5 297.7L490.6 297.7L490.7 297.7L490.8 297.7L490.9 297.7L491.0 297.7L491.1 297.7L491.2 297.7L491.3 297.7L491.4 297.7L491.5 297.7L491.6 297.7L491.7 297.7L491.8 297.7L491.9 297.7L492.0 297.7L492.1 297.7L492.2 297.6L492.3 297.6L492.4 297.6L492.5 297.6L492.6 297.6L492.7 297.6L492.8 297.6L492.9 297.6L493.0 297.6L493.1 297.6L493.2 297.6L493.3 297.6L493.4 297.6L493.5 297.6L493.6 297.6L493.7 297.6L493.8 297.6L493.9 297.6L494.0 297.6L494.1 297.6L494.2 297.5L494.3 297.5L494.4 297.5L494.5 297.5L494.6 297.5L494.7 297.5L494.8 297.5L494.9 297.5L497.4 297.2L498.9 296.5L499.9 295.0L500.4 291.2L500.6 266.5L500.9 266.5L501.2 266.5L501.3 291.2L501.9 295.0L502.9 296.5L504.4 297.2L506.9 297.5L507.0 297.5L507.1 297.5L507.2 297.5L507.3 297.5L507.4 297.5L507.5 297.5L507.6 297.5L507.7 297.6L507.8 297.6L507.9 297.6L508.0 297.6L508.1 297.6L508.2 297.6L508.3 297.6L508.4 297.6L508.5 297.6L508.6 297.6L508.7 297.6L508.8 297.6L508.9 297.6L509.0 297.6L509.1 297.6L509.2 297.6L509.3 297.6L509.4 297.6L509.5 297.6L509.6 297.6L509.7 297.7L509.8 297.7L509.9 297.7L510.0 297.7L510.1 297.7L510.2 297.7L510.3 297.7L510.4 297.7L510.5 297.7L510.6 297.7L510.7 297.7L510.8 297.7L510.9 297.7L511.0 297.7L511.1 297.7L511.2 297.7L511.3 297.7L511.4 297.7L511.5 297.7L511.6 297.7L511.7 297.7L511.8 297.7L511.9 297.7L512.0 297.7L512.1 297.7L512.2 297.7L512.3 297.7L512.4 297.7L512.5 297.7L512.6 297.7L512.7 297.7L512.8 297.7L512.9 297.7L513.0 297.7L513.1 297.8L513.2 297.8L513.3 297.8L513.4 297.8L513.5 297.8L513.6 297.8L513.7 297.8L513.8 297.8L513.9 297.8L514.0 297.8L514.1 297.8L514.2 297.8L514.3 297.8L514.4 297.8L514.5 297.8L514.6 297.8L514.7 297.8L514.8 297.8L514.9 297.8L515.0 297.8L515.1 297.8L515.2 297.8L515.3 297.8L515.4 297.8L515.5 297.8L515.6 297.8L515.7 297.8L515.8 297.8L515.9 297.8L516.0 297.8L516.1 297.8L516.2 297.8L516.3 297.8L516.4 297.8L516.5 297.8L516.6 297.8L516.7 297.8L516.8 297.8L516.9 297.8L517.0 297.8L517.1 297.8L517.2 297.8L517.3 297.8L517.4 297.8L517.5 297.8L517.6 297.8L517.7 297.8L517.8 297.8L517.9 297.8L518.0 297.8L518.1 297.8L518.2 297.8L518.3 297.8L518.4 297.8L518.5 297.8L518.6 297.8L518.7 297.8L518.8 297.8L518.9 297.8L519.0 297.8L519.2 297.8L519.3 297.8L519.4 297.8L519.5 297.8L519.6 297.8L519.7 297.8L519.8 297.8L519.9 297.8L520.0 297.8L520.1 297.8L520.2 297.8L520.3 297.8L520.4 297.8L520.5 297.8L520.6 297.8L520.7 297.8L520.8 297.8L520.9 297.8L521.0 297.8L521.1 297.8L521.2 297.9L521.4 297.9L521.5 297.9L521.6 297.9L521.7 297.9L521.8 297.9L521.9 297.9L522.0 297.9L522.1 297.9L522.2 297.9L522.3 297.9L522.5 297.9L522.6 297.9L522.7 297.9L522.8 297.9L522.9 297.9L523.0 297.9L523.1 297.9L523.2 297.9L523.3 297.9L523.5 297.9L523.6 297.9L523.7 297.9L523.8 297.9L524.6 297.9L525.4 297.9L526.1 297.9L526.9 297.9L527.6 297.9L528.4 297.9L529.2 297.9L529.9 297.9L530.7 297.9L531.4 297.9L532.2 297.9L533.0 297.9L533.7 297.9L534.5 297.9L535.2 297.9L536.0 297.9L536.8 297.9L537.5 297.9L538.3 297.9L539.0 297.9L539.8 297.9L540.6 297.9L541.3 297.9L542.1 297.9L542.8 297.9L543.6 297.9" fill="none" stroke="#111" stroke-width="1.35" stroke-linejoin="round"/>
<path d="M391.6 297.9L392.4 297.9L393.1 297.9L393.9 297.9L394.6 297.9L395.4 297.9L396.2 297.9L396.9 297.9L397.7 297.9L398.4 297.9L399.2 297.9L400.0 297.9L400.7 297.9L401.5 297.9L402.2 297.9L403.0 297.9L403.8 297.9L404.5 297.9L405.3 297.9L406.0 297.9L406.8 297.9L407.6 297.9L408.3 297.9L409.1 297.9L409.8 297.9L410.6 297.9L411.4 297.9L412.1 297.9L412.9 297.9L413.6 297.9L414.4 297.9L415.2 297.9L415.9 297.9L416.7 297.9L417.4 297.9L418.2 297.9L419.0 297.9L419.7 297.9L420.5 297.9L421.2 297.9L422.0 297.9L422.8 297.9L423.5 297.9L424.3 297.9L425.0 297.9L425.8 297.9L426.6 297.9L427.3 297.9L428.1 297.8L428.8 297.8L429.6 297.8L430.4 297.8L431.1 297.8L431.9 297.8L432.6 297.8L433.4 297.8L434.2 297.8L434.9 297.8L435.7 297.8L436.4 297.8L437.2 297.8L438.0 297.8L438.7 297.8L439.5 297.8L440.2 297.8L441.0 297.8L441.8 297.8L442.5 297.8L443.3 297.8L444.0 297.8L444.8 297.8L445.6 297.8L446.3 297.8L447.1 297.8L447.8 297.8L448.6 297.8L449.4 297.8L450.1 297.8L450.9 297.8L451.6 297.8L452.4 297.8L453.2 297.8L453.9 297.8L454.7 297.8L455.4 297.8L456.2 297.8L457.0 297.7L457.7 297.7L458.5 297.7L459.2 297.7L460.0 297.7L460.8 297.7L461.5 297.7L462.3 297.7L463.0 297.7L463.8 297.7L464.6 297.7L465.3 297.7L466.1 297.7L466.8 297.7L467.6 297.7L468.4 297.7L469.1 297.7L469.9 297.6L470.6 297.6L471.4 297.6L472.2 297.6L472.9 297.6L473.7 297.6L474.4 297.6L475.2 297.6L476.0 297.6L476.7 297.5L477.5 297.5L478.1 297.5L478.2 297.5L478.3 297.5L478.4 297.5L478.5 297.5L478.7 297.5L478.8 297.5L478.9 297.5L479.0 297.5L479.1 297.5L479.2 297.5L479.3 297.5L479.4 297.5L479.5 297.5L479.7 297.5L479.8 297.5L479.9 297.5L480.0 297.5L480.1 297.5L480.2 297.5L480.3 297.5L480.4 297.5L480.5 297.5L480.6 297.5L480.7 297.5L480.8 297.5L481.0 297.4L481.1 297.4L481.2 297.4L481.3 297.4L481.4 297.4L481.5 297.4L481.6 297.4L481.7 297.4L481.8 297.4L481.9 297.4L482.0 297.4L482.1 297.4L482.2 297.4L482.3 297.4L482.4 297.4L482.5 297.4L482.6 297.4L482.7 297.4L482.8 297.4L482.9 297.4L483.0 297.4L483.1 297.4L483.2 297.4L483.3 297.4L483.4 297.4L483.5 297.4L483.6 297.4L483.7 297.4L483.8 297.4L483.9 297.4L484.0 297.3L484.1 297.3L484.2 297.3L484.3 297.3L484.4 297.3L484.5 297.3L484.6 297.3L484.7 297.3L484.8 297.3L484.9 297.3L485.0 297.3L485.1 297.3L485.2 297.3L485.3 297.3L485.4 297.3L485.5 297.3L485.6 297.3L485.7 297.3L485.8 297.3L485.9 297.3L486.0 297.3L486.1 297.3L486.2 297.3L486.3 297.2L486.4 297.2L486.5 297.2L486.6 297.2L486.7 297.2L486.8 297.2L486.9 297.2L487.0 297.2L487.1 297.2L487.2 297.2L487.3 297.2L487.4 297.2L487.5 297.2L487.6 297.2L487.7 297.2L487.8 297.2L487.9 297.2L488.0 297.1L488.1 297.1L488.2 297.1L488.3 297.1L488.4 297.1L488.5 297.1L488.6 297.1L488.7 297.1L488.8 297.1L488.9 297.1L489.0 297.1L489.1 297.1L489.2 297.1L489.3 297.1L489.4 297.0L489.5 297.0L489.6 297.0L489.7 297.0L489.8 297.0L489.9 297.0L490.0 297.0L490.1 297.0L490.2 297.0L490.3 297.0L490.4 297.0L490.5 296.9L490.6 296.9L490.7 296.9L490.8 296.9L490.9 296.9L494.9 296.3L497.1 295.5L498.7 293.8L499.6 290.4L499.9 281.1L500.7 220.2L500.9 220.2L501.0 220.2L501.9 281.1L502.2 290.4L503.1 293.8L504.7 295.5L506.9 296.3L510.9 296.9L511.0 296.9L511.1 296.9L511.2 296.9L511.3 296.9L511.4 297.0L511.5 297.0L511.6 297.0L511.7 297.0L511.8 297.0L511.9 297.0L512.0 297.0L512.1 297.0L512.2 297.0L512.3 297.0L512.4 297.0L512.5 297.1L512.6 297.1L512.7 297.1L512.8 297.1L512.9 297.1L513.0 297.1L513.1 297.1L513.2 297.1L513.3 297.1L513.4 297.1L513.5 297.1L513.6 297.1L513.7 297.1L513.8 297.1L513.9 297.2L514.0 297.2L514.1 297.2L514.2 297.2L514.3 297.2L514.4 297.2L514.5 297.2L514.6 297.2L514.7 297.2L514.8 297.2L514.9 297.2L515.0 297.2L515.1 297.2L515.2 297.2L515.3 297.2L515.4 297.2L515.5 297.2L515.6 297.3L515.7 297.3L515.8 297.3L515.9 297.3L516.0 297.3L516.1 297.3L516.2 297.3L516.3 297.3L516.4 297.3L516.5 297.3L516.6 297.3L516.7 297.3L516.8 297.3L516.9 297.3L517.0 297.3L517.1 297.3L517.2 297.3L517.3 297.3L517.4 297.3L517.5 297.3L517.6 297.3L517.7 297.3L517.8 297.3L517.8 297.4L517.9 297.4L518.0 297.4L518.1 297.4L518.2 297.4L518.3 297.4L518.4 297.4L518.5 297.4L518.6 297.4L518.7 297.4L518.8 297.4L518.9 297.4L519.0 297.4L519.2 297.4L519.3 297.4L519.4 297.4L519.5 297.4L519.6 297.4L519.7 297.4L519.8 297.4L519.9 297.4L520.0 297.4L520.1 297.4L520.2 297.4L520.3 297.4L520.4 297.4L520.5 297.4L520.6 297.4L520.7 297.4L520.8 297.4L520.9 297.5L521.0 297.5L521.1 297.5L521.2 297.5L521.4 297.5L521.5 297.5L521.6 297.5L521.7 297.5L521.8 297.5L521.9 297.5L522.0 297.5L522.1 297.5L522.2 297.5L522.3 297.5L522.5 297.5L522.6 297.5L522.7 297.5L522.8 297.5L522.9 297.5L523.0 297.5L523.1 297.5L523.2 297.5L523.3 297.5L523.5 297.5L523.6 297.5L523.7 297.5L523.8 297.5L524.6 297.5L525.4 297.6L526.1 297.6L526.9 297.6L527.6 297.6L528.4 297.6L529.2 297.6L529.9 297.6L530.7 297.6L531.4 297.6L532.2 297.6L533.0 297.7L533.7 297.7L534.5 297.7L535.2 297.7L536.0 297.7L536.8 297.7L537.5 297.7L538.3 297.7L539.0 297.7L539.8 297.7L540.6 297.7L541.3 297.7L542.1 297.7L542.8 297.7L543.6 297.7" fill="none" stroke="#ff0000" stroke-width="1.6" stroke-linejoin="round"/>
<path d="M500.4 291.2L500.6 266.5L500.9 266.5L501.2 266.5L501.3 291.2" fill="none" stroke="#111" stroke-width="0.75" stroke-linejoin="round"/>
</g>
<path d="M391.60 298.00v-1.6M391.60 220.15v1.6" stroke="#5a5a5a" stroke-width="0.9"/>
<text x="391.60" y="307.60" text-anchor="middle" font-size="8.2">9</text>
<path d="M429.60 298.00v-1.6M429.60 220.15v1.6" stroke="#5a5a5a" stroke-width="0.9"/>
<text x="429.60" y="307.60" text-anchor="middle" font-size="8.2">9.5</text>
<path d="M467.60 298.00v-1.6M467.60 220.15v1.6" stroke="#5a5a5a" stroke-width="0.9"/>
<text x="467.60" y="307.60" text-anchor="middle" font-size="8.2">10</text>
<path d="M505.60 298.00v-1.6M505.60 220.15v1.6" stroke="#5a5a5a" stroke-width="0.9"/>
<text x="505.60" y="307.60" text-anchor="middle" font-size="8.2">10.5</text>
<path d="M543.60 298.00v-1.6M543.60 220.15v1.6" stroke="#5a5a5a" stroke-width="0.9"/>
<text x="543.60" y="307.60" text-anchor="middle" font-size="8.2">11</text>
<path d="M391.60 298.00h1.6M543.60 298.00h-1.6" stroke="#5a5a5a" stroke-width="0.9"/>
<path d="M391.60 281.09h1.6M543.60 281.09h-1.6" stroke="#5a5a5a" stroke-width="0.9"/>
<text x="389.80" y="283.74" text-anchor="end" font-size="8.2">20</text>
<path d="M391.60 264.19h1.6M543.60 264.19h-1.6" stroke="#5a5a5a" stroke-width="0.9"/>
<text x="389.80" y="266.84" text-anchor="end" font-size="8.2">40</text>
<path d="M391.60 247.28h1.6M543.60 247.28h-1.6" stroke="#5a5a5a" stroke-width="0.9"/>
<text x="389.80" y="249.93" text-anchor="end" font-size="8.2">60</text>
<path d="M391.60 230.38h1.6M543.60 230.38h-1.6" stroke="#5a5a5a" stroke-width="0.9"/>
<text x="389.80" y="233.03" text-anchor="end" font-size="8.2">80</text>
<path d="M401.20 231.35h30.6" stroke="#1a1a1a" stroke-width="1.7"/>
<path d="M401.20 241.85h30.6" stroke="#ff0000" stroke-width="1.3"/>
<text x="434.20" y="234.55" font-size="8.4">Midpoint</text>
<text x="434.20" y="245.05" font-size="8.4">Endpoint</text>
<text x="467.80" y="317.60" text-anchor="middle" font-size="9.3">Frequency, <tspan font-style="italic">Ω</tspan>/(Hz)</text>
<text transform="translate(378.8 258.77) rotate(-90)" text-anchor="middle" font-size="9.3">Displacement, <tspan font-style="italic">u</tspan>/(m)</text>
<text x="3.8" y="218.7" font-size="8.4" style="fill:#333;stroke:#333;stroke-width:0.1px">(c)</text>
</svg>
</body></html>
